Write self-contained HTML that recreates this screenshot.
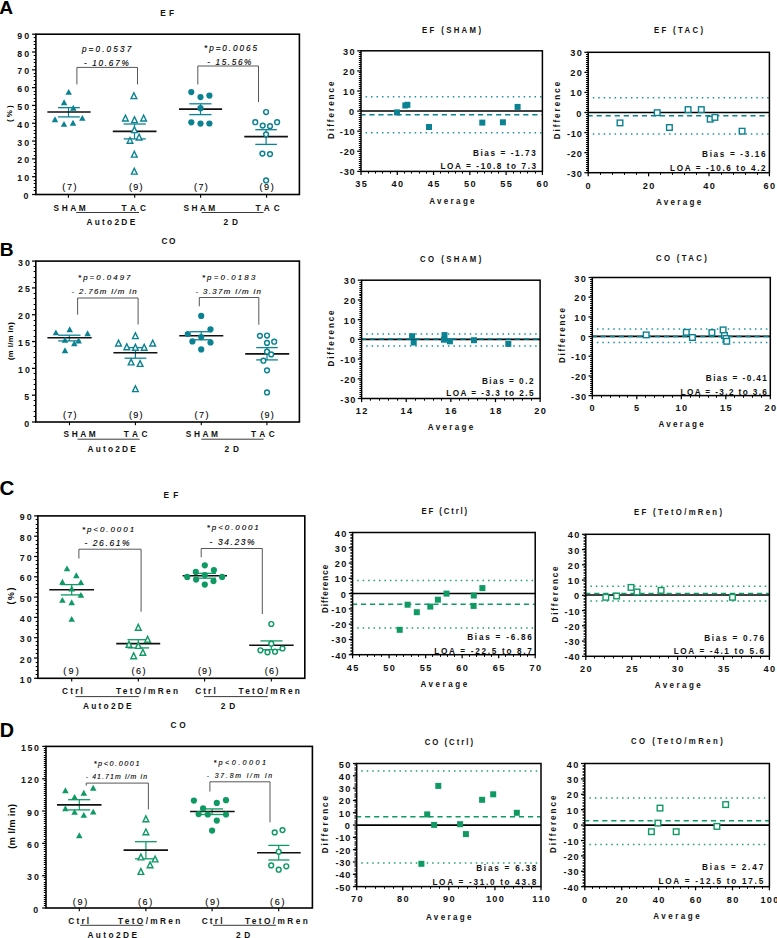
<!DOCTYPE html>
<html><head><meta charset="utf-8"><style>
html,body{margin:0;padding:0;background:#fff;}
svg{display:block;font-family:"Liberation Sans", sans-serif;}
</style></head><body>
<svg width="777" height="938" viewBox="0 0 777 938">
<rect width="777" height="938" fill="#fff"/>
<text x="-0.8" y="13.8" style="font-size:19.2px;font-weight:bold;fill:#000">A</text>
<text x="-0.2" y="255.9" style="font-size:19.2px;font-weight:bold;fill:#000">B</text>
<text x="-0.6" y="495" style="font-size:20.5px;font-weight:bold;fill:#000">C</text>
<text x="-0.2" y="737.3" style="font-size:19.8px;font-weight:bold;fill:#000">D</text>
<line x1="32.1" y1="194.5" x2="35.9" y2="194.5" stroke="#000" stroke-width="1.25" stroke-linecap="butt"/>
<line x1="33.7" y1="190.5" x2="35.9" y2="190.5" stroke="#000" stroke-width="1" stroke-linecap="butt"/>
<line x1="33.7" y1="187.5" x2="35.9" y2="187.5" stroke="#000" stroke-width="1" stroke-linecap="butt"/>
<line x1="33.7" y1="183.5" x2="35.9" y2="183.5" stroke="#000" stroke-width="1" stroke-linecap="butt"/>
<line x1="33.7" y1="180.5" x2="35.9" y2="180.5" stroke="#000" stroke-width="1" stroke-linecap="butt"/>
<line x1="32.1" y1="176.69" x2="35.9" y2="176.69" stroke="#000" stroke-width="1.25" stroke-linecap="butt"/>
<line x1="33.7" y1="173.5" x2="35.9" y2="173.5" stroke="#000" stroke-width="1" stroke-linecap="butt"/>
<line x1="33.7" y1="169.5" x2="35.9" y2="169.5" stroke="#000" stroke-width="1" stroke-linecap="butt"/>
<line x1="33.7" y1="166.5" x2="35.9" y2="166.5" stroke="#000" stroke-width="1" stroke-linecap="butt"/>
<line x1="33.7" y1="162.5" x2="35.9" y2="162.5" stroke="#000" stroke-width="1" stroke-linecap="butt"/>
<line x1="32.1" y1="158.88" x2="35.9" y2="158.88" stroke="#000" stroke-width="1.25" stroke-linecap="butt"/>
<line x1="33.7" y1="155.5" x2="35.9" y2="155.5" stroke="#000" stroke-width="1" stroke-linecap="butt"/>
<line x1="33.7" y1="151.5" x2="35.9" y2="151.5" stroke="#000" stroke-width="1" stroke-linecap="butt"/>
<line x1="33.7" y1="148.5" x2="35.9" y2="148.5" stroke="#000" stroke-width="1" stroke-linecap="butt"/>
<line x1="33.7" y1="144.5" x2="35.9" y2="144.5" stroke="#000" stroke-width="1" stroke-linecap="butt"/>
<line x1="32.1" y1="141.07" x2="35.9" y2="141.07" stroke="#000" stroke-width="1.25" stroke-linecap="butt"/>
<line x1="33.7" y1="137.5" x2="35.9" y2="137.5" stroke="#000" stroke-width="1" stroke-linecap="butt"/>
<line x1="33.7" y1="133.5" x2="35.9" y2="133.5" stroke="#000" stroke-width="1" stroke-linecap="butt"/>
<line x1="33.7" y1="130.5" x2="35.9" y2="130.5" stroke="#000" stroke-width="1" stroke-linecap="butt"/>
<line x1="33.7" y1="126.5" x2="35.9" y2="126.5" stroke="#000" stroke-width="1" stroke-linecap="butt"/>
<line x1="32.1" y1="123.26" x2="35.9" y2="123.26" stroke="#000" stroke-width="1.25" stroke-linecap="butt"/>
<line x1="33.7" y1="119.5" x2="35.9" y2="119.5" stroke="#000" stroke-width="1" stroke-linecap="butt"/>
<line x1="33.7" y1="116.5" x2="35.9" y2="116.5" stroke="#000" stroke-width="1" stroke-linecap="butt"/>
<line x1="33.7" y1="112.5" x2="35.9" y2="112.5" stroke="#000" stroke-width="1" stroke-linecap="butt"/>
<line x1="33.7" y1="109.5" x2="35.9" y2="109.5" stroke="#000" stroke-width="1" stroke-linecap="butt"/>
<line x1="32.1" y1="105.44" x2="35.9" y2="105.44" stroke="#000" stroke-width="1.25" stroke-linecap="butt"/>
<line x1="33.7" y1="101.5" x2="35.9" y2="101.5" stroke="#000" stroke-width="1" stroke-linecap="butt"/>
<line x1="33.7" y1="98.5" x2="35.9" y2="98.5" stroke="#000" stroke-width="1" stroke-linecap="butt"/>
<line x1="33.7" y1="94.5" x2="35.9" y2="94.5" stroke="#000" stroke-width="1" stroke-linecap="butt"/>
<line x1="33.7" y1="91.5" x2="35.9" y2="91.5" stroke="#000" stroke-width="1" stroke-linecap="butt"/>
<line x1="32.1" y1="87.63" x2="35.9" y2="87.63" stroke="#000" stroke-width="1.25" stroke-linecap="butt"/>
<line x1="33.7" y1="84.5" x2="35.9" y2="84.5" stroke="#000" stroke-width="1" stroke-linecap="butt"/>
<line x1="33.7" y1="80.5" x2="35.9" y2="80.5" stroke="#000" stroke-width="1" stroke-linecap="butt"/>
<line x1="33.7" y1="76.5" x2="35.9" y2="76.5" stroke="#000" stroke-width="1" stroke-linecap="butt"/>
<line x1="33.7" y1="73.5" x2="35.9" y2="73.5" stroke="#000" stroke-width="1" stroke-linecap="butt"/>
<line x1="32.1" y1="69.82" x2="35.9" y2="69.82" stroke="#000" stroke-width="1.25" stroke-linecap="butt"/>
<line x1="33.7" y1="66.5" x2="35.9" y2="66.5" stroke="#000" stroke-width="1" stroke-linecap="butt"/>
<line x1="33.7" y1="62.5" x2="35.9" y2="62.5" stroke="#000" stroke-width="1" stroke-linecap="butt"/>
<line x1="33.7" y1="59.5" x2="35.9" y2="59.5" stroke="#000" stroke-width="1" stroke-linecap="butt"/>
<line x1="33.7" y1="55.5" x2="35.9" y2="55.5" stroke="#000" stroke-width="1" stroke-linecap="butt"/>
<line x1="32.1" y1="52.01" x2="35.9" y2="52.01" stroke="#000" stroke-width="1.25" stroke-linecap="butt"/>
<line x1="33.7" y1="48.5" x2="35.9" y2="48.5" stroke="#000" stroke-width="1" stroke-linecap="butt"/>
<line x1="33.7" y1="44.5" x2="35.9" y2="44.5" stroke="#000" stroke-width="1" stroke-linecap="butt"/>
<line x1="33.7" y1="41.5" x2="35.9" y2="41.5" stroke="#000" stroke-width="1" stroke-linecap="butt"/>
<line x1="33.7" y1="37.5" x2="35.9" y2="37.5" stroke="#000" stroke-width="1" stroke-linecap="butt"/>
<line x1="32.1" y1="34.2" x2="35.9" y2="34.2" stroke="#000" stroke-width="1.25" stroke-linecap="butt"/>
<line x1="68.4" y1="194.5" x2="68.4" y2="197.7" stroke="#000" stroke-width="1.1" stroke-linecap="butt"/>
<line x1="134.7" y1="194.5" x2="134.7" y2="197.7" stroke="#000" stroke-width="1.1" stroke-linecap="butt"/>
<line x1="200.6" y1="194.5" x2="200.6" y2="197.7" stroke="#000" stroke-width="1.1" stroke-linecap="butt"/>
<line x1="266.6" y1="194.5" x2="266.6" y2="197.7" stroke="#000" stroke-width="1.1" stroke-linecap="butt"/>
<rect x="35.9" y="34.2" width="263.5" height="160.3" fill="none" stroke="#000" stroke-width="1.6"/>
<polyline points="76.9,84.4 76.9,67.4 137.5,67.4 137.5,84.4" fill="none" stroke="#444" stroke-width="0.9"/>
<polyline points="197.8,84.4 197.8,66 258.5,66 258.5,102" fill="none" stroke="#444" stroke-width="0.9"/>
<text transform="translate(81.9,51.7) scale(1,1)" textLength="49.3" lengthAdjust="spacing" style="font-size:8.2px;font-weight:normal;font-style:italic;fill:#000;stroke:#000;stroke-width:0.12px">p=0.0537</text>
<text transform="translate(83.9,65.7) scale(1,1)" textLength="44.8" lengthAdjust="spacing" style="font-size:8.2px;font-weight:normal;font-style:italic;fill:#000;stroke:#000;stroke-width:0.12px">- 10.67%</text>
<text transform="translate(204.1,51.2) scale(1,1)" textLength="52.9" lengthAdjust="spacing" style="font-size:8.2px;font-weight:normal;font-style:italic;fill:#000;stroke:#000;stroke-width:0.12px">*p=0.0065</text>
<text transform="translate(207.2,65) scale(1,1)" textLength="44.2" lengthAdjust="spacing" style="font-size:8.2px;font-weight:normal;font-style:italic;fill:#000;stroke:#000;stroke-width:0.12px">- 15.56%</text>
<line x1="68.5" y1="107.65" x2="68.5" y2="116.9" stroke="#0b8292" stroke-width="1.2" stroke-linecap="butt"/>
<line x1="58" y1="107.65" x2="79.8" y2="107.65" stroke="#0b8292" stroke-width="1.3" stroke-linecap="butt"/>
<line x1="58" y1="116.9" x2="79.8" y2="116.9" stroke="#0b8292" stroke-width="1.3" stroke-linecap="butt"/>
<line x1="47.4" y1="112" x2="90.6" y2="112" stroke="#111" stroke-width="1.6" stroke-linecap="butt"/>
<line x1="134.5" y1="124" x2="134.5" y2="138.9" stroke="#0b8292" stroke-width="1.2" stroke-linecap="butt"/>
<line x1="123.7" y1="124" x2="145.8" y2="124" stroke="#0b8292" stroke-width="1.3" stroke-linecap="butt"/>
<line x1="123.7" y1="138.9" x2="145.8" y2="138.9" stroke="#0b8292" stroke-width="1.3" stroke-linecap="butt"/>
<line x1="112.8" y1="131.4" x2="156.5" y2="131.4" stroke="#111" stroke-width="1.6" stroke-linecap="butt"/>
<line x1="200.5" y1="103.8" x2="200.5" y2="114.6" stroke="#0b8292" stroke-width="1.2" stroke-linecap="butt"/>
<line x1="189.3" y1="103.8" x2="211.5" y2="103.8" stroke="#0b8292" stroke-width="1.3" stroke-linecap="butt"/>
<line x1="189.3" y1="114.6" x2="211.5" y2="114.6" stroke="#0b8292" stroke-width="1.3" stroke-linecap="butt"/>
<line x1="179" y1="109.1" x2="222.1" y2="109.1" stroke="#111" stroke-width="1.6" stroke-linecap="butt"/>
<line x1="266.1" y1="129.7" x2="266.1" y2="144.4" stroke="#0b8292" stroke-width="1.2" stroke-linecap="butt"/>
<line x1="255.3" y1="129.7" x2="276.9" y2="129.7" stroke="#0b8292" stroke-width="1.3" stroke-linecap="butt"/>
<line x1="255.3" y1="144.4" x2="276.9" y2="144.4" stroke="#0b8292" stroke-width="1.3" stroke-linecap="butt"/>
<line x1="244.3" y1="136.6" x2="287.9" y2="136.6" stroke="#111" stroke-width="1.6" stroke-linecap="butt"/>
<polygon points="68.7,88.95 65.45,94.85 71.95,94.85" fill="#0b8292"/>
<polygon points="64.1,99.35 60.85,105.25 67.35,105.25" fill="#0b8292"/>
<polygon points="73.3,104.75 70.05,110.65 76.55,110.65" fill="#0b8292"/>
<polygon points="55,116.25 51.75,122.15 58.25,122.15" fill="#0b8292"/>
<polygon points="82.3,114.95 79.05,120.85 85.55,120.85" fill="#0b8292"/>
<polygon points="64,120.95 60.75,126.85 67.25,126.85" fill="#0b8292"/>
<polygon points="73,119.75 69.75,125.65 76.25,125.65" fill="#0b8292"/>
<polygon points="133.9,92.8 131.05,98.6 136.75,98.6" fill="#fff" stroke="#0b8292" stroke-width="1.4" stroke-linejoin="miter"/>
<polygon points="125.4,115.2 122.55,121 128.25,121" fill="#fff" stroke="#0b8292" stroke-width="1.4" stroke-linejoin="miter"/>
<polygon points="134.5,116.8 131.65,122.6 137.35,122.6" fill="#fff" stroke="#0b8292" stroke-width="1.4" stroke-linejoin="miter"/>
<polygon points="143.6,115.2 140.75,121 146.45,121" fill="#fff" stroke="#0b8292" stroke-width="1.4" stroke-linejoin="miter"/>
<polygon points="134.4,126.8 131.55,132.6 137.25,132.6" fill="#fff" stroke="#0b8292" stroke-width="1.4" stroke-linejoin="miter"/>
<polygon points="139.1,134.2 136.25,140 141.95,140" fill="#fff" stroke="#0b8292" stroke-width="1.4" stroke-linejoin="miter"/>
<polygon points="130,137.5 127.15,143.3 132.85,143.3" fill="#fff" stroke="#0b8292" stroke-width="1.4" stroke-linejoin="miter"/>
<polygon points="134.3,151.3 131.45,157.1 137.15,157.1" fill="#fff" stroke="#0b8292" stroke-width="1.4" stroke-linejoin="miter"/>
<polygon points="134.3,168.3 131.45,174.1 137.15,174.1" fill="#fff" stroke="#0b8292" stroke-width="1.4" stroke-linejoin="miter"/>
<circle cx="191.3" cy="92.1" r="3.1" fill="#0b8292"/>
<circle cx="200.5" cy="97.1" r="3.1" fill="#0b8292"/>
<circle cx="209.4" cy="95.6" r="3.1" fill="#0b8292"/>
<circle cx="200.5" cy="108.2" r="3.1" fill="#0b8292"/>
<circle cx="191.3" cy="122.3" r="3.1" fill="#0b8292"/>
<circle cx="200.5" cy="123.6" r="3.1" fill="#0b8292"/>
<circle cx="209.4" cy="123.5" r="3.1" fill="#0b8292"/>
<circle cx="266.1" cy="112" r="2.4" fill="#fff" stroke="#0b8292" stroke-width="1.45"/>
<circle cx="255.3" cy="122.2" r="2.4" fill="#fff" stroke="#0b8292" stroke-width="1.45"/>
<circle cx="262.7" cy="125.6" r="2.4" fill="#fff" stroke="#0b8292" stroke-width="1.45"/>
<circle cx="270" cy="126.2" r="2.4" fill="#fff" stroke="#0b8292" stroke-width="1.45"/>
<circle cx="277.1" cy="122.2" r="2.4" fill="#fff" stroke="#0b8292" stroke-width="1.45"/>
<circle cx="266.1" cy="134.3" r="2.4" fill="#fff" stroke="#0b8292" stroke-width="1.45"/>
<circle cx="262.4" cy="153.6" r="2.4" fill="#fff" stroke="#0b8292" stroke-width="1.45"/>
<circle cx="270" cy="154.1" r="2.4" fill="#fff" stroke="#0b8292" stroke-width="1.45"/>
<circle cx="266.1" cy="180.4" r="2.4" fill="#fff" stroke="#0b8292" stroke-width="1.45"/>
<text transform="translate(23.4,199.02) scale(1.05,1)" textLength="5.43" lengthAdjust="spacing" style="font-size:8.4px;font-weight:bold;font-style:normal;fill:#111">0</text>
<text transform="translate(17.2,181.21) scale(1.05,1)" textLength="11.33" lengthAdjust="spacing" style="font-size:8.4px;font-weight:bold;font-style:normal;fill:#111">10</text>
<text transform="translate(17.2,163.4) scale(1.05,1)" textLength="11.33" lengthAdjust="spacing" style="font-size:8.4px;font-weight:bold;font-style:normal;fill:#111">20</text>
<text transform="translate(17.2,145.59) scale(1.05,1)" textLength="11.33" lengthAdjust="spacing" style="font-size:8.4px;font-weight:bold;font-style:normal;fill:#111">30</text>
<text transform="translate(17.2,127.78) scale(1.05,1)" textLength="11.33" lengthAdjust="spacing" style="font-size:8.4px;font-weight:bold;font-style:normal;fill:#111">40</text>
<text transform="translate(17.2,109.97) scale(1.05,1)" textLength="11.33" lengthAdjust="spacing" style="font-size:8.4px;font-weight:bold;font-style:normal;fill:#111">50</text>
<text transform="translate(17.2,92.16) scale(1.05,1)" textLength="11.33" lengthAdjust="spacing" style="font-size:8.4px;font-weight:bold;font-style:normal;fill:#111">60</text>
<text transform="translate(17.2,74.35) scale(1.05,1)" textLength="11.33" lengthAdjust="spacing" style="font-size:8.4px;font-weight:bold;font-style:normal;fill:#111">70</text>
<text transform="translate(17.2,56.54) scale(1.05,1)" textLength="11.33" lengthAdjust="spacing" style="font-size:8.4px;font-weight:bold;font-style:normal;fill:#111">80</text>
<text transform="translate(17.2,38.72) scale(1.05,1)" textLength="11.33" lengthAdjust="spacing" style="font-size:8.4px;font-weight:bold;font-style:normal;fill:#111">90</text>
<text transform="translate(62.3,189.8) scale(1.05,1)" textLength="13.62" lengthAdjust="spacing" style="font-size:8.6px;font-weight:normal;font-style:normal;fill:#000;stroke:#000;stroke-width:0.1px">(7)</text>
<text transform="translate(128.9,189.8) scale(1.05,1)" textLength="13.05" lengthAdjust="spacing" style="font-size:8.6px;font-weight:normal;font-style:normal;fill:#000;stroke:#000;stroke-width:0.1px">(9)</text>
<text transform="translate(194.1,189.8) scale(1.05,1)" textLength="13.05" lengthAdjust="spacing" style="font-size:8.6px;font-weight:normal;font-style:normal;fill:#000;stroke:#000;stroke-width:0.1px">(7)</text>
<text transform="translate(259.4,189.8) scale(1.05,1)" textLength="13.71" lengthAdjust="spacing" style="font-size:8.6px;font-weight:normal;font-style:normal;fill:#000;stroke:#000;stroke-width:0.1px">(9)</text>
<text transform="translate(53.6,210.8) scale(1,1)" textLength="32.1" lengthAdjust="spacing" style="font-size:8.3px;font-weight:bold;font-style:normal;fill:#111">SHAM</text>
<text transform="translate(121.5,210.8) scale(1,1)" textLength="24.4" lengthAdjust="spacing" style="font-size:8.3px;font-weight:bold;font-style:normal;fill:#111">TAC</text>
<text transform="translate(183.4,210.8) scale(1,1)" textLength="31.8" lengthAdjust="spacing" style="font-size:8.3px;font-weight:bold;font-style:normal;fill:#111">SHAM</text>
<text transform="translate(255.4,210.8) scale(1,1)" textLength="24.4" lengthAdjust="spacing" style="font-size:8.3px;font-weight:bold;font-style:normal;fill:#111">TAC</text>
<line x1="76.1" y1="212.5" x2="139" y2="212.5" stroke="#222" stroke-width="0.9" stroke-linecap="butt"/>
<line x1="201.6" y1="212.5" x2="263.6" y2="212.5" stroke="#222" stroke-width="0.9" stroke-linecap="butt"/>
<text transform="translate(86.4,224.9) scale(1,1)" textLength="48.8" lengthAdjust="spacing" style="font-size:8.3px;font-weight:bold;font-style:normal;fill:#111">Auto2DE</text>
<text transform="translate(223.6,224.9) scale(1,1)" textLength="14.4" lengthAdjust="spacing" style="font-size:8.3px;font-weight:bold;font-style:normal;fill:#111">2D</text>
<text transform="translate(12,122) rotate(-90) scale(1,1)" textLength="16.8" lengthAdjust="spacing" style="font-size:8px;font-weight:bold;font-style:normal;fill:#000">(%)</text>
<text transform="translate(160.2,16.1) scale(1,1)" textLength="14" lengthAdjust="spacing" style="font-size:8.3px;font-weight:bold;font-style:normal;fill:#111">EF</text>
<line x1="32" y1="422" x2="35.8" y2="422" stroke="#000" stroke-width="1.25" stroke-linecap="butt"/>
<line x1="33.6" y1="416.5" x2="35.8" y2="416.5" stroke="#000" stroke-width="1" stroke-linecap="butt"/>
<line x1="33.6" y1="411.5" x2="35.8" y2="411.5" stroke="#000" stroke-width="1" stroke-linecap="butt"/>
<line x1="33.6" y1="405.5" x2="35.8" y2="405.5" stroke="#000" stroke-width="1" stroke-linecap="butt"/>
<line x1="33.6" y1="400.5" x2="35.8" y2="400.5" stroke="#000" stroke-width="1" stroke-linecap="butt"/>
<line x1="32" y1="395.18" x2="35.8" y2="395.18" stroke="#000" stroke-width="1.25" stroke-linecap="butt"/>
<line x1="33.6" y1="389.5" x2="35.8" y2="389.5" stroke="#000" stroke-width="1" stroke-linecap="butt"/>
<line x1="33.6" y1="384.5" x2="35.8" y2="384.5" stroke="#000" stroke-width="1" stroke-linecap="butt"/>
<line x1="33.6" y1="379.5" x2="35.8" y2="379.5" stroke="#000" stroke-width="1" stroke-linecap="butt"/>
<line x1="33.6" y1="373.5" x2="35.8" y2="373.5" stroke="#000" stroke-width="1" stroke-linecap="butt"/>
<line x1="32" y1="368.37" x2="35.8" y2="368.37" stroke="#000" stroke-width="1.25" stroke-linecap="butt"/>
<line x1="33.6" y1="363.5" x2="35.8" y2="363.5" stroke="#000" stroke-width="1" stroke-linecap="butt"/>
<line x1="33.6" y1="357.5" x2="35.8" y2="357.5" stroke="#000" stroke-width="1" stroke-linecap="butt"/>
<line x1="33.6" y1="352.5" x2="35.8" y2="352.5" stroke="#000" stroke-width="1" stroke-linecap="butt"/>
<line x1="33.6" y1="346.5" x2="35.8" y2="346.5" stroke="#000" stroke-width="1" stroke-linecap="butt"/>
<line x1="32" y1="341.55" x2="35.8" y2="341.55" stroke="#000" stroke-width="1.25" stroke-linecap="butt"/>
<line x1="33.6" y1="336.5" x2="35.8" y2="336.5" stroke="#000" stroke-width="1" stroke-linecap="butt"/>
<line x1="33.6" y1="330.5" x2="35.8" y2="330.5" stroke="#000" stroke-width="1" stroke-linecap="butt"/>
<line x1="33.6" y1="325.5" x2="35.8" y2="325.5" stroke="#000" stroke-width="1" stroke-linecap="butt"/>
<line x1="33.6" y1="320.5" x2="35.8" y2="320.5" stroke="#000" stroke-width="1" stroke-linecap="butt"/>
<line x1="32" y1="314.73" x2="35.8" y2="314.73" stroke="#000" stroke-width="1.25" stroke-linecap="butt"/>
<line x1="33.6" y1="309.5" x2="35.8" y2="309.5" stroke="#000" stroke-width="1" stroke-linecap="butt"/>
<line x1="33.6" y1="304.5" x2="35.8" y2="304.5" stroke="#000" stroke-width="1" stroke-linecap="butt"/>
<line x1="33.6" y1="298.5" x2="35.8" y2="298.5" stroke="#000" stroke-width="1" stroke-linecap="butt"/>
<line x1="33.6" y1="293.5" x2="35.8" y2="293.5" stroke="#000" stroke-width="1" stroke-linecap="butt"/>
<line x1="32" y1="287.92" x2="35.8" y2="287.92" stroke="#000" stroke-width="1.25" stroke-linecap="butt"/>
<line x1="33.6" y1="282.5" x2="35.8" y2="282.5" stroke="#000" stroke-width="1" stroke-linecap="butt"/>
<line x1="33.6" y1="277.5" x2="35.8" y2="277.5" stroke="#000" stroke-width="1" stroke-linecap="butt"/>
<line x1="33.6" y1="271.5" x2="35.8" y2="271.5" stroke="#000" stroke-width="1" stroke-linecap="butt"/>
<line x1="33.6" y1="266.5" x2="35.8" y2="266.5" stroke="#000" stroke-width="1" stroke-linecap="butt"/>
<line x1="32" y1="261.1" x2="35.8" y2="261.1" stroke="#000" stroke-width="1.25" stroke-linecap="butt"/>
<line x1="69.5" y1="422" x2="69.5" y2="425.2" stroke="#000" stroke-width="1.1" stroke-linecap="butt"/>
<line x1="135.4" y1="422" x2="135.4" y2="425.2" stroke="#000" stroke-width="1.1" stroke-linecap="butt"/>
<line x1="201.3" y1="422" x2="201.3" y2="425.2" stroke="#000" stroke-width="1.1" stroke-linecap="butt"/>
<line x1="266.9" y1="422" x2="266.9" y2="425.2" stroke="#000" stroke-width="1.1" stroke-linecap="butt"/>
<rect x="35.8" y="261.1" width="263.6" height="160.9" fill="none" stroke="#000" stroke-width="1.6"/>
<polyline points="77.6,314.7 77.6,298 138.1,298 138.1,324.4" fill="none" stroke="#444" stroke-width="0.9"/>
<polyline points="199.3,306.3 199.3,297.5 258.8,297.5 258.8,324.7" fill="none" stroke="#444" stroke-width="0.9"/>
<text transform="translate(78.1,279.7) scale(1,1)" textLength="52.4" lengthAdjust="spacing" style="font-size:7.9px;font-weight:normal;font-style:italic;fill:#000;stroke:#000;stroke-width:0.12px">*p=0.0497</text>
<text transform="translate(71.6,293.7) scale(1,1)" textLength="65.1" lengthAdjust="spacing" style="font-size:7.9px;font-weight:normal;font-style:italic;fill:#000;stroke:#000;stroke-width:0.12px">- 2.76m l/m in</text>
<text transform="translate(201.9,279.7) scale(1,1)" textLength="53.4" lengthAdjust="spacing" style="font-size:7.9px;font-weight:normal;font-style:italic;fill:#000;stroke:#000;stroke-width:0.12px">*p=0.0183</text>
<text transform="translate(195.4,293.7) scale(1,1)" textLength="65.6" lengthAdjust="spacing" style="font-size:7.9px;font-weight:normal;font-style:italic;fill:#000;stroke:#000;stroke-width:0.12px">- 3.37m l/m in</text>
<line x1="69.3" y1="335.2" x2="69.3" y2="340.9" stroke="#0b8292" stroke-width="1.2" stroke-linecap="butt"/>
<line x1="58.2" y1="335.2" x2="80.5" y2="335.2" stroke="#0b8292" stroke-width="1.3" stroke-linecap="butt"/>
<line x1="58.2" y1="340.9" x2="80.5" y2="340.9" stroke="#0b8292" stroke-width="1.3" stroke-linecap="butt"/>
<line x1="47.4" y1="337.8" x2="91.7" y2="337.8" stroke="#111" stroke-width="1.6" stroke-linecap="butt"/>
<line x1="135.4" y1="347.6" x2="135.4" y2="358.2" stroke="#0b8292" stroke-width="1.2" stroke-linecap="butt"/>
<line x1="124.6" y1="347.6" x2="146.3" y2="347.6" stroke="#0b8292" stroke-width="1.3" stroke-linecap="butt"/>
<line x1="124.6" y1="358.2" x2="146.3" y2="358.2" stroke="#0b8292" stroke-width="1.3" stroke-linecap="butt"/>
<line x1="113.4" y1="352.8" x2="157.4" y2="352.8" stroke="#111" stroke-width="1.6" stroke-linecap="butt"/>
<line x1="201.2" y1="331.7" x2="201.2" y2="339.8" stroke="#0b8292" stroke-width="1.2" stroke-linecap="butt"/>
<line x1="190.1" y1="331.7" x2="211.7" y2="331.7" stroke="#0b8292" stroke-width="1.3" stroke-linecap="butt"/>
<line x1="190.1" y1="339.8" x2="211.7" y2="339.8" stroke="#0b8292" stroke-width="1.3" stroke-linecap="butt"/>
<line x1="179.3" y1="335.8" x2="223.3" y2="335.8" stroke="#111" stroke-width="1.6" stroke-linecap="butt"/>
<line x1="267" y1="347.6" x2="267" y2="359.9" stroke="#0b8292" stroke-width="1.2" stroke-linecap="butt"/>
<line x1="256.2" y1="347.6" x2="277.8" y2="347.6" stroke="#0b8292" stroke-width="1.3" stroke-linecap="butt"/>
<line x1="256.2" y1="359.9" x2="277.8" y2="359.9" stroke="#0b8292" stroke-width="1.3" stroke-linecap="butt"/>
<line x1="245.2" y1="353.9" x2="289.2" y2="353.9" stroke="#111" stroke-width="1.6" stroke-linecap="butt"/>
<polygon points="55.9,329.45 52.65,335.35 59.15,335.35" fill="#0b8292"/>
<polygon points="69.7,326.35 66.45,332.25 72.95,332.25" fill="#0b8292"/>
<polygon points="87.6,330.25 84.35,336.15 90.85,336.15" fill="#0b8292"/>
<polygon points="65,336.85 61.75,342.75 68.25,342.75" fill="#0b8292"/>
<polygon points="78.6,337.55 75.35,343.45 81.85,343.45" fill="#0b8292"/>
<polygon points="74.3,340.25 71.05,346.15 77.55,346.15" fill="#0b8292"/>
<polygon points="65,347.25 61.75,353.15 68.25,353.15" fill="#0b8292"/>
<polygon points="135.4,332.8 132.55,338.6 138.25,338.6" fill="#fff" stroke="#0b8292" stroke-width="1.4" stroke-linejoin="miter"/>
<polygon points="118.5,340.2 115.65,346 121.35,346" fill="#fff" stroke="#0b8292" stroke-width="1.4" stroke-linejoin="miter"/>
<polygon points="152.7,340.2 149.85,346 155.55,346" fill="#fff" stroke="#0b8292" stroke-width="1.4" stroke-linejoin="miter"/>
<polygon points="126.8,343.9 123.95,349.7 129.65,349.7" fill="#fff" stroke="#0b8292" stroke-width="1.4" stroke-linejoin="miter"/>
<polygon points="135.4,344.4 132.55,350.2 138.25,350.2" fill="#fff" stroke="#0b8292" stroke-width="1.4" stroke-linejoin="miter"/>
<polygon points="144.2,344.4 141.35,350.2 147.05,350.2" fill="#fff" stroke="#0b8292" stroke-width="1.4" stroke-linejoin="miter"/>
<polygon points="131.1,359.1 128.25,364.9 133.95,364.9" fill="#fff" stroke="#0b8292" stroke-width="1.4" stroke-linejoin="miter"/>
<polygon points="140.1,360.6 137.25,366.4 142.95,366.4" fill="#fff" stroke="#0b8292" stroke-width="1.4" stroke-linejoin="miter"/>
<polygon points="135.4,385.8 132.55,391.6 138.25,391.6" fill="#fff" stroke="#0b8292" stroke-width="1.4" stroke-linejoin="miter"/>
<circle cx="201.2" cy="315.9" r="3.1" fill="#0b8292"/>
<circle cx="210.5" cy="329.3" r="3.1" fill="#0b8292"/>
<circle cx="187.8" cy="334" r="3.1" fill="#0b8292"/>
<circle cx="201.2" cy="337.1" r="3.1" fill="#0b8292"/>
<circle cx="192.4" cy="341.4" r="3.1" fill="#0b8292"/>
<circle cx="210.5" cy="342.5" r="3.1" fill="#0b8292"/>
<circle cx="201.2" cy="349.4" r="3.1" fill="#0b8292"/>
<circle cx="259.9" cy="335.8" r="2.4" fill="#fff" stroke="#0b8292" stroke-width="1.45"/>
<circle cx="267" cy="335.5" r="2.4" fill="#fff" stroke="#0b8292" stroke-width="1.45"/>
<circle cx="267" cy="342.9" r="2.4" fill="#fff" stroke="#0b8292" stroke-width="1.45"/>
<circle cx="274.2" cy="341.7" r="2.4" fill="#fff" stroke="#0b8292" stroke-width="1.45"/>
<circle cx="267" cy="351.7" r="2.4" fill="#fff" stroke="#0b8292" stroke-width="1.45"/>
<circle cx="271.2" cy="354.4" r="2.4" fill="#fff" stroke="#0b8292" stroke-width="1.45"/>
<circle cx="263.4" cy="360.7" r="2.4" fill="#fff" stroke="#0b8292" stroke-width="1.45"/>
<circle cx="267" cy="370.3" r="2.4" fill="#fff" stroke="#0b8292" stroke-width="1.45"/>
<circle cx="267" cy="392.4" r="2.4" fill="#fff" stroke="#0b8292" stroke-width="1.45"/>
<text transform="translate(24.2,426.52) scale(1.05,1)" textLength="5.43" lengthAdjust="spacing" style="font-size:8.4px;font-weight:bold;font-style:normal;fill:#111">0</text>
<text transform="translate(24.2,399.71) scale(1.05,1)" textLength="5.43" lengthAdjust="spacing" style="font-size:8.4px;font-weight:bold;font-style:normal;fill:#111">5</text>
<text transform="translate(18,372.89) scale(1.05,1)" textLength="11.33" lengthAdjust="spacing" style="font-size:8.4px;font-weight:bold;font-style:normal;fill:#111">10</text>
<text transform="translate(18,346.07) scale(1.05,1)" textLength="11.33" lengthAdjust="spacing" style="font-size:8.4px;font-weight:bold;font-style:normal;fill:#111">15</text>
<text transform="translate(18,319.26) scale(1.05,1)" textLength="11.33" lengthAdjust="spacing" style="font-size:8.4px;font-weight:bold;font-style:normal;fill:#111">20</text>
<text transform="translate(18,292.44) scale(1.05,1)" textLength="11.33" lengthAdjust="spacing" style="font-size:8.4px;font-weight:bold;font-style:normal;fill:#111">25</text>
<text transform="translate(18,265.62) scale(1.05,1)" textLength="11.33" lengthAdjust="spacing" style="font-size:8.4px;font-weight:bold;font-style:normal;fill:#111">30</text>
<text transform="translate(62.9,417.8) scale(1.05,1)" textLength="13.05" lengthAdjust="spacing" style="font-size:8.6px;font-weight:normal;font-style:normal;fill:#000;stroke:#000;stroke-width:0.1px">(7)</text>
<text transform="translate(128.9,417.8) scale(1.05,1)" textLength="13.05" lengthAdjust="spacing" style="font-size:8.6px;font-weight:normal;font-style:normal;fill:#000;stroke:#000;stroke-width:0.1px">(9)</text>
<text transform="translate(194.5,417.8) scale(1.05,1)" textLength="13.33" lengthAdjust="spacing" style="font-size:8.6px;font-weight:normal;font-style:normal;fill:#000;stroke:#000;stroke-width:0.1px">(7)</text>
<text transform="translate(260.4,417.8) scale(1.05,1)" textLength="12.76" lengthAdjust="spacing" style="font-size:8.6px;font-weight:normal;font-style:normal;fill:#000;stroke:#000;stroke-width:0.1px">(9)</text>
<text transform="translate(63.6,437.1) scale(1,1)" textLength="32.1" lengthAdjust="spacing" style="font-size:8.3px;font-weight:bold;font-style:normal;fill:#111">SHAM</text>
<text transform="translate(123.8,437.1) scale(1,1)" textLength="23.8" lengthAdjust="spacing" style="font-size:8.3px;font-weight:bold;font-style:normal;fill:#111">TAC</text>
<text transform="translate(185.8,437.1) scale(1,1)" textLength="32.1" lengthAdjust="spacing" style="font-size:8.3px;font-weight:bold;font-style:normal;fill:#111">SHAM</text>
<text transform="translate(251,437.1) scale(1,1)" textLength="23.8" lengthAdjust="spacing" style="font-size:8.3px;font-weight:bold;font-style:normal;fill:#111">TAC</text>
<line x1="77.5" y1="439.2" x2="139.7" y2="439.2" stroke="#222" stroke-width="0.9" stroke-linecap="butt"/>
<line x1="201.3" y1="439.2" x2="263.6" y2="439.2" stroke="#222" stroke-width="0.9" stroke-linecap="butt"/>
<text transform="translate(87.4,451.5) scale(1,1)" textLength="48.5" lengthAdjust="spacing" style="font-size:8.3px;font-weight:bold;font-style:normal;fill:#111">Auto2DE</text>
<text transform="translate(224.6,451.5) scale(1,1)" textLength="14.4" lengthAdjust="spacing" style="font-size:8.3px;font-weight:bold;font-style:normal;fill:#111">2D</text>
<text transform="translate(13,360.1) rotate(-90) scale(1,1)" textLength="37.8" lengthAdjust="spacing" style="font-size:7.6px;font-weight:bold;font-style:normal;fill:#000">(m l/m in)</text>
<text transform="translate(161.4,244.2) scale(1,1)" textLength="14.1" lengthAdjust="spacing" style="font-size:8.3px;font-weight:bold;font-style:normal;fill:#111">CO</text>
<line x1="34.1" y1="678.3" x2="37.9" y2="678.3" stroke="#000" stroke-width="1.25" stroke-linecap="butt"/>
<line x1="35.7" y1="674.5" x2="37.9" y2="674.5" stroke="#000" stroke-width="1" stroke-linecap="butt"/>
<line x1="35.7" y1="670.5" x2="37.9" y2="670.5" stroke="#000" stroke-width="1" stroke-linecap="butt"/>
<line x1="35.7" y1="666.5" x2="37.9" y2="666.5" stroke="#000" stroke-width="1" stroke-linecap="butt"/>
<line x1="35.7" y1="662.5" x2="37.9" y2="662.5" stroke="#000" stroke-width="1" stroke-linecap="butt"/>
<line x1="34.1" y1="658" x2="37.9" y2="658" stroke="#000" stroke-width="1.25" stroke-linecap="butt"/>
<line x1="35.7" y1="653.5" x2="37.9" y2="653.5" stroke="#000" stroke-width="1" stroke-linecap="butt"/>
<line x1="35.7" y1="649.5" x2="37.9" y2="649.5" stroke="#000" stroke-width="1" stroke-linecap="butt"/>
<line x1="35.7" y1="645.5" x2="37.9" y2="645.5" stroke="#000" stroke-width="1" stroke-linecap="butt"/>
<line x1="35.7" y1="641.5" x2="37.9" y2="641.5" stroke="#000" stroke-width="1" stroke-linecap="butt"/>
<line x1="34.1" y1="637.7" x2="37.9" y2="637.7" stroke="#000" stroke-width="1.25" stroke-linecap="butt"/>
<line x1="35.7" y1="633.5" x2="37.9" y2="633.5" stroke="#000" stroke-width="1" stroke-linecap="butt"/>
<line x1="35.7" y1="629.5" x2="37.9" y2="629.5" stroke="#000" stroke-width="1" stroke-linecap="butt"/>
<line x1="35.7" y1="625.5" x2="37.9" y2="625.5" stroke="#000" stroke-width="1" stroke-linecap="butt"/>
<line x1="35.7" y1="621.5" x2="37.9" y2="621.5" stroke="#000" stroke-width="1" stroke-linecap="butt"/>
<line x1="34.1" y1="617.4" x2="37.9" y2="617.4" stroke="#000" stroke-width="1.25" stroke-linecap="butt"/>
<line x1="35.7" y1="613.5" x2="37.9" y2="613.5" stroke="#000" stroke-width="1" stroke-linecap="butt"/>
<line x1="35.7" y1="609.5" x2="37.9" y2="609.5" stroke="#000" stroke-width="1" stroke-linecap="butt"/>
<line x1="35.7" y1="605.5" x2="37.9" y2="605.5" stroke="#000" stroke-width="1" stroke-linecap="butt"/>
<line x1="35.7" y1="601.5" x2="37.9" y2="601.5" stroke="#000" stroke-width="1" stroke-linecap="butt"/>
<line x1="34.1" y1="597.1" x2="37.9" y2="597.1" stroke="#000" stroke-width="1.25" stroke-linecap="butt"/>
<line x1="35.7" y1="593.5" x2="37.9" y2="593.5" stroke="#000" stroke-width="1" stroke-linecap="butt"/>
<line x1="35.7" y1="588.5" x2="37.9" y2="588.5" stroke="#000" stroke-width="1" stroke-linecap="butt"/>
<line x1="35.7" y1="584.5" x2="37.9" y2="584.5" stroke="#000" stroke-width="1" stroke-linecap="butt"/>
<line x1="35.7" y1="580.5" x2="37.9" y2="580.5" stroke="#000" stroke-width="1" stroke-linecap="butt"/>
<line x1="34.1" y1="576.8" x2="37.9" y2="576.8" stroke="#000" stroke-width="1.25" stroke-linecap="butt"/>
<line x1="35.7" y1="572.5" x2="37.9" y2="572.5" stroke="#000" stroke-width="1" stroke-linecap="butt"/>
<line x1="35.7" y1="568.5" x2="37.9" y2="568.5" stroke="#000" stroke-width="1" stroke-linecap="butt"/>
<line x1="35.7" y1="564.5" x2="37.9" y2="564.5" stroke="#000" stroke-width="1" stroke-linecap="butt"/>
<line x1="35.7" y1="560.5" x2="37.9" y2="560.5" stroke="#000" stroke-width="1" stroke-linecap="butt"/>
<line x1="34.1" y1="556.5" x2="37.9" y2="556.5" stroke="#000" stroke-width="1.25" stroke-linecap="butt"/>
<line x1="35.7" y1="552.5" x2="37.9" y2="552.5" stroke="#000" stroke-width="1" stroke-linecap="butt"/>
<line x1="35.7" y1="548.5" x2="37.9" y2="548.5" stroke="#000" stroke-width="1" stroke-linecap="butt"/>
<line x1="35.7" y1="544.5" x2="37.9" y2="544.5" stroke="#000" stroke-width="1" stroke-linecap="butt"/>
<line x1="35.7" y1="540.5" x2="37.9" y2="540.5" stroke="#000" stroke-width="1" stroke-linecap="butt"/>
<line x1="34.1" y1="536.2" x2="37.9" y2="536.2" stroke="#000" stroke-width="1.25" stroke-linecap="butt"/>
<line x1="35.7" y1="532.5" x2="37.9" y2="532.5" stroke="#000" stroke-width="1" stroke-linecap="butt"/>
<line x1="35.7" y1="528.5" x2="37.9" y2="528.5" stroke="#000" stroke-width="1" stroke-linecap="butt"/>
<line x1="35.7" y1="524.5" x2="37.9" y2="524.5" stroke="#000" stroke-width="1" stroke-linecap="butt"/>
<line x1="35.7" y1="519.5" x2="37.9" y2="519.5" stroke="#000" stroke-width="1" stroke-linecap="butt"/>
<line x1="34.1" y1="515.9" x2="37.9" y2="515.9" stroke="#000" stroke-width="1.25" stroke-linecap="butt"/>
<line x1="71.7" y1="678.3" x2="71.7" y2="681.5" stroke="#000" stroke-width="1.1" stroke-linecap="butt"/>
<line x1="138.3" y1="678.3" x2="138.3" y2="681.5" stroke="#000" stroke-width="1.1" stroke-linecap="butt"/>
<line x1="204.6" y1="678.3" x2="204.6" y2="681.5" stroke="#000" stroke-width="1.1" stroke-linecap="butt"/>
<line x1="271.3" y1="678.3" x2="271.3" y2="681.5" stroke="#000" stroke-width="1.1" stroke-linecap="butt"/>
<rect x="37.9" y="515.9" width="266.9" height="162.4" fill="none" stroke="#000" stroke-width="1.6"/>
<polyline points="78.9,558.6 78.9,549.2 141.1,549.2 141.1,611.8" fill="none" stroke="#444" stroke-width="0.9"/>
<polyline points="201.2,557.3 201.2,548.5 262.3,548.5 262.3,614" fill="none" stroke="#444" stroke-width="0.9"/>
<text transform="translate(81.9,531.9) scale(1,1)" textLength="52.2" lengthAdjust="spacing" style="font-size:8px;font-weight:normal;font-style:italic;fill:#000;stroke:#000;stroke-width:0.12px">*p&lt;0.0001</text>
<text transform="translate(84.4,545.7) scale(1,1)" textLength="45.2" lengthAdjust="spacing" style="font-size:8.5px;font-weight:normal;font-style:italic;fill:#000;stroke:#000;stroke-width:0.12px">- 26.61%</text>
<text transform="translate(206.8,530.4) scale(1,1)" textLength="52" lengthAdjust="spacing" style="font-size:8px;font-weight:normal;font-style:italic;fill:#000;stroke:#000;stroke-width:0.12px">*p&lt;0.0001</text>
<text transform="translate(209.6,544.6) scale(1,1)" textLength="44.9" lengthAdjust="spacing" style="font-size:8.5px;font-weight:normal;font-style:italic;fill:#000;stroke:#000;stroke-width:0.12px">- 34.23%</text>
<line x1="71.7" y1="584.6" x2="71.7" y2="594.9" stroke="#0e9a62" stroke-width="1.2" stroke-linecap="butt"/>
<line x1="60.8" y1="584.6" x2="82.5" y2="584.6" stroke="#0e9a62" stroke-width="1.3" stroke-linecap="butt"/>
<line x1="60.8" y1="594.9" x2="82.5" y2="594.9" stroke="#0e9a62" stroke-width="1.3" stroke-linecap="butt"/>
<line x1="49.3" y1="589.8" x2="94.1" y2="589.8" stroke="#111" stroke-width="1.6" stroke-linecap="butt"/>
<line x1="138.3" y1="639.7" x2="138.3" y2="647.9" stroke="#0e9a62" stroke-width="1.2" stroke-linecap="butt"/>
<line x1="127.5" y1="639.7" x2="149.1" y2="639.7" stroke="#0e9a62" stroke-width="1.3" stroke-linecap="butt"/>
<line x1="127.5" y1="647.9" x2="149.1" y2="647.9" stroke="#0e9a62" stroke-width="1.3" stroke-linecap="butt"/>
<line x1="116.2" y1="643.6" x2="160.2" y2="643.6" stroke="#111" stroke-width="1.6" stroke-linecap="butt"/>
<line x1="204.8" y1="573.3" x2="204.8" y2="578.2" stroke="#0e9a62" stroke-width="1.2" stroke-linecap="butt"/>
<line x1="193.5" y1="573.3" x2="216" y2="573.3" stroke="#0e9a62" stroke-width="1.3" stroke-linecap="butt"/>
<line x1="193.5" y1="578.2" x2="216" y2="578.2" stroke="#0e9a62" stroke-width="1.3" stroke-linecap="butt"/>
<line x1="182.6" y1="575.7" x2="227" y2="575.7" stroke="#111" stroke-width="1.6" stroke-linecap="butt"/>
<line x1="271.3" y1="640.9" x2="271.3" y2="649.7" stroke="#0e9a62" stroke-width="1.2" stroke-linecap="butt"/>
<line x1="260.4" y1="640.9" x2="282.5" y2="640.9" stroke="#0e9a62" stroke-width="1.3" stroke-linecap="butt"/>
<line x1="260.4" y1="649.7" x2="282.5" y2="649.7" stroke="#0e9a62" stroke-width="1.3" stroke-linecap="butt"/>
<line x1="249.2" y1="645.3" x2="293.7" y2="645.3" stroke="#111" stroke-width="1.6" stroke-linecap="butt"/>
<polygon points="67,565.45 63.75,571.35 70.25,571.35" fill="#0e9a62"/>
<polygon points="76.3,572.35 73.05,578.25 79.55,578.25" fill="#0e9a62"/>
<polygon points="62.4,578.85 59.15,584.75 65.65,584.75" fill="#0e9a62"/>
<polygon points="80.9,579.15 77.65,585.05 84.15,585.05" fill="#0e9a62"/>
<polygon points="71.7,585.55 68.45,591.45 74.95,591.45" fill="#0e9a62"/>
<polygon points="80.9,591.95 77.65,597.85 84.15,597.85" fill="#0e9a62"/>
<polygon points="62.4,596.95 59.15,602.85 65.65,602.85" fill="#0e9a62"/>
<polygon points="71.7,599.25 68.45,605.15 74.95,605.15" fill="#0e9a62"/>
<polygon points="71.7,615.95 68.45,621.85 74.95,621.85" fill="#0e9a62"/>
<polygon points="138.3,624.4 135.45,630.2 141.15,630.2" fill="#fff" stroke="#0e9a62" stroke-width="1.4" stroke-linejoin="miter"/>
<polygon points="147.6,636.4 144.75,642.2 150.45,642.2" fill="#fff" stroke="#0e9a62" stroke-width="1.4" stroke-linejoin="miter"/>
<polygon points="129,641.4 126.15,647.2 131.85,647.2" fill="#fff" stroke="#0e9a62" stroke-width="1.4" stroke-linejoin="miter"/>
<polygon points="138.3,642.6 135.45,648.4 141.15,648.4" fill="#fff" stroke="#0e9a62" stroke-width="1.4" stroke-linejoin="miter"/>
<polygon points="142.9,649.4 140.05,655.2 145.75,655.2" fill="#fff" stroke="#0e9a62" stroke-width="1.4" stroke-linejoin="miter"/>
<polygon points="133.7,652.9 130.85,658.7 136.55,658.7" fill="#fff" stroke="#0e9a62" stroke-width="1.4" stroke-linejoin="miter"/>
<circle cx="204.8" cy="565.3" r="3.1" fill="#0e9a62"/>
<circle cx="195.8" cy="571.9" r="3.1" fill="#0e9a62"/>
<circle cx="213.9" cy="570.1" r="3.1" fill="#0e9a62"/>
<circle cx="187.2" cy="576.9" r="3.1" fill="#0e9a62"/>
<circle cx="204.8" cy="575" r="3.1" fill="#0e9a62"/>
<circle cx="222.1" cy="576.9" r="3.1" fill="#0e9a62"/>
<circle cx="196.1" cy="579.6" r="3.1" fill="#0e9a62"/>
<circle cx="213.5" cy="581.1" r="3.1" fill="#0e9a62"/>
<circle cx="204.8" cy="584.6" r="3.1" fill="#0e9a62"/>
<circle cx="271.3" cy="624" r="2.4" fill="#fff" stroke="#0e9a62" stroke-width="1.45"/>
<circle cx="271.3" cy="643.7" r="2.4" fill="#fff" stroke="#0e9a62" stroke-width="1.45"/>
<circle cx="260.4" cy="650.3" r="2.4" fill="#fff" stroke="#0e9a62" stroke-width="1.45"/>
<circle cx="267.5" cy="652.3" r="2.4" fill="#fff" stroke="#0e9a62" stroke-width="1.45"/>
<circle cx="275" cy="651.7" r="2.4" fill="#fff" stroke="#0e9a62" stroke-width="1.45"/>
<circle cx="282.5" cy="648.5" r="2.4" fill="#fff" stroke="#0e9a62" stroke-width="1.45"/>
<text transform="translate(19.8,682.82) scale(1.05,1)" textLength="11.33" lengthAdjust="spacing" style="font-size:8.4px;font-weight:bold;font-style:normal;fill:#111">10</text>
<text transform="translate(19.8,662.52) scale(1.05,1)" textLength="11.33" lengthAdjust="spacing" style="font-size:8.4px;font-weight:bold;font-style:normal;fill:#111">20</text>
<text transform="translate(19.8,642.22) scale(1.05,1)" textLength="11.33" lengthAdjust="spacing" style="font-size:8.4px;font-weight:bold;font-style:normal;fill:#111">30</text>
<text transform="translate(19.8,621.92) scale(1.05,1)" textLength="11.33" lengthAdjust="spacing" style="font-size:8.4px;font-weight:bold;font-style:normal;fill:#111">40</text>
<text transform="translate(19.8,601.62) scale(1.05,1)" textLength="11.33" lengthAdjust="spacing" style="font-size:8.4px;font-weight:bold;font-style:normal;fill:#111">50</text>
<text transform="translate(19.8,581.32) scale(1.05,1)" textLength="11.33" lengthAdjust="spacing" style="font-size:8.4px;font-weight:bold;font-style:normal;fill:#111">60</text>
<text transform="translate(19.8,561.02) scale(1.05,1)" textLength="11.33" lengthAdjust="spacing" style="font-size:8.4px;font-weight:bold;font-style:normal;fill:#111">70</text>
<text transform="translate(19.8,540.72) scale(1.05,1)" textLength="11.33" lengthAdjust="spacing" style="font-size:8.4px;font-weight:bold;font-style:normal;fill:#111">80</text>
<text transform="translate(19.8,520.42) scale(1.05,1)" textLength="11.33" lengthAdjust="spacing" style="font-size:8.4px;font-weight:bold;font-style:normal;fill:#111">90</text>
<text transform="translate(63.3,673.8) scale(1.05,1)" textLength="14.76" lengthAdjust="spacing" style="font-size:8.6px;font-weight:normal;font-style:normal;fill:#000;stroke:#000;stroke-width:0.1px">(9)</text>
<text transform="translate(131.6,673.8) scale(1.05,1)" textLength="13.33" lengthAdjust="spacing" style="font-size:8.6px;font-weight:normal;font-style:normal;fill:#000;stroke:#000;stroke-width:0.1px">(6)</text>
<text transform="translate(197.9,673.8) scale(1.05,1)" textLength="12.86" lengthAdjust="spacing" style="font-size:8.6px;font-weight:normal;font-style:normal;fill:#000;stroke:#000;stroke-width:0.1px">(9)</text>
<text transform="translate(264.7,673.8) scale(1.05,1)" textLength="13.14" lengthAdjust="spacing" style="font-size:8.6px;font-weight:normal;font-style:normal;fill:#000;stroke:#000;stroke-width:0.1px">(6)</text>
<text transform="translate(62.1,694.2) scale(1,1)" textLength="20.8" lengthAdjust="spacing" style="font-size:8.3px;font-weight:bold;font-style:normal;fill:#111">Ctrl</text>
<text transform="translate(116.1,694.2) scale(1,1)" textLength="61.9" lengthAdjust="spacing" style="font-size:8.3px;font-weight:bold;font-style:normal;fill:#111">TetO/mRen</text>
<text transform="translate(195.2,694.2) scale(1,1)" textLength="20.5" lengthAdjust="spacing" style="font-size:8.3px;font-weight:bold;font-style:normal;fill:#111">Ctrl</text>
<text transform="translate(238.5,694.2) scale(1,1)" textLength="61.4" lengthAdjust="spacing" style="font-size:8.3px;font-weight:bold;font-style:normal;fill:#111">TetO/mRen</text>
<line x1="75.5" y1="696.6" x2="138.8" y2="696.6" stroke="#222" stroke-width="0.9" stroke-linecap="butt"/>
<line x1="204" y1="696.6" x2="267.7" y2="696.6" stroke="#222" stroke-width="0.9" stroke-linecap="butt"/>
<text transform="translate(83.1,709.1) scale(1,1)" textLength="48.4" lengthAdjust="spacing" style="font-size:8.3px;font-weight:bold;font-style:normal;fill:#111">Auto2DE</text>
<text transform="translate(220.7,709.1) scale(1,1)" textLength="14.6" lengthAdjust="spacing" style="font-size:8.3px;font-weight:bold;font-style:normal;fill:#111">2D</text>
<text transform="translate(13.5,604.4) rotate(-90) scale(1,1)" textLength="16.8" lengthAdjust="spacing" style="font-size:8.8px;font-weight:bold;font-style:normal;fill:#000">(%)</text>
<text transform="translate(163.4,498) scale(1,1)" textLength="15" lengthAdjust="spacing" style="font-size:8.3px;font-weight:bold;font-style:normal;fill:#111">EF</text>
<line x1="42.2" y1="908" x2="46" y2="908" stroke="#000" stroke-width="1.25" stroke-linecap="butt"/>
<line x1="43.8" y1="905.5" x2="46" y2="905.5" stroke="#000" stroke-width="1" stroke-linecap="butt"/>
<line x1="43.8" y1="903.5" x2="46" y2="903.5" stroke="#000" stroke-width="1" stroke-linecap="butt"/>
<line x1="43.8" y1="901.5" x2="46" y2="901.5" stroke="#000" stroke-width="1" stroke-linecap="butt"/>
<line x1="43.8" y1="899.5" x2="46" y2="899.5" stroke="#000" stroke-width="1" stroke-linecap="butt"/>
<line x1="43.8" y1="897.5" x2="46" y2="897.5" stroke="#000" stroke-width="1" stroke-linecap="butt"/>
<line x1="43.8" y1="895.5" x2="46" y2="895.5" stroke="#000" stroke-width="1" stroke-linecap="butt"/>
<line x1="43.8" y1="892.5" x2="46" y2="892.5" stroke="#000" stroke-width="1" stroke-linecap="butt"/>
<line x1="43.8" y1="890.5" x2="46" y2="890.5" stroke="#000" stroke-width="1" stroke-linecap="butt"/>
<line x1="43.8" y1="888.5" x2="46" y2="888.5" stroke="#000" stroke-width="1" stroke-linecap="butt"/>
<line x1="43.8" y1="886.5" x2="46" y2="886.5" stroke="#000" stroke-width="1" stroke-linecap="butt"/>
<line x1="43.8" y1="884.5" x2="46" y2="884.5" stroke="#000" stroke-width="1" stroke-linecap="butt"/>
<line x1="43.8" y1="882.5" x2="46" y2="882.5" stroke="#000" stroke-width="1" stroke-linecap="butt"/>
<line x1="43.8" y1="879.5" x2="46" y2="879.5" stroke="#000" stroke-width="1" stroke-linecap="butt"/>
<line x1="43.8" y1="877.5" x2="46" y2="877.5" stroke="#000" stroke-width="1" stroke-linecap="butt"/>
<line x1="42.2" y1="875.68" x2="46" y2="875.68" stroke="#000" stroke-width="1.25" stroke-linecap="butt"/>
<line x1="43.8" y1="873.5" x2="46" y2="873.5" stroke="#000" stroke-width="1" stroke-linecap="butt"/>
<line x1="43.8" y1="871.5" x2="46" y2="871.5" stroke="#000" stroke-width="1" stroke-linecap="butt"/>
<line x1="43.8" y1="869.5" x2="46" y2="869.5" stroke="#000" stroke-width="1" stroke-linecap="butt"/>
<line x1="43.8" y1="867.5" x2="46" y2="867.5" stroke="#000" stroke-width="1" stroke-linecap="butt"/>
<line x1="43.8" y1="864.5" x2="46" y2="864.5" stroke="#000" stroke-width="1" stroke-linecap="butt"/>
<line x1="43.8" y1="862.5" x2="46" y2="862.5" stroke="#000" stroke-width="1" stroke-linecap="butt"/>
<line x1="43.8" y1="860.5" x2="46" y2="860.5" stroke="#000" stroke-width="1" stroke-linecap="butt"/>
<line x1="43.8" y1="858.5" x2="46" y2="858.5" stroke="#000" stroke-width="1" stroke-linecap="butt"/>
<line x1="43.8" y1="856.5" x2="46" y2="856.5" stroke="#000" stroke-width="1" stroke-linecap="butt"/>
<line x1="43.8" y1="854.5" x2="46" y2="854.5" stroke="#000" stroke-width="1" stroke-linecap="butt"/>
<line x1="43.8" y1="851.5" x2="46" y2="851.5" stroke="#000" stroke-width="1" stroke-linecap="butt"/>
<line x1="43.8" y1="849.5" x2="46" y2="849.5" stroke="#000" stroke-width="1" stroke-linecap="butt"/>
<line x1="43.8" y1="847.5" x2="46" y2="847.5" stroke="#000" stroke-width="1" stroke-linecap="butt"/>
<line x1="43.8" y1="845.5" x2="46" y2="845.5" stroke="#000" stroke-width="1" stroke-linecap="butt"/>
<line x1="42.2" y1="843.36" x2="46" y2="843.36" stroke="#000" stroke-width="1.25" stroke-linecap="butt"/>
<line x1="43.8" y1="841.5" x2="46" y2="841.5" stroke="#000" stroke-width="1" stroke-linecap="butt"/>
<line x1="43.8" y1="839.5" x2="46" y2="839.5" stroke="#000" stroke-width="1" stroke-linecap="butt"/>
<line x1="43.8" y1="836.5" x2="46" y2="836.5" stroke="#000" stroke-width="1" stroke-linecap="butt"/>
<line x1="43.8" y1="834.5" x2="46" y2="834.5" stroke="#000" stroke-width="1" stroke-linecap="butt"/>
<line x1="43.8" y1="832.5" x2="46" y2="832.5" stroke="#000" stroke-width="1" stroke-linecap="butt"/>
<line x1="43.8" y1="830.5" x2="46" y2="830.5" stroke="#000" stroke-width="1" stroke-linecap="butt"/>
<line x1="43.8" y1="828.5" x2="46" y2="828.5" stroke="#000" stroke-width="1" stroke-linecap="butt"/>
<line x1="43.8" y1="826.5" x2="46" y2="826.5" stroke="#000" stroke-width="1" stroke-linecap="butt"/>
<line x1="43.8" y1="823.5" x2="46" y2="823.5" stroke="#000" stroke-width="1" stroke-linecap="butt"/>
<line x1="43.8" y1="821.5" x2="46" y2="821.5" stroke="#000" stroke-width="1" stroke-linecap="butt"/>
<line x1="43.8" y1="819.5" x2="46" y2="819.5" stroke="#000" stroke-width="1" stroke-linecap="butt"/>
<line x1="43.8" y1="817.5" x2="46" y2="817.5" stroke="#000" stroke-width="1" stroke-linecap="butt"/>
<line x1="43.8" y1="815.5" x2="46" y2="815.5" stroke="#000" stroke-width="1" stroke-linecap="butt"/>
<line x1="43.8" y1="813.5" x2="46" y2="813.5" stroke="#000" stroke-width="1" stroke-linecap="butt"/>
<line x1="42.2" y1="811.04" x2="46" y2="811.04" stroke="#000" stroke-width="1.25" stroke-linecap="butt"/>
<line x1="43.8" y1="808.5" x2="46" y2="808.5" stroke="#000" stroke-width="1" stroke-linecap="butt"/>
<line x1="43.8" y1="806.5" x2="46" y2="806.5" stroke="#000" stroke-width="1" stroke-linecap="butt"/>
<line x1="43.8" y1="804.5" x2="46" y2="804.5" stroke="#000" stroke-width="1" stroke-linecap="butt"/>
<line x1="43.8" y1="802.5" x2="46" y2="802.5" stroke="#000" stroke-width="1" stroke-linecap="butt"/>
<line x1="43.8" y1="800.5" x2="46" y2="800.5" stroke="#000" stroke-width="1" stroke-linecap="butt"/>
<line x1="43.8" y1="798.5" x2="46" y2="798.5" stroke="#000" stroke-width="1" stroke-linecap="butt"/>
<line x1="43.8" y1="795.5" x2="46" y2="795.5" stroke="#000" stroke-width="1" stroke-linecap="butt"/>
<line x1="43.8" y1="793.5" x2="46" y2="793.5" stroke="#000" stroke-width="1" stroke-linecap="butt"/>
<line x1="43.8" y1="791.5" x2="46" y2="791.5" stroke="#000" stroke-width="1" stroke-linecap="butt"/>
<line x1="43.8" y1="789.5" x2="46" y2="789.5" stroke="#000" stroke-width="1" stroke-linecap="butt"/>
<line x1="43.8" y1="787.5" x2="46" y2="787.5" stroke="#000" stroke-width="1" stroke-linecap="butt"/>
<line x1="43.8" y1="785.5" x2="46" y2="785.5" stroke="#000" stroke-width="1" stroke-linecap="butt"/>
<line x1="43.8" y1="783.5" x2="46" y2="783.5" stroke="#000" stroke-width="1" stroke-linecap="butt"/>
<line x1="43.8" y1="780.5" x2="46" y2="780.5" stroke="#000" stroke-width="1" stroke-linecap="butt"/>
<line x1="42.2" y1="778.72" x2="46" y2="778.72" stroke="#000" stroke-width="1.25" stroke-linecap="butt"/>
<line x1="43.8" y1="776.5" x2="46" y2="776.5" stroke="#000" stroke-width="1" stroke-linecap="butt"/>
<line x1="43.8" y1="774.5" x2="46" y2="774.5" stroke="#000" stroke-width="1" stroke-linecap="butt"/>
<line x1="43.8" y1="772.5" x2="46" y2="772.5" stroke="#000" stroke-width="1" stroke-linecap="butt"/>
<line x1="43.8" y1="770.5" x2="46" y2="770.5" stroke="#000" stroke-width="1" stroke-linecap="butt"/>
<line x1="43.8" y1="767.5" x2="46" y2="767.5" stroke="#000" stroke-width="1" stroke-linecap="butt"/>
<line x1="43.8" y1="765.5" x2="46" y2="765.5" stroke="#000" stroke-width="1" stroke-linecap="butt"/>
<line x1="43.8" y1="763.5" x2="46" y2="763.5" stroke="#000" stroke-width="1" stroke-linecap="butt"/>
<line x1="43.8" y1="761.5" x2="46" y2="761.5" stroke="#000" stroke-width="1" stroke-linecap="butt"/>
<line x1="43.8" y1="759.5" x2="46" y2="759.5" stroke="#000" stroke-width="1" stroke-linecap="butt"/>
<line x1="43.8" y1="757.5" x2="46" y2="757.5" stroke="#000" stroke-width="1" stroke-linecap="butt"/>
<line x1="43.8" y1="755.5" x2="46" y2="755.5" stroke="#000" stroke-width="1" stroke-linecap="butt"/>
<line x1="43.8" y1="752.5" x2="46" y2="752.5" stroke="#000" stroke-width="1" stroke-linecap="butt"/>
<line x1="43.8" y1="750.5" x2="46" y2="750.5" stroke="#000" stroke-width="1" stroke-linecap="butt"/>
<line x1="43.8" y1="748.5" x2="46" y2="748.5" stroke="#000" stroke-width="1" stroke-linecap="butt"/>
<line x1="42.2" y1="746.4" x2="46" y2="746.4" stroke="#000" stroke-width="1.25" stroke-linecap="butt"/>
<line x1="79.3" y1="908" x2="79.3" y2="911.2" stroke="#000" stroke-width="1.1" stroke-linecap="butt"/>
<line x1="145.9" y1="908" x2="145.9" y2="911.2" stroke="#000" stroke-width="1.1" stroke-linecap="butt"/>
<line x1="212.1" y1="908" x2="212.1" y2="911.2" stroke="#000" stroke-width="1.1" stroke-linecap="butt"/>
<line x1="278.7" y1="908" x2="278.7" y2="911.2" stroke="#000" stroke-width="1.1" stroke-linecap="butt"/>
<rect x="46" y="746.4" width="266.4" height="161.6" fill="none" stroke="#000" stroke-width="1.6"/>
<polyline points="86.3,785.7 86.3,783.1 148.4,783.1 148.4,809.4" fill="none" stroke="#444" stroke-width="0.9"/>
<polyline points="209.9,791.6 209.9,781.8 270,781.8 270,822.3" fill="none" stroke="#444" stroke-width="0.9"/>
<text transform="translate(93.7,766.2) scale(1,1)" textLength="45.8" lengthAdjust="spacing" style="font-size:7.3px;font-weight:normal;font-style:italic;fill:#000;stroke:#000;stroke-width:0.12px">*p&lt;0.0001</text>
<text transform="translate(85.7,778.9) scale(1,1)" textLength="61.3" lengthAdjust="spacing" style="font-size:6.9px;font-weight:normal;font-style:italic;fill:#000;stroke:#000;stroke-width:0.12px">- 41.71m l/m in</text>
<text transform="translate(213.4,764.7) scale(1,1)" textLength="52.6" lengthAdjust="spacing" style="font-size:7.3px;font-weight:normal;font-style:italic;fill:#000;stroke:#000;stroke-width:0.12px">*p&lt;0.0001</text>
<text transform="translate(206.8,778.3) scale(1,1)" textLength="65.4" lengthAdjust="spacing" style="font-size:6.9px;font-weight:normal;font-style:italic;fill:#000;stroke:#000;stroke-width:0.12px">- 37.8m l/m in</text>
<line x1="79.3" y1="799.7" x2="79.3" y2="809.9" stroke="#0e9a62" stroke-width="1.2" stroke-linecap="butt"/>
<line x1="68.1" y1="799.7" x2="90.2" y2="799.7" stroke="#0e9a62" stroke-width="1.3" stroke-linecap="butt"/>
<line x1="68.1" y1="809.9" x2="90.2" y2="809.9" stroke="#0e9a62" stroke-width="1.3" stroke-linecap="butt"/>
<line x1="57" y1="804.9" x2="101.5" y2="804.9" stroke="#111" stroke-width="1.6" stroke-linecap="butt"/>
<line x1="145.9" y1="841.7" x2="145.9" y2="858.8" stroke="#0e9a62" stroke-width="1.2" stroke-linecap="butt"/>
<line x1="135" y1="841.7" x2="156.8" y2="841.7" stroke="#0e9a62" stroke-width="1.3" stroke-linecap="butt"/>
<line x1="135" y1="858.8" x2="156.8" y2="858.8" stroke="#0e9a62" stroke-width="1.3" stroke-linecap="butt"/>
<line x1="123.6" y1="850.1" x2="168" y2="850.1" stroke="#111" stroke-width="1.6" stroke-linecap="butt"/>
<line x1="212.1" y1="808.9" x2="212.1" y2="814.5" stroke="#0e9a62" stroke-width="1.2" stroke-linecap="butt"/>
<line x1="201" y1="808.9" x2="223" y2="808.9" stroke="#0e9a62" stroke-width="1.3" stroke-linecap="butt"/>
<line x1="201" y1="814.5" x2="223" y2="814.5" stroke="#0e9a62" stroke-width="1.3" stroke-linecap="butt"/>
<line x1="190.1" y1="811.5" x2="234.7" y2="811.5" stroke="#111" stroke-width="1.6" stroke-linecap="butt"/>
<line x1="278.7" y1="845.4" x2="278.7" y2="860" stroke="#0e9a62" stroke-width="1.2" stroke-linecap="butt"/>
<line x1="268.3" y1="845.4" x2="289.4" y2="845.4" stroke="#0e9a62" stroke-width="1.3" stroke-linecap="butt"/>
<line x1="268.3" y1="860" x2="289.4" y2="860" stroke="#0e9a62" stroke-width="1.3" stroke-linecap="butt"/>
<line x1="257" y1="852.7" x2="300.7" y2="852.7" stroke="#111" stroke-width="1.6" stroke-linecap="butt"/>
<polygon points="65.4,787.25 62.15,793.15 68.65,793.15" fill="#0e9a62"/>
<polygon points="93.2,784.75 89.95,790.65 96.45,790.65" fill="#0e9a62"/>
<polygon points="83.8,789.75 80.55,795.65 87.05,795.65" fill="#0e9a62"/>
<polygon points="74.6,793.95 71.35,799.85 77.85,799.85" fill="#0e9a62"/>
<polygon points="65.4,805.25 62.15,811.15 68.65,811.15" fill="#0e9a62"/>
<polygon points="74.6,808.95 71.35,814.85 77.85,814.85" fill="#0e9a62"/>
<polygon points="83.8,811.95 80.55,817.85 87.05,817.85" fill="#0e9a62"/>
<polygon points="93.2,808.65 89.95,814.55 96.45,814.55" fill="#0e9a62"/>
<polygon points="79.3,832.35 76.05,838.25 82.55,838.25" fill="#0e9a62"/>
<polygon points="145.9,815.9 143.05,821.7 148.75,821.7" fill="#fff" stroke="#0e9a62" stroke-width="1.4" stroke-linejoin="miter"/>
<polygon points="145.9,829 143.05,834.8 148.75,834.8" fill="#fff" stroke="#0e9a62" stroke-width="1.4" stroke-linejoin="miter"/>
<polygon points="140.9,854.1 138.05,859.9 143.75,859.9" fill="#fff" stroke="#0e9a62" stroke-width="1.4" stroke-linejoin="miter"/>
<polygon points="155.1,856.1 152.25,861.9 157.95,861.9" fill="#fff" stroke="#0e9a62" stroke-width="1.4" stroke-linejoin="miter"/>
<polygon points="150.1,861.9 147.25,867.7 152.95,867.7" fill="#fff" stroke="#0e9a62" stroke-width="1.4" stroke-linejoin="miter"/>
<polygon points="140.9,868.6 138.05,874.4 143.75,874.4" fill="#fff" stroke="#0e9a62" stroke-width="1.4" stroke-linejoin="miter"/>
<circle cx="193.9" cy="800.6" r="3.1" fill="#0e9a62"/>
<circle cx="226" cy="800.2" r="3.1" fill="#0e9a62"/>
<circle cx="216.8" cy="802.9" r="3.1" fill="#0e9a62"/>
<circle cx="203.1" cy="808.4" r="3.1" fill="#0e9a62"/>
<circle cx="198.6" cy="814.1" r="3.1" fill="#0e9a62"/>
<circle cx="207.8" cy="814.5" r="3.1" fill="#0e9a62"/>
<circle cx="226" cy="814.5" r="3.1" fill="#0e9a62"/>
<circle cx="216.8" cy="820.6" r="3.1" fill="#0e9a62"/>
<circle cx="212.1" cy="830.6" r="3.1" fill="#0e9a62"/>
<circle cx="274.7" cy="832.4" r="2.4" fill="#fff" stroke="#0e9a62" stroke-width="1.45"/>
<circle cx="282.5" cy="830.1" r="2.4" fill="#fff" stroke="#0e9a62" stroke-width="1.45"/>
<circle cx="278.7" cy="851.8" r="2.4" fill="#fff" stroke="#0e9a62" stroke-width="1.45"/>
<circle cx="271.2" cy="865.4" r="2.4" fill="#fff" stroke="#0e9a62" stroke-width="1.45"/>
<circle cx="278.7" cy="869.7" r="2.4" fill="#fff" stroke="#0e9a62" stroke-width="1.45"/>
<circle cx="286.3" cy="866.3" r="2.4" fill="#fff" stroke="#0e9a62" stroke-width="1.45"/>
<text transform="translate(33.3,912.52) scale(1.05,1)" textLength="5.43" lengthAdjust="spacing" style="font-size:8.4px;font-weight:bold;font-style:normal;fill:#111">0</text>
<text transform="translate(27.1,880.2) scale(1.05,1)" textLength="11.33" lengthAdjust="spacing" style="font-size:8.4px;font-weight:bold;font-style:normal;fill:#111">30</text>
<text transform="translate(27.1,847.88) scale(1.05,1)" textLength="11.33" lengthAdjust="spacing" style="font-size:8.4px;font-weight:bold;font-style:normal;fill:#111">60</text>
<text transform="translate(27.1,815.56) scale(1.05,1)" textLength="11.33" lengthAdjust="spacing" style="font-size:8.4px;font-weight:bold;font-style:normal;fill:#111">90</text>
<text transform="translate(20.9,783.24) scale(1.05,1)" textLength="17.24" lengthAdjust="spacing" style="font-size:8.4px;font-weight:bold;font-style:normal;fill:#111">120</text>
<text transform="translate(20.9,750.92) scale(1.05,1)" textLength="17.24" lengthAdjust="spacing" style="font-size:8.4px;font-weight:bold;font-style:normal;fill:#111">150</text>
<text transform="translate(72.7,904.5) scale(1.05,1)" textLength="13.9" lengthAdjust="spacing" style="font-size:8.6px;font-weight:normal;font-style:normal;fill:#000;stroke:#000;stroke-width:0.1px">(9)</text>
<text transform="translate(137.9,904.5) scale(1.05,1)" textLength="13.62" lengthAdjust="spacing" style="font-size:8.6px;font-weight:normal;font-style:normal;fill:#000;stroke:#000;stroke-width:0.1px">(6)</text>
<text transform="translate(205.3,904.5) scale(1.05,1)" textLength="13.62" lengthAdjust="spacing" style="font-size:8.6px;font-weight:normal;font-style:normal;fill:#000;stroke:#000;stroke-width:0.1px">(9)</text>
<text transform="translate(270.1,904.5) scale(1.05,1)" textLength="13.71" lengthAdjust="spacing" style="font-size:8.6px;font-weight:normal;font-style:normal;fill:#000;stroke:#000;stroke-width:0.1px">(6)</text>
<text transform="translate(68.3,923.5) scale(1,1)" textLength="20.8" lengthAdjust="spacing" style="font-size:8.3px;font-weight:bold;font-style:normal;fill:#111">Ctrl</text>
<text transform="translate(118.1,923.5) scale(1,1)" textLength="62.2" lengthAdjust="spacing" style="font-size:8.3px;font-weight:bold;font-style:normal;fill:#111">TetO/mRen</text>
<text transform="translate(201.7,923.5) scale(1,1)" textLength="20.8" lengthAdjust="spacing" style="font-size:8.3px;font-weight:bold;font-style:normal;fill:#111">Ctrl</text>
<text transform="translate(244.9,923.5) scale(1,1)" textLength="63" lengthAdjust="spacing" style="font-size:8.3px;font-weight:bold;font-style:normal;fill:#111">TetO/mRen</text>
<line x1="80.1" y1="925.3" x2="143.4" y2="925.3" stroke="#222" stroke-width="0.9" stroke-linecap="butt"/>
<line x1="212.9" y1="925.3" x2="276.2" y2="925.3" stroke="#222" stroke-width="0.9" stroke-linecap="butt"/>
<text transform="translate(87.4,937.9) scale(1,1)" textLength="49.7" lengthAdjust="spacing" style="font-size:8.3px;font-weight:bold;font-style:normal;fill:#111">Auto2DE</text>
<text transform="translate(235.9,937.9) scale(1,1)" textLength="14.3" lengthAdjust="spacing" style="font-size:8.3px;font-weight:bold;font-style:normal;fill:#111">2D</text>
<text transform="translate(14.5,848.7) rotate(-90) scale(1,1)" textLength="44.8" lengthAdjust="spacing" style="font-size:9px;font-weight:bold;font-style:normal;fill:#000">(m l/m in)</text>
<text transform="translate(170.4,728.1) scale(1,1)" textLength="15.4" lengthAdjust="spacing" style="font-size:8.3px;font-weight:bold;font-style:normal;fill:#111">CO</text>
<line x1="357.2" y1="171.4" x2="361" y2="171.4" stroke="#000" stroke-width="1.25" stroke-linecap="butt"/>
<line x1="358.8" y1="169.5" x2="361" y2="169.5" stroke="#000" stroke-width="1" stroke-linecap="butt"/>
<line x1="358.8" y1="167.5" x2="361" y2="167.5" stroke="#000" stroke-width="1" stroke-linecap="butt"/>
<line x1="358.8" y1="165.5" x2="361" y2="165.5" stroke="#000" stroke-width="1" stroke-linecap="butt"/>
<line x1="358.8" y1="163.5" x2="361" y2="163.5" stroke="#000" stroke-width="1" stroke-linecap="butt"/>
<line x1="358.8" y1="161.5" x2="361" y2="161.5" stroke="#000" stroke-width="1" stroke-linecap="butt"/>
<line x1="358.8" y1="159.5" x2="361" y2="159.5" stroke="#000" stroke-width="1" stroke-linecap="butt"/>
<line x1="358.8" y1="157.5" x2="361" y2="157.5" stroke="#000" stroke-width="1" stroke-linecap="butt"/>
<line x1="358.8" y1="155.5" x2="361" y2="155.5" stroke="#000" stroke-width="1" stroke-linecap="butt"/>
<line x1="358.8" y1="153.5" x2="361" y2="153.5" stroke="#000" stroke-width="1" stroke-linecap="butt"/>
<line x1="357.2" y1="151.3" x2="361" y2="151.3" stroke="#000" stroke-width="1.25" stroke-linecap="butt"/>
<line x1="358.8" y1="149.5" x2="361" y2="149.5" stroke="#000" stroke-width="1" stroke-linecap="butt"/>
<line x1="358.8" y1="147.5" x2="361" y2="147.5" stroke="#000" stroke-width="1" stroke-linecap="butt"/>
<line x1="358.8" y1="145.5" x2="361" y2="145.5" stroke="#000" stroke-width="1" stroke-linecap="butt"/>
<line x1="358.8" y1="143.5" x2="361" y2="143.5" stroke="#000" stroke-width="1" stroke-linecap="butt"/>
<line x1="358.8" y1="141.5" x2="361" y2="141.5" stroke="#000" stroke-width="1" stroke-linecap="butt"/>
<line x1="358.8" y1="139.5" x2="361" y2="139.5" stroke="#000" stroke-width="1" stroke-linecap="butt"/>
<line x1="358.8" y1="137.5" x2="361" y2="137.5" stroke="#000" stroke-width="1" stroke-linecap="butt"/>
<line x1="358.8" y1="135.5" x2="361" y2="135.5" stroke="#000" stroke-width="1" stroke-linecap="butt"/>
<line x1="358.8" y1="133.5" x2="361" y2="133.5" stroke="#000" stroke-width="1" stroke-linecap="butt"/>
<line x1="357.2" y1="131.2" x2="361" y2="131.2" stroke="#000" stroke-width="1.25" stroke-linecap="butt"/>
<line x1="358.8" y1="129.5" x2="361" y2="129.5" stroke="#000" stroke-width="1" stroke-linecap="butt"/>
<line x1="358.8" y1="127.5" x2="361" y2="127.5" stroke="#000" stroke-width="1" stroke-linecap="butt"/>
<line x1="358.8" y1="125.5" x2="361" y2="125.5" stroke="#000" stroke-width="1" stroke-linecap="butt"/>
<line x1="358.8" y1="123.5" x2="361" y2="123.5" stroke="#000" stroke-width="1" stroke-linecap="butt"/>
<line x1="358.8" y1="121.5" x2="361" y2="121.5" stroke="#000" stroke-width="1" stroke-linecap="butt"/>
<line x1="358.8" y1="119.5" x2="361" y2="119.5" stroke="#000" stroke-width="1" stroke-linecap="butt"/>
<line x1="358.8" y1="117.5" x2="361" y2="117.5" stroke="#000" stroke-width="1" stroke-linecap="butt"/>
<line x1="358.8" y1="115.5" x2="361" y2="115.5" stroke="#000" stroke-width="1" stroke-linecap="butt"/>
<line x1="358.8" y1="113.5" x2="361" y2="113.5" stroke="#000" stroke-width="1" stroke-linecap="butt"/>
<line x1="357.2" y1="111.1" x2="361" y2="111.1" stroke="#000" stroke-width="1.25" stroke-linecap="butt"/>
<line x1="358.8" y1="109.5" x2="361" y2="109.5" stroke="#000" stroke-width="1" stroke-linecap="butt"/>
<line x1="358.8" y1="107.5" x2="361" y2="107.5" stroke="#000" stroke-width="1" stroke-linecap="butt"/>
<line x1="358.8" y1="105.5" x2="361" y2="105.5" stroke="#000" stroke-width="1" stroke-linecap="butt"/>
<line x1="358.8" y1="103.5" x2="361" y2="103.5" stroke="#000" stroke-width="1" stroke-linecap="butt"/>
<line x1="358.8" y1="101.5" x2="361" y2="101.5" stroke="#000" stroke-width="1" stroke-linecap="butt"/>
<line x1="358.8" y1="99.5" x2="361" y2="99.5" stroke="#000" stroke-width="1" stroke-linecap="butt"/>
<line x1="358.8" y1="97.5" x2="361" y2="97.5" stroke="#000" stroke-width="1" stroke-linecap="butt"/>
<line x1="358.8" y1="95.5" x2="361" y2="95.5" stroke="#000" stroke-width="1" stroke-linecap="butt"/>
<line x1="358.8" y1="93.5" x2="361" y2="93.5" stroke="#000" stroke-width="1" stroke-linecap="butt"/>
<line x1="357.2" y1="91" x2="361" y2="91" stroke="#000" stroke-width="1.25" stroke-linecap="butt"/>
<line x1="358.8" y1="88.5" x2="361" y2="88.5" stroke="#000" stroke-width="1" stroke-linecap="butt"/>
<line x1="358.8" y1="86.5" x2="361" y2="86.5" stroke="#000" stroke-width="1" stroke-linecap="butt"/>
<line x1="358.8" y1="84.5" x2="361" y2="84.5" stroke="#000" stroke-width="1" stroke-linecap="butt"/>
<line x1="358.8" y1="82.5" x2="361" y2="82.5" stroke="#000" stroke-width="1" stroke-linecap="butt"/>
<line x1="358.8" y1="80.5" x2="361" y2="80.5" stroke="#000" stroke-width="1" stroke-linecap="butt"/>
<line x1="358.8" y1="78.5" x2="361" y2="78.5" stroke="#000" stroke-width="1" stroke-linecap="butt"/>
<line x1="358.8" y1="76.5" x2="361" y2="76.5" stroke="#000" stroke-width="1" stroke-linecap="butt"/>
<line x1="358.8" y1="74.5" x2="361" y2="74.5" stroke="#000" stroke-width="1" stroke-linecap="butt"/>
<line x1="358.8" y1="72.5" x2="361" y2="72.5" stroke="#000" stroke-width="1" stroke-linecap="butt"/>
<line x1="357.2" y1="70.9" x2="361" y2="70.9" stroke="#000" stroke-width="1.25" stroke-linecap="butt"/>
<line x1="358.8" y1="68.5" x2="361" y2="68.5" stroke="#000" stroke-width="1" stroke-linecap="butt"/>
<line x1="358.8" y1="66.5" x2="361" y2="66.5" stroke="#000" stroke-width="1" stroke-linecap="butt"/>
<line x1="358.8" y1="64.5" x2="361" y2="64.5" stroke="#000" stroke-width="1" stroke-linecap="butt"/>
<line x1="358.8" y1="62.5" x2="361" y2="62.5" stroke="#000" stroke-width="1" stroke-linecap="butt"/>
<line x1="358.8" y1="60.5" x2="361" y2="60.5" stroke="#000" stroke-width="1" stroke-linecap="butt"/>
<line x1="358.8" y1="58.5" x2="361" y2="58.5" stroke="#000" stroke-width="1" stroke-linecap="butt"/>
<line x1="358.8" y1="56.5" x2="361" y2="56.5" stroke="#000" stroke-width="1" stroke-linecap="butt"/>
<line x1="358.8" y1="54.5" x2="361" y2="54.5" stroke="#000" stroke-width="1" stroke-linecap="butt"/>
<line x1="358.8" y1="52.5" x2="361" y2="52.5" stroke="#000" stroke-width="1" stroke-linecap="butt"/>
<line x1="357.2" y1="50.8" x2="361" y2="50.8" stroke="#000" stroke-width="1.25" stroke-linecap="butt"/>
<line x1="361" y1="171.4" x2="361" y2="175" stroke="#000" stroke-width="1.25" stroke-linecap="butt"/>
<line x1="368.5" y1="171.4" x2="368.5" y2="173.6" stroke="#000" stroke-width="1" stroke-linecap="butt"/>
<line x1="375.5" y1="171.4" x2="375.5" y2="173.6" stroke="#000" stroke-width="1" stroke-linecap="butt"/>
<line x1="382.5" y1="171.4" x2="382.5" y2="173.6" stroke="#000" stroke-width="1" stroke-linecap="butt"/>
<line x1="390.5" y1="171.4" x2="390.5" y2="173.6" stroke="#000" stroke-width="1" stroke-linecap="butt"/>
<line x1="397.28" y1="171.4" x2="397.28" y2="175" stroke="#000" stroke-width="1.25" stroke-linecap="butt"/>
<line x1="404.5" y1="171.4" x2="404.5" y2="173.6" stroke="#000" stroke-width="1" stroke-linecap="butt"/>
<line x1="411.5" y1="171.4" x2="411.5" y2="173.6" stroke="#000" stroke-width="1" stroke-linecap="butt"/>
<line x1="419.5" y1="171.4" x2="419.5" y2="173.6" stroke="#000" stroke-width="1" stroke-linecap="butt"/>
<line x1="426.5" y1="171.4" x2="426.5" y2="173.6" stroke="#000" stroke-width="1" stroke-linecap="butt"/>
<line x1="433.56" y1="171.4" x2="433.56" y2="175" stroke="#000" stroke-width="1.25" stroke-linecap="butt"/>
<line x1="440.5" y1="171.4" x2="440.5" y2="173.6" stroke="#000" stroke-width="1" stroke-linecap="butt"/>
<line x1="448.5" y1="171.4" x2="448.5" y2="173.6" stroke="#000" stroke-width="1" stroke-linecap="butt"/>
<line x1="455.5" y1="171.4" x2="455.5" y2="173.6" stroke="#000" stroke-width="1" stroke-linecap="butt"/>
<line x1="462.5" y1="171.4" x2="462.5" y2="173.6" stroke="#000" stroke-width="1" stroke-linecap="butt"/>
<line x1="469.84" y1="171.4" x2="469.84" y2="175" stroke="#000" stroke-width="1.25" stroke-linecap="butt"/>
<line x1="477.5" y1="171.4" x2="477.5" y2="173.6" stroke="#000" stroke-width="1" stroke-linecap="butt"/>
<line x1="484.5" y1="171.4" x2="484.5" y2="173.6" stroke="#000" stroke-width="1" stroke-linecap="butt"/>
<line x1="491.5" y1="171.4" x2="491.5" y2="173.6" stroke="#000" stroke-width="1" stroke-linecap="butt"/>
<line x1="498.5" y1="171.4" x2="498.5" y2="173.6" stroke="#000" stroke-width="1" stroke-linecap="butt"/>
<line x1="506.12" y1="171.4" x2="506.12" y2="175" stroke="#000" stroke-width="1.25" stroke-linecap="butt"/>
<line x1="513.5" y1="171.4" x2="513.5" y2="173.6" stroke="#000" stroke-width="1" stroke-linecap="butt"/>
<line x1="520.5" y1="171.4" x2="520.5" y2="173.6" stroke="#000" stroke-width="1" stroke-linecap="butt"/>
<line x1="527.5" y1="171.4" x2="527.5" y2="173.6" stroke="#000" stroke-width="1" stroke-linecap="butt"/>
<line x1="535.5" y1="171.4" x2="535.5" y2="173.6" stroke="#000" stroke-width="1" stroke-linecap="butt"/>
<line x1="542.4" y1="171.4" x2="542.4" y2="175" stroke="#000" stroke-width="1.25" stroke-linecap="butt"/>
<line x1="365.6" y1="96.7" x2="541.9" y2="96.7" stroke="#1a93a6" stroke-width="1.5" stroke-linecap="butt" stroke-dasharray="1.5 3.95"/>
<line x1="365.6" y1="132.8" x2="541.9" y2="132.8" stroke="#1a93a6" stroke-width="1.5" stroke-linecap="butt" stroke-dasharray="1.5 3.95"/>
<line x1="361" y1="111" x2="542.4" y2="111" stroke="#000" stroke-width="1.7" stroke-linecap="butt"/>
<line x1="361.5" y1="114.8" x2="541.9" y2="114.8" stroke="#0b8292" stroke-width="1.5" stroke-linecap="butt" stroke-dasharray="5.2 3.85" stroke-dashoffset="1.2"/>
<rect x="394" y="109.4" width="6" height="6" fill="#0b8292"/>
<rect x="402.3" y="102.5" width="6" height="6" fill="#0b8292"/>
<rect x="404.4" y="101.8" width="6" height="6" fill="#0b8292"/>
<rect x="426" y="124" width="6" height="6" fill="#0b8292"/>
<rect x="479.3" y="119.6" width="6" height="6" fill="#0b8292"/>
<rect x="499.9" y="119.3" width="6" height="6" fill="#0b8292"/>
<rect x="514.6" y="103.9" width="6" height="6" fill="#0b8292"/>
<rect x="361" y="50.8" width="181.4" height="120.6" fill="none" stroke="#000" stroke-width="1.5"/>
<text transform="translate(339.74,175.45) scale(1.12,1)" textLength="13.36" lengthAdjust="spacing" style="font-size:8.2px;font-weight:bold;font-style:normal;fill:#111">-30</text>
<text transform="translate(339.74,155.35) scale(1.12,1)" textLength="13.36" lengthAdjust="spacing" style="font-size:8.2px;font-weight:bold;font-style:normal;fill:#111">-20</text>
<text transform="translate(339.74,135.25) scale(1.12,1)" textLength="13.36" lengthAdjust="spacing" style="font-size:8.2px;font-weight:bold;font-style:normal;fill:#111">-10</text>
<text transform="translate(349.11,115.15) scale(1.12,1)" textLength="4.99" lengthAdjust="spacing" style="font-size:8.2px;font-weight:bold;font-style:normal;fill:#111">0</text>
<text transform="translate(343.06,95.05) scale(1.12,1)" textLength="10.39" lengthAdjust="spacing" style="font-size:8.2px;font-weight:bold;font-style:normal;fill:#111">10</text>
<text transform="translate(343.06,74.95) scale(1.12,1)" textLength="10.39" lengthAdjust="spacing" style="font-size:8.2px;font-weight:bold;font-style:normal;fill:#111">20</text>
<text transform="translate(343.06,54.85) scale(1.12,1)" textLength="10.39" lengthAdjust="spacing" style="font-size:8.2px;font-weight:bold;font-style:normal;fill:#111">30</text>
<text transform="translate(355.18,187.25) scale(1.12,1)" textLength="10.39" lengthAdjust="spacing" style="font-size:8.2px;font-weight:bold;font-style:normal;fill:#111">35</text>
<text transform="translate(391.46,187.25) scale(1.12,1)" textLength="10.39" lengthAdjust="spacing" style="font-size:8.2px;font-weight:bold;font-style:normal;fill:#111">40</text>
<text transform="translate(427.74,187.25) scale(1.12,1)" textLength="10.39" lengthAdjust="spacing" style="font-size:8.2px;font-weight:bold;font-style:normal;fill:#111">45</text>
<text transform="translate(464.02,187.25) scale(1.12,1)" textLength="10.39" lengthAdjust="spacing" style="font-size:8.2px;font-weight:bold;font-style:normal;fill:#111">50</text>
<text transform="translate(500.3,187.25) scale(1.12,1)" textLength="10.39" lengthAdjust="spacing" style="font-size:8.2px;font-weight:bold;font-style:normal;fill:#111">55</text>
<text transform="translate(536.58,187.25) scale(1.12,1)" textLength="10.39" lengthAdjust="spacing" style="font-size:8.2px;font-weight:bold;font-style:normal;fill:#111">60</text>
<text transform="translate(422.1,32.8) scale(0.95,1)" textLength="62" lengthAdjust="spacing" style="font-size:8.2px;font-weight:bold;font-style:normal;fill:#111">EF (SHAM)</text>
<text transform="translate(429.2,204.4) scale(0.98,1)" textLength="46.33" lengthAdjust="spacing" style="font-size:8.2px;font-weight:bold;font-style:normal;fill:#111">Average</text>
<text transform="translate(333.9,138.9) rotate(-90) scale(0.98,1)" textLength="58.57" lengthAdjust="spacing" style="font-size:8.2px;font-weight:bold;font-style:normal;fill:#111">Difference</text>
<text transform="translate(472.9,155.8) scale(1,1)" textLength="62.8" lengthAdjust="spacing" style="font-size:8.2px;font-weight:bold;font-style:normal;fill:#111">Bias = -1.73</text>
<text transform="translate(440.5,169.4) scale(1,1)" textLength="95.6" lengthAdjust="spacing" style="font-size:8.2px;font-weight:bold;font-style:normal;fill:#111">LOA = -10.8 to 7.3</text>
<line x1="584.4" y1="172.7" x2="588.2" y2="172.7" stroke="#000" stroke-width="1.25" stroke-linecap="butt"/>
<line x1="586" y1="170.5" x2="588.2" y2="170.5" stroke="#000" stroke-width="1" stroke-linecap="butt"/>
<line x1="586" y1="168.5" x2="588.2" y2="168.5" stroke="#000" stroke-width="1" stroke-linecap="butt"/>
<line x1="586" y1="166.5" x2="588.2" y2="166.5" stroke="#000" stroke-width="1" stroke-linecap="butt"/>
<line x1="586" y1="164.5" x2="588.2" y2="164.5" stroke="#000" stroke-width="1" stroke-linecap="butt"/>
<line x1="586" y1="162.5" x2="588.2" y2="162.5" stroke="#000" stroke-width="1" stroke-linecap="butt"/>
<line x1="586" y1="160.5" x2="588.2" y2="160.5" stroke="#000" stroke-width="1" stroke-linecap="butt"/>
<line x1="586" y1="158.5" x2="588.2" y2="158.5" stroke="#000" stroke-width="1" stroke-linecap="butt"/>
<line x1="586" y1="156.5" x2="588.2" y2="156.5" stroke="#000" stroke-width="1" stroke-linecap="butt"/>
<line x1="586" y1="154.5" x2="588.2" y2="154.5" stroke="#000" stroke-width="1" stroke-linecap="butt"/>
<line x1="584.4" y1="152.63" x2="588.2" y2="152.63" stroke="#000" stroke-width="1.25" stroke-linecap="butt"/>
<line x1="586" y1="150.5" x2="588.2" y2="150.5" stroke="#000" stroke-width="1" stroke-linecap="butt"/>
<line x1="586" y1="148.5" x2="588.2" y2="148.5" stroke="#000" stroke-width="1" stroke-linecap="butt"/>
<line x1="586" y1="146.5" x2="588.2" y2="146.5" stroke="#000" stroke-width="1" stroke-linecap="butt"/>
<line x1="586" y1="144.5" x2="588.2" y2="144.5" stroke="#000" stroke-width="1" stroke-linecap="butt"/>
<line x1="586" y1="142.5" x2="588.2" y2="142.5" stroke="#000" stroke-width="1" stroke-linecap="butt"/>
<line x1="586" y1="140.5" x2="588.2" y2="140.5" stroke="#000" stroke-width="1" stroke-linecap="butt"/>
<line x1="586" y1="138.5" x2="588.2" y2="138.5" stroke="#000" stroke-width="1" stroke-linecap="butt"/>
<line x1="586" y1="136.5" x2="588.2" y2="136.5" stroke="#000" stroke-width="1" stroke-linecap="butt"/>
<line x1="586" y1="134.5" x2="588.2" y2="134.5" stroke="#000" stroke-width="1" stroke-linecap="butt"/>
<line x1="584.4" y1="132.57" x2="588.2" y2="132.57" stroke="#000" stroke-width="1.25" stroke-linecap="butt"/>
<line x1="586" y1="130.5" x2="588.2" y2="130.5" stroke="#000" stroke-width="1" stroke-linecap="butt"/>
<line x1="586" y1="128.5" x2="588.2" y2="128.5" stroke="#000" stroke-width="1" stroke-linecap="butt"/>
<line x1="586" y1="126.5" x2="588.2" y2="126.5" stroke="#000" stroke-width="1" stroke-linecap="butt"/>
<line x1="586" y1="124.5" x2="588.2" y2="124.5" stroke="#000" stroke-width="1" stroke-linecap="butt"/>
<line x1="586" y1="122.5" x2="588.2" y2="122.5" stroke="#000" stroke-width="1" stroke-linecap="butt"/>
<line x1="586" y1="120.5" x2="588.2" y2="120.5" stroke="#000" stroke-width="1" stroke-linecap="butt"/>
<line x1="586" y1="118.5" x2="588.2" y2="118.5" stroke="#000" stroke-width="1" stroke-linecap="butt"/>
<line x1="586" y1="116.5" x2="588.2" y2="116.5" stroke="#000" stroke-width="1" stroke-linecap="butt"/>
<line x1="586" y1="114.5" x2="588.2" y2="114.5" stroke="#000" stroke-width="1" stroke-linecap="butt"/>
<line x1="584.4" y1="112.5" x2="588.2" y2="112.5" stroke="#000" stroke-width="1.25" stroke-linecap="butt"/>
<line x1="586" y1="110.5" x2="588.2" y2="110.5" stroke="#000" stroke-width="1" stroke-linecap="butt"/>
<line x1="586" y1="108.5" x2="588.2" y2="108.5" stroke="#000" stroke-width="1" stroke-linecap="butt"/>
<line x1="586" y1="106.5" x2="588.2" y2="106.5" stroke="#000" stroke-width="1" stroke-linecap="butt"/>
<line x1="586" y1="104.5" x2="588.2" y2="104.5" stroke="#000" stroke-width="1" stroke-linecap="butt"/>
<line x1="586" y1="102.5" x2="588.2" y2="102.5" stroke="#000" stroke-width="1" stroke-linecap="butt"/>
<line x1="586" y1="100.5" x2="588.2" y2="100.5" stroke="#000" stroke-width="1" stroke-linecap="butt"/>
<line x1="586" y1="98.5" x2="588.2" y2="98.5" stroke="#000" stroke-width="1" stroke-linecap="butt"/>
<line x1="586" y1="96.5" x2="588.2" y2="96.5" stroke="#000" stroke-width="1" stroke-linecap="butt"/>
<line x1="586" y1="94.5" x2="588.2" y2="94.5" stroke="#000" stroke-width="1" stroke-linecap="butt"/>
<line x1="584.4" y1="92.43" x2="588.2" y2="92.43" stroke="#000" stroke-width="1.25" stroke-linecap="butt"/>
<line x1="586" y1="90.5" x2="588.2" y2="90.5" stroke="#000" stroke-width="1" stroke-linecap="butt"/>
<line x1="586" y1="88.5" x2="588.2" y2="88.5" stroke="#000" stroke-width="1" stroke-linecap="butt"/>
<line x1="586" y1="86.5" x2="588.2" y2="86.5" stroke="#000" stroke-width="1" stroke-linecap="butt"/>
<line x1="586" y1="84.5" x2="588.2" y2="84.5" stroke="#000" stroke-width="1" stroke-linecap="butt"/>
<line x1="586" y1="82.5" x2="588.2" y2="82.5" stroke="#000" stroke-width="1" stroke-linecap="butt"/>
<line x1="586" y1="80.5" x2="588.2" y2="80.5" stroke="#000" stroke-width="1" stroke-linecap="butt"/>
<line x1="586" y1="78.5" x2="588.2" y2="78.5" stroke="#000" stroke-width="1" stroke-linecap="butt"/>
<line x1="586" y1="76.5" x2="588.2" y2="76.5" stroke="#000" stroke-width="1" stroke-linecap="butt"/>
<line x1="586" y1="74.5" x2="588.2" y2="74.5" stroke="#000" stroke-width="1" stroke-linecap="butt"/>
<line x1="584.4" y1="72.37" x2="588.2" y2="72.37" stroke="#000" stroke-width="1.25" stroke-linecap="butt"/>
<line x1="586" y1="70.5" x2="588.2" y2="70.5" stroke="#000" stroke-width="1" stroke-linecap="butt"/>
<line x1="586" y1="68.5" x2="588.2" y2="68.5" stroke="#000" stroke-width="1" stroke-linecap="butt"/>
<line x1="586" y1="66.5" x2="588.2" y2="66.5" stroke="#000" stroke-width="1" stroke-linecap="butt"/>
<line x1="586" y1="64.5" x2="588.2" y2="64.5" stroke="#000" stroke-width="1" stroke-linecap="butt"/>
<line x1="586" y1="62.5" x2="588.2" y2="62.5" stroke="#000" stroke-width="1" stroke-linecap="butt"/>
<line x1="586" y1="60.5" x2="588.2" y2="60.5" stroke="#000" stroke-width="1" stroke-linecap="butt"/>
<line x1="586" y1="58.5" x2="588.2" y2="58.5" stroke="#000" stroke-width="1" stroke-linecap="butt"/>
<line x1="586" y1="56.5" x2="588.2" y2="56.5" stroke="#000" stroke-width="1" stroke-linecap="butt"/>
<line x1="586" y1="54.5" x2="588.2" y2="54.5" stroke="#000" stroke-width="1" stroke-linecap="butt"/>
<line x1="584.4" y1="52.3" x2="588.2" y2="52.3" stroke="#000" stroke-width="1.25" stroke-linecap="butt"/>
<line x1="588.2" y1="172.7" x2="588.2" y2="176.3" stroke="#000" stroke-width="1.25" stroke-linecap="butt"/>
<line x1="600.5" y1="172.7" x2="600.5" y2="174.9" stroke="#000" stroke-width="1" stroke-linecap="butt"/>
<line x1="612.5" y1="172.7" x2="612.5" y2="174.9" stroke="#000" stroke-width="1" stroke-linecap="butt"/>
<line x1="624.5" y1="172.7" x2="624.5" y2="174.9" stroke="#000" stroke-width="1" stroke-linecap="butt"/>
<line x1="636.5" y1="172.7" x2="636.5" y2="174.9" stroke="#000" stroke-width="1" stroke-linecap="butt"/>
<line x1="648.6" y1="172.7" x2="648.6" y2="176.3" stroke="#000" stroke-width="1.25" stroke-linecap="butt"/>
<line x1="660.5" y1="172.7" x2="660.5" y2="174.9" stroke="#000" stroke-width="1" stroke-linecap="butt"/>
<line x1="672.5" y1="172.7" x2="672.5" y2="174.9" stroke="#000" stroke-width="1" stroke-linecap="butt"/>
<line x1="684.5" y1="172.7" x2="684.5" y2="174.9" stroke="#000" stroke-width="1" stroke-linecap="butt"/>
<line x1="696.5" y1="172.7" x2="696.5" y2="174.9" stroke="#000" stroke-width="1" stroke-linecap="butt"/>
<line x1="709" y1="172.7" x2="709" y2="176.3" stroke="#000" stroke-width="1.25" stroke-linecap="butt"/>
<line x1="721.5" y1="172.7" x2="721.5" y2="174.9" stroke="#000" stroke-width="1" stroke-linecap="butt"/>
<line x1="733.5" y1="172.7" x2="733.5" y2="174.9" stroke="#000" stroke-width="1" stroke-linecap="butt"/>
<line x1="745.5" y1="172.7" x2="745.5" y2="174.9" stroke="#000" stroke-width="1" stroke-linecap="butt"/>
<line x1="757.5" y1="172.7" x2="757.5" y2="174.9" stroke="#000" stroke-width="1" stroke-linecap="butt"/>
<line x1="769.4" y1="172.7" x2="769.4" y2="176.3" stroke="#000" stroke-width="1.25" stroke-linecap="butt"/>
<line x1="592.8" y1="97.8" x2="768.9" y2="97.8" stroke="#1a93a6" stroke-width="1.5" stroke-linecap="butt" stroke-dasharray="1.5 3.95"/>
<line x1="592.8" y1="134" x2="768.9" y2="134" stroke="#1a93a6" stroke-width="1.5" stroke-linecap="butt" stroke-dasharray="1.5 3.95"/>
<line x1="588.2" y1="112.5" x2="769.4" y2="112.5" stroke="#000" stroke-width="1.7" stroke-linecap="butt"/>
<line x1="588.7" y1="115.8" x2="768.9" y2="115.8" stroke="#0b8292" stroke-width="1.5" stroke-linecap="butt" stroke-dasharray="5.2 3.85" stroke-dashoffset="1.2"/>
<rect x="617.2" y="120.1" width="5.6" height="5.6" fill="#fff" stroke="#0b8292" stroke-width="1.4"/>
<rect x="654.4" y="109.9" width="5.6" height="5.6" fill="#fff" stroke="#0b8292" stroke-width="1.4"/>
<rect x="666.6" y="124.7" width="5.6" height="5.6" fill="#fff" stroke="#0b8292" stroke-width="1.4"/>
<rect x="685.3" y="106.8" width="5.6" height="5.6" fill="#fff" stroke="#0b8292" stroke-width="1.4"/>
<rect x="698.5" y="106.8" width="5.6" height="5.6" fill="#fff" stroke="#0b8292" stroke-width="1.4"/>
<rect x="707.4" y="116.4" width="5.6" height="5.6" fill="#fff" stroke="#0b8292" stroke-width="1.4"/>
<rect x="712.1" y="114.6" width="5.6" height="5.6" fill="#fff" stroke="#0b8292" stroke-width="1.4"/>
<rect x="739.3" y="128.4" width="5.6" height="5.6" fill="#fff" stroke="#0b8292" stroke-width="1.4"/>
<rect x="588.2" y="52.3" width="181.2" height="120.4" fill="none" stroke="#000" stroke-width="1.5"/>
<text transform="translate(566.94,176.75) scale(1.12,1)" textLength="13.36" lengthAdjust="spacing" style="font-size:8.2px;font-weight:bold;font-style:normal;fill:#111">-30</text>
<text transform="translate(566.94,156.69) scale(1.12,1)" textLength="13.36" lengthAdjust="spacing" style="font-size:8.2px;font-weight:bold;font-style:normal;fill:#111">-20</text>
<text transform="translate(566.94,136.62) scale(1.12,1)" textLength="13.36" lengthAdjust="spacing" style="font-size:8.2px;font-weight:bold;font-style:normal;fill:#111">-10</text>
<text transform="translate(576.31,116.55) scale(1.12,1)" textLength="4.99" lengthAdjust="spacing" style="font-size:8.2px;font-weight:bold;font-style:normal;fill:#111">0</text>
<text transform="translate(570.26,96.49) scale(1.12,1)" textLength="10.39" lengthAdjust="spacing" style="font-size:8.2px;font-weight:bold;font-style:normal;fill:#111">10</text>
<text transform="translate(570.26,76.42) scale(1.12,1)" textLength="10.39" lengthAdjust="spacing" style="font-size:8.2px;font-weight:bold;font-style:normal;fill:#111">20</text>
<text transform="translate(570.26,56.35) scale(1.12,1)" textLength="10.39" lengthAdjust="spacing" style="font-size:8.2px;font-weight:bold;font-style:normal;fill:#111">30</text>
<text transform="translate(585.41,188.55) scale(1.12,1)" textLength="4.99" lengthAdjust="spacing" style="font-size:8.2px;font-weight:bold;font-style:normal;fill:#111">0</text>
<text transform="translate(642.78,188.55) scale(1.12,1)" textLength="10.39" lengthAdjust="spacing" style="font-size:8.2px;font-weight:bold;font-style:normal;fill:#111">20</text>
<text transform="translate(703.18,188.55) scale(1.12,1)" textLength="10.39" lengthAdjust="spacing" style="font-size:8.2px;font-weight:bold;font-style:normal;fill:#111">40</text>
<text transform="translate(763.58,188.55) scale(1.12,1)" textLength="10.39" lengthAdjust="spacing" style="font-size:8.2px;font-weight:bold;font-style:normal;fill:#111">60</text>
<text transform="translate(653.9,32.7) scale(0.95,1)" textLength="51.79" lengthAdjust="spacing" style="font-size:8.2px;font-weight:bold;font-style:normal;fill:#111">EF (TAC)</text>
<text transform="translate(656,204.6) scale(0.98,1)" textLength="46.22" lengthAdjust="spacing" style="font-size:8.2px;font-weight:bold;font-style:normal;fill:#111">Average</text>
<text transform="translate(560.4,139.3) rotate(-90) scale(0.98,1)" textLength="58.57" lengthAdjust="spacing" style="font-size:8.2px;font-weight:bold;font-style:normal;fill:#111">Difference</text>
<text transform="translate(702.1,157) scale(1,1)" textLength="63.5" lengthAdjust="spacing" style="font-size:8.2px;font-weight:bold;font-style:normal;fill:#111">Bias = -3.16</text>
<text transform="translate(670.1,170.7) scale(1,1)" textLength="95.5" lengthAdjust="spacing" style="font-size:8.2px;font-weight:bold;font-style:normal;fill:#111">LOA = -10.6 to 4.2</text>
<line x1="357.8" y1="398.5" x2="361.6" y2="398.5" stroke="#000" stroke-width="1.25" stroke-linecap="butt"/>
<line x1="359.4" y1="396.5" x2="361.6" y2="396.5" stroke="#000" stroke-width="0.99" stroke-linecap="butt"/>
<line x1="359.4" y1="394.5" x2="361.6" y2="394.5" stroke="#000" stroke-width="0.99" stroke-linecap="butt"/>
<line x1="359.4" y1="392.5" x2="361.6" y2="392.5" stroke="#000" stroke-width="0.99" stroke-linecap="butt"/>
<line x1="359.4" y1="390.5" x2="361.6" y2="390.5" stroke="#000" stroke-width="0.99" stroke-linecap="butt"/>
<line x1="359.4" y1="388.5" x2="361.6" y2="388.5" stroke="#000" stroke-width="0.99" stroke-linecap="butt"/>
<line x1="359.4" y1="386.5" x2="361.6" y2="386.5" stroke="#000" stroke-width="0.99" stroke-linecap="butt"/>
<line x1="359.4" y1="384.5" x2="361.6" y2="384.5" stroke="#000" stroke-width="0.99" stroke-linecap="butt"/>
<line x1="359.4" y1="382.5" x2="361.6" y2="382.5" stroke="#000" stroke-width="0.99" stroke-linecap="butt"/>
<line x1="359.4" y1="380.5" x2="361.6" y2="380.5" stroke="#000" stroke-width="0.99" stroke-linecap="butt"/>
<line x1="357.8" y1="378.78" x2="361.6" y2="378.78" stroke="#000" stroke-width="1.25" stroke-linecap="butt"/>
<line x1="359.4" y1="376.5" x2="361.6" y2="376.5" stroke="#000" stroke-width="0.99" stroke-linecap="butt"/>
<line x1="359.4" y1="374.5" x2="361.6" y2="374.5" stroke="#000" stroke-width="0.99" stroke-linecap="butt"/>
<line x1="359.4" y1="372.5" x2="361.6" y2="372.5" stroke="#000" stroke-width="0.99" stroke-linecap="butt"/>
<line x1="359.4" y1="370.5" x2="361.6" y2="370.5" stroke="#000" stroke-width="0.99" stroke-linecap="butt"/>
<line x1="359.4" y1="368.5" x2="361.6" y2="368.5" stroke="#000" stroke-width="0.99" stroke-linecap="butt"/>
<line x1="359.4" y1="366.5" x2="361.6" y2="366.5" stroke="#000" stroke-width="0.99" stroke-linecap="butt"/>
<line x1="359.4" y1="364.5" x2="361.6" y2="364.5" stroke="#000" stroke-width="0.99" stroke-linecap="butt"/>
<line x1="359.4" y1="363.5" x2="361.6" y2="363.5" stroke="#000" stroke-width="0.99" stroke-linecap="butt"/>
<line x1="359.4" y1="361.5" x2="361.6" y2="361.5" stroke="#000" stroke-width="0.99" stroke-linecap="butt"/>
<line x1="357.8" y1="359.07" x2="361.6" y2="359.07" stroke="#000" stroke-width="1.25" stroke-linecap="butt"/>
<line x1="359.4" y1="357.5" x2="361.6" y2="357.5" stroke="#000" stroke-width="0.99" stroke-linecap="butt"/>
<line x1="359.4" y1="355.5" x2="361.6" y2="355.5" stroke="#000" stroke-width="0.99" stroke-linecap="butt"/>
<line x1="359.4" y1="353.5" x2="361.6" y2="353.5" stroke="#000" stroke-width="0.99" stroke-linecap="butt"/>
<line x1="359.4" y1="351.5" x2="361.6" y2="351.5" stroke="#000" stroke-width="0.99" stroke-linecap="butt"/>
<line x1="359.4" y1="349.5" x2="361.6" y2="349.5" stroke="#000" stroke-width="0.99" stroke-linecap="butt"/>
<line x1="359.4" y1="347.5" x2="361.6" y2="347.5" stroke="#000" stroke-width="0.99" stroke-linecap="butt"/>
<line x1="359.4" y1="345.5" x2="361.6" y2="345.5" stroke="#000" stroke-width="0.99" stroke-linecap="butt"/>
<line x1="359.4" y1="343.5" x2="361.6" y2="343.5" stroke="#000" stroke-width="0.99" stroke-linecap="butt"/>
<line x1="359.4" y1="341.5" x2="361.6" y2="341.5" stroke="#000" stroke-width="0.99" stroke-linecap="butt"/>
<line x1="357.8" y1="339.35" x2="361.6" y2="339.35" stroke="#000" stroke-width="1.25" stroke-linecap="butt"/>
<line x1="359.4" y1="337.5" x2="361.6" y2="337.5" stroke="#000" stroke-width="0.99" stroke-linecap="butt"/>
<line x1="359.4" y1="335.5" x2="361.6" y2="335.5" stroke="#000" stroke-width="0.99" stroke-linecap="butt"/>
<line x1="359.4" y1="333.5" x2="361.6" y2="333.5" stroke="#000" stroke-width="0.99" stroke-linecap="butt"/>
<line x1="359.4" y1="331.5" x2="361.6" y2="331.5" stroke="#000" stroke-width="0.99" stroke-linecap="butt"/>
<line x1="359.4" y1="329.5" x2="361.6" y2="329.5" stroke="#000" stroke-width="0.99" stroke-linecap="butt"/>
<line x1="359.4" y1="327.5" x2="361.6" y2="327.5" stroke="#000" stroke-width="0.99" stroke-linecap="butt"/>
<line x1="359.4" y1="325.5" x2="361.6" y2="325.5" stroke="#000" stroke-width="0.99" stroke-linecap="butt"/>
<line x1="359.4" y1="323.5" x2="361.6" y2="323.5" stroke="#000" stroke-width="0.99" stroke-linecap="butt"/>
<line x1="359.4" y1="321.5" x2="361.6" y2="321.5" stroke="#000" stroke-width="0.99" stroke-linecap="butt"/>
<line x1="357.8" y1="319.63" x2="361.6" y2="319.63" stroke="#000" stroke-width="1.25" stroke-linecap="butt"/>
<line x1="359.4" y1="317.5" x2="361.6" y2="317.5" stroke="#000" stroke-width="0.99" stroke-linecap="butt"/>
<line x1="359.4" y1="315.5" x2="361.6" y2="315.5" stroke="#000" stroke-width="0.99" stroke-linecap="butt"/>
<line x1="359.4" y1="313.5" x2="361.6" y2="313.5" stroke="#000" stroke-width="0.99" stroke-linecap="butt"/>
<line x1="359.4" y1="311.5" x2="361.6" y2="311.5" stroke="#000" stroke-width="0.99" stroke-linecap="butt"/>
<line x1="359.4" y1="309.5" x2="361.6" y2="309.5" stroke="#000" stroke-width="0.99" stroke-linecap="butt"/>
<line x1="359.4" y1="307.5" x2="361.6" y2="307.5" stroke="#000" stroke-width="0.99" stroke-linecap="butt"/>
<line x1="359.4" y1="305.5" x2="361.6" y2="305.5" stroke="#000" stroke-width="0.99" stroke-linecap="butt"/>
<line x1="359.4" y1="303.5" x2="361.6" y2="303.5" stroke="#000" stroke-width="0.99" stroke-linecap="butt"/>
<line x1="359.4" y1="301.5" x2="361.6" y2="301.5" stroke="#000" stroke-width="0.99" stroke-linecap="butt"/>
<line x1="357.8" y1="299.92" x2="361.6" y2="299.92" stroke="#000" stroke-width="1.25" stroke-linecap="butt"/>
<line x1="359.4" y1="297.5" x2="361.6" y2="297.5" stroke="#000" stroke-width="0.99" stroke-linecap="butt"/>
<line x1="359.4" y1="295.5" x2="361.6" y2="295.5" stroke="#000" stroke-width="0.99" stroke-linecap="butt"/>
<line x1="359.4" y1="294.5" x2="361.6" y2="294.5" stroke="#000" stroke-width="0.99" stroke-linecap="butt"/>
<line x1="359.4" y1="292.5" x2="361.6" y2="292.5" stroke="#000" stroke-width="0.99" stroke-linecap="butt"/>
<line x1="359.4" y1="290.5" x2="361.6" y2="290.5" stroke="#000" stroke-width="0.99" stroke-linecap="butt"/>
<line x1="359.4" y1="288.5" x2="361.6" y2="288.5" stroke="#000" stroke-width="0.99" stroke-linecap="butt"/>
<line x1="359.4" y1="286.5" x2="361.6" y2="286.5" stroke="#000" stroke-width="0.99" stroke-linecap="butt"/>
<line x1="359.4" y1="284.5" x2="361.6" y2="284.5" stroke="#000" stroke-width="0.99" stroke-linecap="butt"/>
<line x1="359.4" y1="282.5" x2="361.6" y2="282.5" stroke="#000" stroke-width="0.99" stroke-linecap="butt"/>
<line x1="357.8" y1="280.2" x2="361.6" y2="280.2" stroke="#000" stroke-width="1.25" stroke-linecap="butt"/>
<line x1="361.6" y1="398.5" x2="361.6" y2="402.1" stroke="#000" stroke-width="1.25" stroke-linecap="butt"/>
<line x1="370.5" y1="398.5" x2="370.5" y2="400.7" stroke="#000" stroke-width="1" stroke-linecap="butt"/>
<line x1="379.5" y1="398.5" x2="379.5" y2="400.7" stroke="#000" stroke-width="1" stroke-linecap="butt"/>
<line x1="388.5" y1="398.5" x2="388.5" y2="400.7" stroke="#000" stroke-width="1" stroke-linecap="butt"/>
<line x1="397.5" y1="398.5" x2="397.5" y2="400.7" stroke="#000" stroke-width="1" stroke-linecap="butt"/>
<line x1="406.23" y1="398.5" x2="406.23" y2="402.1" stroke="#000" stroke-width="1.25" stroke-linecap="butt"/>
<line x1="415.5" y1="398.5" x2="415.5" y2="400.7" stroke="#000" stroke-width="1" stroke-linecap="butt"/>
<line x1="424.5" y1="398.5" x2="424.5" y2="400.7" stroke="#000" stroke-width="1" stroke-linecap="butt"/>
<line x1="433.5" y1="398.5" x2="433.5" y2="400.7" stroke="#000" stroke-width="1" stroke-linecap="butt"/>
<line x1="441.5" y1="398.5" x2="441.5" y2="400.7" stroke="#000" stroke-width="1" stroke-linecap="butt"/>
<line x1="450.85" y1="398.5" x2="450.85" y2="402.1" stroke="#000" stroke-width="1.25" stroke-linecap="butt"/>
<line x1="459.5" y1="398.5" x2="459.5" y2="400.7" stroke="#000" stroke-width="1" stroke-linecap="butt"/>
<line x1="468.5" y1="398.5" x2="468.5" y2="400.7" stroke="#000" stroke-width="1" stroke-linecap="butt"/>
<line x1="477.5" y1="398.5" x2="477.5" y2="400.7" stroke="#000" stroke-width="1" stroke-linecap="butt"/>
<line x1="486.5" y1="398.5" x2="486.5" y2="400.7" stroke="#000" stroke-width="1" stroke-linecap="butt"/>
<line x1="495.48" y1="398.5" x2="495.48" y2="402.1" stroke="#000" stroke-width="1.25" stroke-linecap="butt"/>
<line x1="504.5" y1="398.5" x2="504.5" y2="400.7" stroke="#000" stroke-width="1" stroke-linecap="butt"/>
<line x1="513.5" y1="398.5" x2="513.5" y2="400.7" stroke="#000" stroke-width="1" stroke-linecap="butt"/>
<line x1="522.5" y1="398.5" x2="522.5" y2="400.7" stroke="#000" stroke-width="1" stroke-linecap="butt"/>
<line x1="531.5" y1="398.5" x2="531.5" y2="400.7" stroke="#000" stroke-width="1" stroke-linecap="butt"/>
<line x1="540.1" y1="398.5" x2="540.1" y2="402.1" stroke="#000" stroke-width="1.25" stroke-linecap="butt"/>
<line x1="366.2" y1="334" x2="539.6" y2="334" stroke="#1a93a6" stroke-width="1.5" stroke-linecap="butt" stroke-dasharray="1.5 3.95"/>
<line x1="366.2" y1="345.9" x2="539.6" y2="345.9" stroke="#1a93a6" stroke-width="1.5" stroke-linecap="butt" stroke-dasharray="1.5 3.95"/>
<line x1="361.6" y1="339.35" x2="540.1" y2="339.35" stroke="#000" stroke-width="1.7" stroke-linecap="butt"/>
<line x1="362.1" y1="338.9" x2="539.6" y2="338.9" stroke="#0b8292" stroke-width="1.5" stroke-linecap="butt" stroke-dasharray="5.2 3.85" stroke-dashoffset="1.2"/>
<rect x="409.1" y="333.2" width="6" height="6" fill="#0b8292"/>
<rect x="410.7" y="339.5" width="6" height="6" fill="#0b8292"/>
<rect x="441.5" y="332.1" width="6" height="6" fill="#0b8292"/>
<rect x="440.9" y="336.7" width="6" height="6" fill="#0b8292"/>
<rect x="446.9" y="338.3" width="6" height="6" fill="#0b8292"/>
<rect x="471" y="337.2" width="6" height="6" fill="#0b8292"/>
<rect x="505.3" y="340.9" width="6" height="6" fill="#0b8292"/>
<rect x="361.6" y="280.2" width="178.5" height="118.3" fill="none" stroke="#000" stroke-width="1.5"/>
<text transform="translate(340.34,402.55) scale(1.12,1)" textLength="13.36" lengthAdjust="spacing" style="font-size:8.2px;font-weight:bold;font-style:normal;fill:#111">-30</text>
<text transform="translate(340.34,382.84) scale(1.12,1)" textLength="13.36" lengthAdjust="spacing" style="font-size:8.2px;font-weight:bold;font-style:normal;fill:#111">-20</text>
<text transform="translate(340.34,363.12) scale(1.12,1)" textLength="13.36" lengthAdjust="spacing" style="font-size:8.2px;font-weight:bold;font-style:normal;fill:#111">-10</text>
<text transform="translate(349.71,343.4) scale(1.12,1)" textLength="4.99" lengthAdjust="spacing" style="font-size:8.2px;font-weight:bold;font-style:normal;fill:#111">0</text>
<text transform="translate(343.66,323.69) scale(1.12,1)" textLength="10.39" lengthAdjust="spacing" style="font-size:8.2px;font-weight:bold;font-style:normal;fill:#111">10</text>
<text transform="translate(343.66,303.97) scale(1.12,1)" textLength="10.39" lengthAdjust="spacing" style="font-size:8.2px;font-weight:bold;font-style:normal;fill:#111">20</text>
<text transform="translate(343.66,284.25) scale(1.12,1)" textLength="10.39" lengthAdjust="spacing" style="font-size:8.2px;font-weight:bold;font-style:normal;fill:#111">30</text>
<text transform="translate(355.78,414.35) scale(1.12,1)" textLength="10.39" lengthAdjust="spacing" style="font-size:8.2px;font-weight:bold;font-style:normal;fill:#111">12</text>
<text transform="translate(400.4,414.35) scale(1.12,1)" textLength="10.39" lengthAdjust="spacing" style="font-size:8.2px;font-weight:bold;font-style:normal;fill:#111">14</text>
<text transform="translate(445.03,414.35) scale(1.12,1)" textLength="10.39" lengthAdjust="spacing" style="font-size:8.2px;font-weight:bold;font-style:normal;fill:#111">16</text>
<text transform="translate(489.65,414.35) scale(1.12,1)" textLength="10.39" lengthAdjust="spacing" style="font-size:8.2px;font-weight:bold;font-style:normal;fill:#111">18</text>
<text transform="translate(534.28,414.35) scale(1.12,1)" textLength="10.39" lengthAdjust="spacing" style="font-size:8.2px;font-weight:bold;font-style:normal;fill:#111">20</text>
<text transform="translate(420.1,261.7) scale(0.95,1)" textLength="64.42" lengthAdjust="spacing" style="font-size:8.2px;font-weight:bold;font-style:normal;fill:#111">CO (SHAM)</text>
<text transform="translate(427.8,430.2) scale(0.98,1)" textLength="46.43" lengthAdjust="spacing" style="font-size:8.2px;font-weight:bold;font-style:normal;fill:#111">Average</text>
<text transform="translate(334,366.5) rotate(-90) scale(0.98,1)" textLength="57.14" lengthAdjust="spacing" style="font-size:8.2px;font-weight:bold;font-style:normal;fill:#111">Difference</text>
<text transform="translate(481.9,383.5) scale(1,1)" textLength="51.6" lengthAdjust="spacing" style="font-size:8.2px;font-weight:bold;font-style:normal;fill:#111">Bias = 0.2</text>
<text transform="translate(446.3,396.4) scale(1,1)" textLength="87.2" lengthAdjust="spacing" style="font-size:8.2px;font-weight:bold;font-style:normal;fill:#111">LOA = -3.3 to 2.5</text>
<line x1="588.5" y1="395.6" x2="592.3" y2="395.6" stroke="#000" stroke-width="1.25" stroke-linecap="butt"/>
<line x1="590.1" y1="393.5" x2="592.3" y2="393.5" stroke="#000" stroke-width="0.98" stroke-linecap="butt"/>
<line x1="590.1" y1="391.5" x2="592.3" y2="391.5" stroke="#000" stroke-width="0.98" stroke-linecap="butt"/>
<line x1="590.1" y1="389.5" x2="592.3" y2="389.5" stroke="#000" stroke-width="0.98" stroke-linecap="butt"/>
<line x1="590.1" y1="387.5" x2="592.3" y2="387.5" stroke="#000" stroke-width="0.98" stroke-linecap="butt"/>
<line x1="590.1" y1="385.5" x2="592.3" y2="385.5" stroke="#000" stroke-width="0.98" stroke-linecap="butt"/>
<line x1="590.1" y1="383.5" x2="592.3" y2="383.5" stroke="#000" stroke-width="0.98" stroke-linecap="butt"/>
<line x1="590.1" y1="381.5" x2="592.3" y2="381.5" stroke="#000" stroke-width="0.98" stroke-linecap="butt"/>
<line x1="590.1" y1="379.5" x2="592.3" y2="379.5" stroke="#000" stroke-width="0.98" stroke-linecap="butt"/>
<line x1="590.1" y1="377.5" x2="592.3" y2="377.5" stroke="#000" stroke-width="0.98" stroke-linecap="butt"/>
<line x1="588.5" y1="375.92" x2="592.3" y2="375.92" stroke="#000" stroke-width="1.25" stroke-linecap="butt"/>
<line x1="590.1" y1="373.5" x2="592.3" y2="373.5" stroke="#000" stroke-width="0.98" stroke-linecap="butt"/>
<line x1="590.1" y1="371.5" x2="592.3" y2="371.5" stroke="#000" stroke-width="0.98" stroke-linecap="butt"/>
<line x1="590.1" y1="370.5" x2="592.3" y2="370.5" stroke="#000" stroke-width="0.98" stroke-linecap="butt"/>
<line x1="590.1" y1="368.5" x2="592.3" y2="368.5" stroke="#000" stroke-width="0.98" stroke-linecap="butt"/>
<line x1="590.1" y1="366.5" x2="592.3" y2="366.5" stroke="#000" stroke-width="0.98" stroke-linecap="butt"/>
<line x1="590.1" y1="364.5" x2="592.3" y2="364.5" stroke="#000" stroke-width="0.98" stroke-linecap="butt"/>
<line x1="590.1" y1="362.5" x2="592.3" y2="362.5" stroke="#000" stroke-width="0.98" stroke-linecap="butt"/>
<line x1="590.1" y1="360.5" x2="592.3" y2="360.5" stroke="#000" stroke-width="0.98" stroke-linecap="butt"/>
<line x1="590.1" y1="358.5" x2="592.3" y2="358.5" stroke="#000" stroke-width="0.98" stroke-linecap="butt"/>
<line x1="588.5" y1="356.23" x2="592.3" y2="356.23" stroke="#000" stroke-width="1.25" stroke-linecap="butt"/>
<line x1="590.1" y1="354.5" x2="592.3" y2="354.5" stroke="#000" stroke-width="0.98" stroke-linecap="butt"/>
<line x1="590.1" y1="352.5" x2="592.3" y2="352.5" stroke="#000" stroke-width="0.98" stroke-linecap="butt"/>
<line x1="590.1" y1="350.5" x2="592.3" y2="350.5" stroke="#000" stroke-width="0.98" stroke-linecap="butt"/>
<line x1="590.1" y1="348.5" x2="592.3" y2="348.5" stroke="#000" stroke-width="0.98" stroke-linecap="butt"/>
<line x1="590.1" y1="346.5" x2="592.3" y2="346.5" stroke="#000" stroke-width="0.98" stroke-linecap="butt"/>
<line x1="590.1" y1="344.5" x2="592.3" y2="344.5" stroke="#000" stroke-width="0.98" stroke-linecap="butt"/>
<line x1="590.1" y1="342.5" x2="592.3" y2="342.5" stroke="#000" stroke-width="0.98" stroke-linecap="butt"/>
<line x1="590.1" y1="340.5" x2="592.3" y2="340.5" stroke="#000" stroke-width="0.98" stroke-linecap="butt"/>
<line x1="590.1" y1="338.5" x2="592.3" y2="338.5" stroke="#000" stroke-width="0.98" stroke-linecap="butt"/>
<line x1="588.5" y1="336.55" x2="592.3" y2="336.55" stroke="#000" stroke-width="1.25" stroke-linecap="butt"/>
<line x1="590.1" y1="334.5" x2="592.3" y2="334.5" stroke="#000" stroke-width="0.98" stroke-linecap="butt"/>
<line x1="590.1" y1="332.5" x2="592.3" y2="332.5" stroke="#000" stroke-width="0.98" stroke-linecap="butt"/>
<line x1="590.1" y1="330.5" x2="592.3" y2="330.5" stroke="#000" stroke-width="0.98" stroke-linecap="butt"/>
<line x1="590.1" y1="328.5" x2="592.3" y2="328.5" stroke="#000" stroke-width="0.98" stroke-linecap="butt"/>
<line x1="590.1" y1="326.5" x2="592.3" y2="326.5" stroke="#000" stroke-width="0.98" stroke-linecap="butt"/>
<line x1="590.1" y1="324.5" x2="592.3" y2="324.5" stroke="#000" stroke-width="0.98" stroke-linecap="butt"/>
<line x1="590.1" y1="322.5" x2="592.3" y2="322.5" stroke="#000" stroke-width="0.98" stroke-linecap="butt"/>
<line x1="590.1" y1="320.5" x2="592.3" y2="320.5" stroke="#000" stroke-width="0.98" stroke-linecap="butt"/>
<line x1="590.1" y1="318.5" x2="592.3" y2="318.5" stroke="#000" stroke-width="0.98" stroke-linecap="butt"/>
<line x1="588.5" y1="316.87" x2="592.3" y2="316.87" stroke="#000" stroke-width="1.25" stroke-linecap="butt"/>
<line x1="590.1" y1="314.5" x2="592.3" y2="314.5" stroke="#000" stroke-width="0.98" stroke-linecap="butt"/>
<line x1="590.1" y1="312.5" x2="592.3" y2="312.5" stroke="#000" stroke-width="0.98" stroke-linecap="butt"/>
<line x1="590.1" y1="310.5" x2="592.3" y2="310.5" stroke="#000" stroke-width="0.98" stroke-linecap="butt"/>
<line x1="590.1" y1="308.5" x2="592.3" y2="308.5" stroke="#000" stroke-width="0.98" stroke-linecap="butt"/>
<line x1="590.1" y1="307.5" x2="592.3" y2="307.5" stroke="#000" stroke-width="0.98" stroke-linecap="butt"/>
<line x1="590.1" y1="305.5" x2="592.3" y2="305.5" stroke="#000" stroke-width="0.98" stroke-linecap="butt"/>
<line x1="590.1" y1="303.5" x2="592.3" y2="303.5" stroke="#000" stroke-width="0.98" stroke-linecap="butt"/>
<line x1="590.1" y1="301.5" x2="592.3" y2="301.5" stroke="#000" stroke-width="0.98" stroke-linecap="butt"/>
<line x1="590.1" y1="299.5" x2="592.3" y2="299.5" stroke="#000" stroke-width="0.98" stroke-linecap="butt"/>
<line x1="588.5" y1="297.18" x2="592.3" y2="297.18" stroke="#000" stroke-width="1.25" stroke-linecap="butt"/>
<line x1="590.1" y1="295.5" x2="592.3" y2="295.5" stroke="#000" stroke-width="0.98" stroke-linecap="butt"/>
<line x1="590.1" y1="293.5" x2="592.3" y2="293.5" stroke="#000" stroke-width="0.98" stroke-linecap="butt"/>
<line x1="590.1" y1="291.5" x2="592.3" y2="291.5" stroke="#000" stroke-width="0.98" stroke-linecap="butt"/>
<line x1="590.1" y1="289.5" x2="592.3" y2="289.5" stroke="#000" stroke-width="0.98" stroke-linecap="butt"/>
<line x1="590.1" y1="287.5" x2="592.3" y2="287.5" stroke="#000" stroke-width="0.98" stroke-linecap="butt"/>
<line x1="590.1" y1="285.5" x2="592.3" y2="285.5" stroke="#000" stroke-width="0.98" stroke-linecap="butt"/>
<line x1="590.1" y1="283.5" x2="592.3" y2="283.5" stroke="#000" stroke-width="0.98" stroke-linecap="butt"/>
<line x1="590.1" y1="281.5" x2="592.3" y2="281.5" stroke="#000" stroke-width="0.98" stroke-linecap="butt"/>
<line x1="590.1" y1="279.5" x2="592.3" y2="279.5" stroke="#000" stroke-width="0.98" stroke-linecap="butt"/>
<line x1="588.5" y1="277.5" x2="592.3" y2="277.5" stroke="#000" stroke-width="1.25" stroke-linecap="butt"/>
<line x1="592.3" y1="395.6" x2="592.3" y2="399.2" stroke="#000" stroke-width="1.25" stroke-linecap="butt"/>
<line x1="601.5" y1="395.6" x2="601.5" y2="397.8" stroke="#000" stroke-width="1" stroke-linecap="butt"/>
<line x1="610.5" y1="395.6" x2="610.5" y2="397.8" stroke="#000" stroke-width="1" stroke-linecap="butt"/>
<line x1="619.5" y1="395.6" x2="619.5" y2="397.8" stroke="#000" stroke-width="1" stroke-linecap="butt"/>
<line x1="627.5" y1="395.6" x2="627.5" y2="397.8" stroke="#000" stroke-width="1" stroke-linecap="butt"/>
<line x1="636.8" y1="395.6" x2="636.8" y2="399.2" stroke="#000" stroke-width="1.25" stroke-linecap="butt"/>
<line x1="645.5" y1="395.6" x2="645.5" y2="397.8" stroke="#000" stroke-width="1" stroke-linecap="butt"/>
<line x1="654.5" y1="395.6" x2="654.5" y2="397.8" stroke="#000" stroke-width="1" stroke-linecap="butt"/>
<line x1="663.5" y1="395.6" x2="663.5" y2="397.8" stroke="#000" stroke-width="1" stroke-linecap="butt"/>
<line x1="672.5" y1="395.6" x2="672.5" y2="397.8" stroke="#000" stroke-width="1" stroke-linecap="butt"/>
<line x1="681.3" y1="395.6" x2="681.3" y2="399.2" stroke="#000" stroke-width="1.25" stroke-linecap="butt"/>
<line x1="690.5" y1="395.6" x2="690.5" y2="397.8" stroke="#000" stroke-width="1" stroke-linecap="butt"/>
<line x1="699.5" y1="395.6" x2="699.5" y2="397.8" stroke="#000" stroke-width="1" stroke-linecap="butt"/>
<line x1="708.5" y1="395.6" x2="708.5" y2="397.8" stroke="#000" stroke-width="1" stroke-linecap="butt"/>
<line x1="716.5" y1="395.6" x2="716.5" y2="397.8" stroke="#000" stroke-width="1" stroke-linecap="butt"/>
<line x1="725.8" y1="395.6" x2="725.8" y2="399.2" stroke="#000" stroke-width="1.25" stroke-linecap="butt"/>
<line x1="734.5" y1="395.6" x2="734.5" y2="397.8" stroke="#000" stroke-width="1" stroke-linecap="butt"/>
<line x1="743.5" y1="395.6" x2="743.5" y2="397.8" stroke="#000" stroke-width="1" stroke-linecap="butt"/>
<line x1="752.5" y1="395.6" x2="752.5" y2="397.8" stroke="#000" stroke-width="1" stroke-linecap="butt"/>
<line x1="761.5" y1="395.6" x2="761.5" y2="397.8" stroke="#000" stroke-width="1" stroke-linecap="butt"/>
<line x1="770.3" y1="395.6" x2="770.3" y2="399.2" stroke="#000" stroke-width="1.25" stroke-linecap="butt"/>
<line x1="596.9" y1="329.1" x2="769.8" y2="329.1" stroke="#1a93a6" stroke-width="1.5" stroke-linecap="butt" stroke-dasharray="1.5 3.95"/>
<line x1="596.9" y1="342.5" x2="769.8" y2="342.5" stroke="#1a93a6" stroke-width="1.5" stroke-linecap="butt" stroke-dasharray="1.5 3.95"/>
<line x1="592.3" y1="336.3" x2="770.3" y2="336.3" stroke="#000" stroke-width="1.7" stroke-linecap="butt"/>
<line x1="592.8" y1="336.4" x2="769.8" y2="336.4" stroke="#0b8292" stroke-width="1.5" stroke-linecap="butt" stroke-dasharray="5.2 3.85" stroke-dashoffset="1.2"/>
<rect x="643.4" y="332.1" width="5.6" height="5.6" fill="#fff" stroke="#0b8292" stroke-width="1.4"/>
<rect x="683.5" y="329.5" width="5.6" height="5.6" fill="#fff" stroke="#0b8292" stroke-width="1.4"/>
<rect x="689.6" y="334.7" width="5.6" height="5.6" fill="#fff" stroke="#0b8292" stroke-width="1.4"/>
<rect x="709.1" y="329.8" width="5.6" height="5.6" fill="#fff" stroke="#0b8292" stroke-width="1.4"/>
<rect x="720.3" y="327.1" width="5.6" height="5.6" fill="#fff" stroke="#0b8292" stroke-width="1.4"/>
<rect x="721.7" y="332.7" width="5.6" height="5.6" fill="#fff" stroke="#0b8292" stroke-width="1.4"/>
<rect x="723.2" y="335.7" width="5.6" height="5.6" fill="#fff" stroke="#0b8292" stroke-width="1.4"/>
<rect x="723.9" y="338.5" width="5.6" height="5.6" fill="#fff" stroke="#0b8292" stroke-width="1.4"/>
<rect x="592.3" y="277.5" width="178" height="118.1" fill="none" stroke="#000" stroke-width="1.5"/>
<text transform="translate(571.04,399.65) scale(1.12,1)" textLength="13.36" lengthAdjust="spacing" style="font-size:8.2px;font-weight:bold;font-style:normal;fill:#111">-30</text>
<text transform="translate(571.04,379.97) scale(1.12,1)" textLength="13.36" lengthAdjust="spacing" style="font-size:8.2px;font-weight:bold;font-style:normal;fill:#111">-20</text>
<text transform="translate(571.04,360.29) scale(1.12,1)" textLength="13.36" lengthAdjust="spacing" style="font-size:8.2px;font-weight:bold;font-style:normal;fill:#111">-10</text>
<text transform="translate(580.41,340.6) scale(1.12,1)" textLength="4.99" lengthAdjust="spacing" style="font-size:8.2px;font-weight:bold;font-style:normal;fill:#111">0</text>
<text transform="translate(574.36,320.92) scale(1.12,1)" textLength="10.39" lengthAdjust="spacing" style="font-size:8.2px;font-weight:bold;font-style:normal;fill:#111">10</text>
<text transform="translate(574.36,301.24) scale(1.12,1)" textLength="10.39" lengthAdjust="spacing" style="font-size:8.2px;font-weight:bold;font-style:normal;fill:#111">20</text>
<text transform="translate(574.36,281.55) scale(1.12,1)" textLength="10.39" lengthAdjust="spacing" style="font-size:8.2px;font-weight:bold;font-style:normal;fill:#111">30</text>
<text transform="translate(589.51,411.45) scale(1.12,1)" textLength="4.99" lengthAdjust="spacing" style="font-size:8.2px;font-weight:bold;font-style:normal;fill:#111">0</text>
<text transform="translate(634.01,411.45) scale(1.12,1)" textLength="4.99" lengthAdjust="spacing" style="font-size:8.2px;font-weight:bold;font-style:normal;fill:#111">5</text>
<text transform="translate(675.48,411.45) scale(1.12,1)" textLength="10.39" lengthAdjust="spacing" style="font-size:8.2px;font-weight:bold;font-style:normal;fill:#111">10</text>
<text transform="translate(719.98,411.45) scale(1.12,1)" textLength="10.39" lengthAdjust="spacing" style="font-size:8.2px;font-weight:bold;font-style:normal;fill:#111">15</text>
<text transform="translate(764.48,411.45) scale(1.12,1)" textLength="10.39" lengthAdjust="spacing" style="font-size:8.2px;font-weight:bold;font-style:normal;fill:#111">20</text>
<text transform="translate(656,261.1) scale(0.95,1)" textLength="53.47" lengthAdjust="spacing" style="font-size:8.2px;font-weight:bold;font-style:normal;fill:#111">CO (TAC)</text>
<text transform="translate(658.5,427.3) scale(0.98,1)" textLength="46.12" lengthAdjust="spacing" style="font-size:8.2px;font-weight:bold;font-style:normal;fill:#111">Average</text>
<text transform="translate(565,363.1) rotate(-90) scale(0.98,1)" textLength="56.12" lengthAdjust="spacing" style="font-size:8.2px;font-weight:bold;font-style:normal;fill:#111">Difference</text>
<text transform="translate(705.8,381.2) scale(1,1)" textLength="61.1" lengthAdjust="spacing" style="font-size:8.2px;font-weight:bold;font-style:normal;fill:#111">Bias = -0.41</text>
<text transform="translate(680.5,394.5) scale(1,1)" textLength="86.4" lengthAdjust="spacing" style="font-size:8.2px;font-weight:bold;font-style:normal;fill:#111">LOA = -3.2 to 3.6</text>
<line x1="348.8" y1="654.7" x2="352.6" y2="654.7" stroke="#000" stroke-width="1.25" stroke-linecap="butt"/>
<line x1="350.4" y1="653.5" x2="352.6" y2="653.5" stroke="#000" stroke-width="0.76" stroke-linecap="butt"/>
<line x1="350.4" y1="651.5" x2="352.6" y2="651.5" stroke="#000" stroke-width="0.76" stroke-linecap="butt"/>
<line x1="350.4" y1="650.5" x2="352.6" y2="650.5" stroke="#000" stroke-width="0.76" stroke-linecap="butt"/>
<line x1="350.4" y1="648.5" x2="352.6" y2="648.5" stroke="#000" stroke-width="0.76" stroke-linecap="butt"/>
<line x1="350.4" y1="647.5" x2="352.6" y2="647.5" stroke="#000" stroke-width="0.76" stroke-linecap="butt"/>
<line x1="350.4" y1="645.5" x2="352.6" y2="645.5" stroke="#000" stroke-width="0.76" stroke-linecap="butt"/>
<line x1="350.4" y1="644.5" x2="352.6" y2="644.5" stroke="#000" stroke-width="0.76" stroke-linecap="butt"/>
<line x1="350.4" y1="642.5" x2="352.6" y2="642.5" stroke="#000" stroke-width="0.76" stroke-linecap="butt"/>
<line x1="350.4" y1="640.5" x2="352.6" y2="640.5" stroke="#000" stroke-width="0.76" stroke-linecap="butt"/>
<line x1="348.8" y1="639.43" x2="352.6" y2="639.43" stroke="#000" stroke-width="1.25" stroke-linecap="butt"/>
<line x1="350.4" y1="637.5" x2="352.6" y2="637.5" stroke="#000" stroke-width="0.76" stroke-linecap="butt"/>
<line x1="350.4" y1="636.5" x2="352.6" y2="636.5" stroke="#000" stroke-width="0.76" stroke-linecap="butt"/>
<line x1="350.4" y1="634.5" x2="352.6" y2="634.5" stroke="#000" stroke-width="0.76" stroke-linecap="butt"/>
<line x1="350.4" y1="633.5" x2="352.6" y2="633.5" stroke="#000" stroke-width="0.76" stroke-linecap="butt"/>
<line x1="350.4" y1="631.5" x2="352.6" y2="631.5" stroke="#000" stroke-width="0.76" stroke-linecap="butt"/>
<line x1="350.4" y1="630.5" x2="352.6" y2="630.5" stroke="#000" stroke-width="0.76" stroke-linecap="butt"/>
<line x1="350.4" y1="628.5" x2="352.6" y2="628.5" stroke="#000" stroke-width="0.76" stroke-linecap="butt"/>
<line x1="350.4" y1="627.5" x2="352.6" y2="627.5" stroke="#000" stroke-width="0.76" stroke-linecap="butt"/>
<line x1="350.4" y1="625.5" x2="352.6" y2="625.5" stroke="#000" stroke-width="0.76" stroke-linecap="butt"/>
<line x1="348.8" y1="624.15" x2="352.6" y2="624.15" stroke="#000" stroke-width="1.25" stroke-linecap="butt"/>
<line x1="350.4" y1="622.5" x2="352.6" y2="622.5" stroke="#000" stroke-width="0.76" stroke-linecap="butt"/>
<line x1="350.4" y1="621.5" x2="352.6" y2="621.5" stroke="#000" stroke-width="0.76" stroke-linecap="butt"/>
<line x1="350.4" y1="619.5" x2="352.6" y2="619.5" stroke="#000" stroke-width="0.76" stroke-linecap="butt"/>
<line x1="350.4" y1="618.5" x2="352.6" y2="618.5" stroke="#000" stroke-width="0.76" stroke-linecap="butt"/>
<line x1="350.4" y1="616.5" x2="352.6" y2="616.5" stroke="#000" stroke-width="0.76" stroke-linecap="butt"/>
<line x1="350.4" y1="614.5" x2="352.6" y2="614.5" stroke="#000" stroke-width="0.76" stroke-linecap="butt"/>
<line x1="350.4" y1="613.5" x2="352.6" y2="613.5" stroke="#000" stroke-width="0.76" stroke-linecap="butt"/>
<line x1="350.4" y1="611.5" x2="352.6" y2="611.5" stroke="#000" stroke-width="0.76" stroke-linecap="butt"/>
<line x1="350.4" y1="610.5" x2="352.6" y2="610.5" stroke="#000" stroke-width="0.76" stroke-linecap="butt"/>
<line x1="348.8" y1="608.88" x2="352.6" y2="608.88" stroke="#000" stroke-width="1.25" stroke-linecap="butt"/>
<line x1="350.4" y1="607.5" x2="352.6" y2="607.5" stroke="#000" stroke-width="0.76" stroke-linecap="butt"/>
<line x1="350.4" y1="605.5" x2="352.6" y2="605.5" stroke="#000" stroke-width="0.76" stroke-linecap="butt"/>
<line x1="350.4" y1="604.5" x2="352.6" y2="604.5" stroke="#000" stroke-width="0.76" stroke-linecap="butt"/>
<line x1="350.4" y1="602.5" x2="352.6" y2="602.5" stroke="#000" stroke-width="0.76" stroke-linecap="butt"/>
<line x1="350.4" y1="601.5" x2="352.6" y2="601.5" stroke="#000" stroke-width="0.76" stroke-linecap="butt"/>
<line x1="350.4" y1="599.5" x2="352.6" y2="599.5" stroke="#000" stroke-width="0.76" stroke-linecap="butt"/>
<line x1="350.4" y1="598.5" x2="352.6" y2="598.5" stroke="#000" stroke-width="0.76" stroke-linecap="butt"/>
<line x1="350.4" y1="596.5" x2="352.6" y2="596.5" stroke="#000" stroke-width="0.76" stroke-linecap="butt"/>
<line x1="350.4" y1="595.5" x2="352.6" y2="595.5" stroke="#000" stroke-width="0.76" stroke-linecap="butt"/>
<line x1="348.8" y1="593.6" x2="352.6" y2="593.6" stroke="#000" stroke-width="1.25" stroke-linecap="butt"/>
<line x1="350.4" y1="592.5" x2="352.6" y2="592.5" stroke="#000" stroke-width="0.76" stroke-linecap="butt"/>
<line x1="350.4" y1="590.5" x2="352.6" y2="590.5" stroke="#000" stroke-width="0.76" stroke-linecap="butt"/>
<line x1="350.4" y1="589.5" x2="352.6" y2="589.5" stroke="#000" stroke-width="0.76" stroke-linecap="butt"/>
<line x1="350.4" y1="587.5" x2="352.6" y2="587.5" stroke="#000" stroke-width="0.76" stroke-linecap="butt"/>
<line x1="350.4" y1="585.5" x2="352.6" y2="585.5" stroke="#000" stroke-width="0.76" stroke-linecap="butt"/>
<line x1="350.4" y1="584.5" x2="352.6" y2="584.5" stroke="#000" stroke-width="0.76" stroke-linecap="butt"/>
<line x1="350.4" y1="582.5" x2="352.6" y2="582.5" stroke="#000" stroke-width="0.76" stroke-linecap="butt"/>
<line x1="350.4" y1="581.5" x2="352.6" y2="581.5" stroke="#000" stroke-width="0.76" stroke-linecap="butt"/>
<line x1="350.4" y1="579.5" x2="352.6" y2="579.5" stroke="#000" stroke-width="0.76" stroke-linecap="butt"/>
<line x1="348.8" y1="578.33" x2="352.6" y2="578.33" stroke="#000" stroke-width="1.25" stroke-linecap="butt"/>
<line x1="350.4" y1="576.5" x2="352.6" y2="576.5" stroke="#000" stroke-width="0.76" stroke-linecap="butt"/>
<line x1="350.4" y1="575.5" x2="352.6" y2="575.5" stroke="#000" stroke-width="0.76" stroke-linecap="butt"/>
<line x1="350.4" y1="573.5" x2="352.6" y2="573.5" stroke="#000" stroke-width="0.76" stroke-linecap="butt"/>
<line x1="350.4" y1="572.5" x2="352.6" y2="572.5" stroke="#000" stroke-width="0.76" stroke-linecap="butt"/>
<line x1="350.4" y1="570.5" x2="352.6" y2="570.5" stroke="#000" stroke-width="0.76" stroke-linecap="butt"/>
<line x1="350.4" y1="569.5" x2="352.6" y2="569.5" stroke="#000" stroke-width="0.76" stroke-linecap="butt"/>
<line x1="350.4" y1="567.5" x2="352.6" y2="567.5" stroke="#000" stroke-width="0.76" stroke-linecap="butt"/>
<line x1="350.4" y1="566.5" x2="352.6" y2="566.5" stroke="#000" stroke-width="0.76" stroke-linecap="butt"/>
<line x1="350.4" y1="564.5" x2="352.6" y2="564.5" stroke="#000" stroke-width="0.76" stroke-linecap="butt"/>
<line x1="348.8" y1="563.05" x2="352.6" y2="563.05" stroke="#000" stroke-width="1.25" stroke-linecap="butt"/>
<line x1="350.4" y1="561.5" x2="352.6" y2="561.5" stroke="#000" stroke-width="0.76" stroke-linecap="butt"/>
<line x1="350.4" y1="559.5" x2="352.6" y2="559.5" stroke="#000" stroke-width="0.76" stroke-linecap="butt"/>
<line x1="350.4" y1="558.5" x2="352.6" y2="558.5" stroke="#000" stroke-width="0.76" stroke-linecap="butt"/>
<line x1="350.4" y1="556.5" x2="352.6" y2="556.5" stroke="#000" stroke-width="0.76" stroke-linecap="butt"/>
<line x1="350.4" y1="555.5" x2="352.6" y2="555.5" stroke="#000" stroke-width="0.76" stroke-linecap="butt"/>
<line x1="350.4" y1="553.5" x2="352.6" y2="553.5" stroke="#000" stroke-width="0.76" stroke-linecap="butt"/>
<line x1="350.4" y1="552.5" x2="352.6" y2="552.5" stroke="#000" stroke-width="0.76" stroke-linecap="butt"/>
<line x1="350.4" y1="550.5" x2="352.6" y2="550.5" stroke="#000" stroke-width="0.76" stroke-linecap="butt"/>
<line x1="350.4" y1="549.5" x2="352.6" y2="549.5" stroke="#000" stroke-width="0.76" stroke-linecap="butt"/>
<line x1="348.8" y1="547.77" x2="352.6" y2="547.77" stroke="#000" stroke-width="1.25" stroke-linecap="butt"/>
<line x1="350.4" y1="546.5" x2="352.6" y2="546.5" stroke="#000" stroke-width="0.76" stroke-linecap="butt"/>
<line x1="350.4" y1="544.5" x2="352.6" y2="544.5" stroke="#000" stroke-width="0.76" stroke-linecap="butt"/>
<line x1="350.4" y1="543.5" x2="352.6" y2="543.5" stroke="#000" stroke-width="0.76" stroke-linecap="butt"/>
<line x1="350.4" y1="541.5" x2="352.6" y2="541.5" stroke="#000" stroke-width="0.76" stroke-linecap="butt"/>
<line x1="350.4" y1="540.5" x2="352.6" y2="540.5" stroke="#000" stroke-width="0.76" stroke-linecap="butt"/>
<line x1="350.4" y1="538.5" x2="352.6" y2="538.5" stroke="#000" stroke-width="0.76" stroke-linecap="butt"/>
<line x1="350.4" y1="537.5" x2="352.6" y2="537.5" stroke="#000" stroke-width="0.76" stroke-linecap="butt"/>
<line x1="350.4" y1="535.5" x2="352.6" y2="535.5" stroke="#000" stroke-width="0.76" stroke-linecap="butt"/>
<line x1="350.4" y1="534.5" x2="352.6" y2="534.5" stroke="#000" stroke-width="0.76" stroke-linecap="butt"/>
<line x1="348.8" y1="532.5" x2="352.6" y2="532.5" stroke="#000" stroke-width="1.25" stroke-linecap="butt"/>
<line x1="352.6" y1="654.7" x2="352.6" y2="658.3" stroke="#000" stroke-width="1.25" stroke-linecap="butt"/>
<line x1="359.5" y1="654.7" x2="359.5" y2="656.9" stroke="#000" stroke-width="1" stroke-linecap="butt"/>
<line x1="367.5" y1="654.7" x2="367.5" y2="656.9" stroke="#000" stroke-width="1" stroke-linecap="butt"/>
<line x1="374.5" y1="654.7" x2="374.5" y2="656.9" stroke="#000" stroke-width="1" stroke-linecap="butt"/>
<line x1="381.5" y1="654.7" x2="381.5" y2="656.9" stroke="#000" stroke-width="1" stroke-linecap="butt"/>
<line x1="389.12" y1="654.7" x2="389.12" y2="658.3" stroke="#000" stroke-width="1.25" stroke-linecap="butt"/>
<line x1="396.5" y1="654.7" x2="396.5" y2="656.9" stroke="#000" stroke-width="1" stroke-linecap="butt"/>
<line x1="403.5" y1="654.7" x2="403.5" y2="656.9" stroke="#000" stroke-width="1" stroke-linecap="butt"/>
<line x1="411.5" y1="654.7" x2="411.5" y2="656.9" stroke="#000" stroke-width="1" stroke-linecap="butt"/>
<line x1="418.5" y1="654.7" x2="418.5" y2="656.9" stroke="#000" stroke-width="1" stroke-linecap="butt"/>
<line x1="425.64" y1="654.7" x2="425.64" y2="658.3" stroke="#000" stroke-width="1.25" stroke-linecap="butt"/>
<line x1="432.5" y1="654.7" x2="432.5" y2="656.9" stroke="#000" stroke-width="1" stroke-linecap="butt"/>
<line x1="440.5" y1="654.7" x2="440.5" y2="656.9" stroke="#000" stroke-width="1" stroke-linecap="butt"/>
<line x1="447.5" y1="654.7" x2="447.5" y2="656.9" stroke="#000" stroke-width="1" stroke-linecap="butt"/>
<line x1="454.5" y1="654.7" x2="454.5" y2="656.9" stroke="#000" stroke-width="1" stroke-linecap="butt"/>
<line x1="462.16" y1="654.7" x2="462.16" y2="658.3" stroke="#000" stroke-width="1.25" stroke-linecap="butt"/>
<line x1="469.5" y1="654.7" x2="469.5" y2="656.9" stroke="#000" stroke-width="1" stroke-linecap="butt"/>
<line x1="476.5" y1="654.7" x2="476.5" y2="656.9" stroke="#000" stroke-width="1" stroke-linecap="butt"/>
<line x1="484.5" y1="654.7" x2="484.5" y2="656.9" stroke="#000" stroke-width="1" stroke-linecap="butt"/>
<line x1="491.5" y1="654.7" x2="491.5" y2="656.9" stroke="#000" stroke-width="1" stroke-linecap="butt"/>
<line x1="498.68" y1="654.7" x2="498.68" y2="658.3" stroke="#000" stroke-width="1.25" stroke-linecap="butt"/>
<line x1="505.5" y1="654.7" x2="505.5" y2="656.9" stroke="#000" stroke-width="1" stroke-linecap="butt"/>
<line x1="513.5" y1="654.7" x2="513.5" y2="656.9" stroke="#000" stroke-width="1" stroke-linecap="butt"/>
<line x1="520.5" y1="654.7" x2="520.5" y2="656.9" stroke="#000" stroke-width="1" stroke-linecap="butt"/>
<line x1="527.5" y1="654.7" x2="527.5" y2="656.9" stroke="#000" stroke-width="1" stroke-linecap="butt"/>
<line x1="535.2" y1="654.7" x2="535.2" y2="658.3" stroke="#000" stroke-width="1.25" stroke-linecap="butt"/>
<line x1="357.2" y1="580.4" x2="534.7" y2="580.4" stroke="#1f9f6c" stroke-width="1.5" stroke-linecap="butt" stroke-dasharray="1.5 3.95"/>
<line x1="357.2" y1="627.9" x2="534.7" y2="627.9" stroke="#1f9f6c" stroke-width="1.5" stroke-linecap="butt" stroke-dasharray="1.5 3.95"/>
<line x1="352.6" y1="593.5" x2="535.2" y2="593.5" stroke="#000" stroke-width="1.7" stroke-linecap="butt"/>
<line x1="353.1" y1="604.3" x2="534.7" y2="604.3" stroke="#0e9a62" stroke-width="1.5" stroke-linecap="butt" stroke-dasharray="5.2 3.85" stroke-dashoffset="1.2"/>
<rect x="396.7" y="626.8" width="6" height="6" fill="#0e9a62"/>
<rect x="404.6" y="601.7" width="6" height="6" fill="#0e9a62"/>
<rect x="413.8" y="609.2" width="6" height="6" fill="#0e9a62"/>
<rect x="427.3" y="603.6" width="6" height="6" fill="#0e9a62"/>
<rect x="434.9" y="596.7" width="6" height="6" fill="#0e9a62"/>
<rect x="443.5" y="590.6" width="6" height="6" fill="#0e9a62"/>
<rect x="470.8" y="592.5" width="6" height="6" fill="#0e9a62"/>
<rect x="470.6" y="602.9" width="6" height="6" fill="#0e9a62"/>
<rect x="479.4" y="585.1" width="6" height="6" fill="#0e9a62"/>
<rect x="352.6" y="532.5" width="182.6" height="122.2" fill="none" stroke="#000" stroke-width="1.5"/>
<text transform="translate(331.34,658.75) scale(1.12,1)" textLength="13.36" lengthAdjust="spacing" style="font-size:8.2px;font-weight:bold;font-style:normal;fill:#111">-40</text>
<text transform="translate(331.34,643.48) scale(1.12,1)" textLength="13.36" lengthAdjust="spacing" style="font-size:8.2px;font-weight:bold;font-style:normal;fill:#111">-30</text>
<text transform="translate(331.34,628.2) scale(1.12,1)" textLength="13.36" lengthAdjust="spacing" style="font-size:8.2px;font-weight:bold;font-style:normal;fill:#111">-20</text>
<text transform="translate(331.34,612.93) scale(1.12,1)" textLength="13.36" lengthAdjust="spacing" style="font-size:8.2px;font-weight:bold;font-style:normal;fill:#111">-10</text>
<text transform="translate(340.71,597.65) scale(1.12,1)" textLength="4.99" lengthAdjust="spacing" style="font-size:8.2px;font-weight:bold;font-style:normal;fill:#111">0</text>
<text transform="translate(334.66,582.38) scale(1.12,1)" textLength="10.39" lengthAdjust="spacing" style="font-size:8.2px;font-weight:bold;font-style:normal;fill:#111">10</text>
<text transform="translate(334.66,567.1) scale(1.12,1)" textLength="10.39" lengthAdjust="spacing" style="font-size:8.2px;font-weight:bold;font-style:normal;fill:#111">20</text>
<text transform="translate(334.66,551.83) scale(1.12,1)" textLength="10.39" lengthAdjust="spacing" style="font-size:8.2px;font-weight:bold;font-style:normal;fill:#111">30</text>
<text transform="translate(334.66,536.55) scale(1.12,1)" textLength="10.39" lengthAdjust="spacing" style="font-size:8.2px;font-weight:bold;font-style:normal;fill:#111">40</text>
<text transform="translate(346.78,670.55) scale(1.12,1)" textLength="10.39" lengthAdjust="spacing" style="font-size:8.2px;font-weight:bold;font-style:normal;fill:#111">45</text>
<text transform="translate(383.3,670.55) scale(1.12,1)" textLength="10.39" lengthAdjust="spacing" style="font-size:8.2px;font-weight:bold;font-style:normal;fill:#111">50</text>
<text transform="translate(419.82,670.55) scale(1.12,1)" textLength="10.39" lengthAdjust="spacing" style="font-size:8.2px;font-weight:bold;font-style:normal;fill:#111">55</text>
<text transform="translate(456.34,670.55) scale(1.12,1)" textLength="10.39" lengthAdjust="spacing" style="font-size:8.2px;font-weight:bold;font-style:normal;fill:#111">60</text>
<text transform="translate(492.86,670.55) scale(1.12,1)" textLength="10.39" lengthAdjust="spacing" style="font-size:8.2px;font-weight:bold;font-style:normal;fill:#111">65</text>
<text transform="translate(529.38,670.55) scale(1.12,1)" textLength="10.39" lengthAdjust="spacing" style="font-size:8.2px;font-weight:bold;font-style:normal;fill:#111">70</text>
<text transform="translate(421.5,514.4) scale(0.95,1)" textLength="48.11" lengthAdjust="spacing" style="font-size:8.2px;font-weight:bold;font-style:normal;fill:#111">EF (Ctrl)</text>
<text transform="translate(420.5,687) scale(0.98,1)" textLength="47.65" lengthAdjust="spacing" style="font-size:8.2px;font-weight:bold;font-style:normal;fill:#111">Average</text>
<text transform="translate(328.4,613.1) rotate(-90) scale(0.98,1)" textLength="49.29" lengthAdjust="spacing" style="font-size:8.2px;font-weight:bold;font-style:normal;fill:#111">Difference</text>
<text transform="translate(467.2,640) scale(1,1)" textLength="64.7" lengthAdjust="spacing" style="font-size:8.2px;font-weight:bold;font-style:normal;fill:#111">Bias = -6.86</text>
<text transform="translate(434.3,654) scale(1,1)" textLength="97.6" lengthAdjust="spacing" style="font-size:8.2px;font-weight:bold;font-style:normal;fill:#111">LOA = -22.5 to 8.7</text>
<line x1="582" y1="656.3" x2="585.8" y2="656.3" stroke="#000" stroke-width="1.25" stroke-linecap="butt"/>
<line x1="583.6" y1="654.5" x2="585.8" y2="654.5" stroke="#000" stroke-width="0.76" stroke-linecap="butt"/>
<line x1="583.6" y1="653.5" x2="585.8" y2="653.5" stroke="#000" stroke-width="0.76" stroke-linecap="butt"/>
<line x1="583.6" y1="651.5" x2="585.8" y2="651.5" stroke="#000" stroke-width="0.76" stroke-linecap="butt"/>
<line x1="583.6" y1="650.5" x2="585.8" y2="650.5" stroke="#000" stroke-width="0.76" stroke-linecap="butt"/>
<line x1="583.6" y1="648.5" x2="585.8" y2="648.5" stroke="#000" stroke-width="0.76" stroke-linecap="butt"/>
<line x1="583.6" y1="647.5" x2="585.8" y2="647.5" stroke="#000" stroke-width="0.76" stroke-linecap="butt"/>
<line x1="583.6" y1="645.5" x2="585.8" y2="645.5" stroke="#000" stroke-width="0.76" stroke-linecap="butt"/>
<line x1="583.6" y1="644.5" x2="585.8" y2="644.5" stroke="#000" stroke-width="0.76" stroke-linecap="butt"/>
<line x1="583.6" y1="642.5" x2="585.8" y2="642.5" stroke="#000" stroke-width="0.76" stroke-linecap="butt"/>
<line x1="582" y1="641.05" x2="585.8" y2="641.05" stroke="#000" stroke-width="1.25" stroke-linecap="butt"/>
<line x1="583.6" y1="639.5" x2="585.8" y2="639.5" stroke="#000" stroke-width="0.76" stroke-linecap="butt"/>
<line x1="583.6" y1="638.5" x2="585.8" y2="638.5" stroke="#000" stroke-width="0.76" stroke-linecap="butt"/>
<line x1="583.6" y1="636.5" x2="585.8" y2="636.5" stroke="#000" stroke-width="0.76" stroke-linecap="butt"/>
<line x1="583.6" y1="634.5" x2="585.8" y2="634.5" stroke="#000" stroke-width="0.76" stroke-linecap="butt"/>
<line x1="583.6" y1="633.5" x2="585.8" y2="633.5" stroke="#000" stroke-width="0.76" stroke-linecap="butt"/>
<line x1="583.6" y1="631.5" x2="585.8" y2="631.5" stroke="#000" stroke-width="0.76" stroke-linecap="butt"/>
<line x1="583.6" y1="630.5" x2="585.8" y2="630.5" stroke="#000" stroke-width="0.76" stroke-linecap="butt"/>
<line x1="583.6" y1="628.5" x2="585.8" y2="628.5" stroke="#000" stroke-width="0.76" stroke-linecap="butt"/>
<line x1="583.6" y1="627.5" x2="585.8" y2="627.5" stroke="#000" stroke-width="0.76" stroke-linecap="butt"/>
<line x1="582" y1="625.8" x2="585.8" y2="625.8" stroke="#000" stroke-width="1.25" stroke-linecap="butt"/>
<line x1="583.6" y1="624.5" x2="585.8" y2="624.5" stroke="#000" stroke-width="0.76" stroke-linecap="butt"/>
<line x1="583.6" y1="622.5" x2="585.8" y2="622.5" stroke="#000" stroke-width="0.76" stroke-linecap="butt"/>
<line x1="583.6" y1="621.5" x2="585.8" y2="621.5" stroke="#000" stroke-width="0.76" stroke-linecap="butt"/>
<line x1="583.6" y1="619.5" x2="585.8" y2="619.5" stroke="#000" stroke-width="0.76" stroke-linecap="butt"/>
<line x1="583.6" y1="618.5" x2="585.8" y2="618.5" stroke="#000" stroke-width="0.76" stroke-linecap="butt"/>
<line x1="583.6" y1="616.5" x2="585.8" y2="616.5" stroke="#000" stroke-width="0.76" stroke-linecap="butt"/>
<line x1="583.6" y1="615.5" x2="585.8" y2="615.5" stroke="#000" stroke-width="0.76" stroke-linecap="butt"/>
<line x1="583.6" y1="613.5" x2="585.8" y2="613.5" stroke="#000" stroke-width="0.76" stroke-linecap="butt"/>
<line x1="583.6" y1="612.5" x2="585.8" y2="612.5" stroke="#000" stroke-width="0.76" stroke-linecap="butt"/>
<line x1="582" y1="610.55" x2="585.8" y2="610.55" stroke="#000" stroke-width="1.25" stroke-linecap="butt"/>
<line x1="583.6" y1="609.5" x2="585.8" y2="609.5" stroke="#000" stroke-width="0.76" stroke-linecap="butt"/>
<line x1="583.6" y1="607.5" x2="585.8" y2="607.5" stroke="#000" stroke-width="0.76" stroke-linecap="butt"/>
<line x1="583.6" y1="605.5" x2="585.8" y2="605.5" stroke="#000" stroke-width="0.76" stroke-linecap="butt"/>
<line x1="583.6" y1="604.5" x2="585.8" y2="604.5" stroke="#000" stroke-width="0.76" stroke-linecap="butt"/>
<line x1="583.6" y1="602.5" x2="585.8" y2="602.5" stroke="#000" stroke-width="0.76" stroke-linecap="butt"/>
<line x1="583.6" y1="601.5" x2="585.8" y2="601.5" stroke="#000" stroke-width="0.76" stroke-linecap="butt"/>
<line x1="583.6" y1="599.5" x2="585.8" y2="599.5" stroke="#000" stroke-width="0.76" stroke-linecap="butt"/>
<line x1="583.6" y1="598.5" x2="585.8" y2="598.5" stroke="#000" stroke-width="0.76" stroke-linecap="butt"/>
<line x1="583.6" y1="596.5" x2="585.8" y2="596.5" stroke="#000" stroke-width="0.76" stroke-linecap="butt"/>
<line x1="582" y1="595.3" x2="585.8" y2="595.3" stroke="#000" stroke-width="1.25" stroke-linecap="butt"/>
<line x1="583.6" y1="593.5" x2="585.8" y2="593.5" stroke="#000" stroke-width="0.76" stroke-linecap="butt"/>
<line x1="583.6" y1="592.5" x2="585.8" y2="592.5" stroke="#000" stroke-width="0.76" stroke-linecap="butt"/>
<line x1="583.6" y1="590.5" x2="585.8" y2="590.5" stroke="#000" stroke-width="0.76" stroke-linecap="butt"/>
<line x1="583.6" y1="589.5" x2="585.8" y2="589.5" stroke="#000" stroke-width="0.76" stroke-linecap="butt"/>
<line x1="583.6" y1="587.5" x2="585.8" y2="587.5" stroke="#000" stroke-width="0.76" stroke-linecap="butt"/>
<line x1="583.6" y1="586.5" x2="585.8" y2="586.5" stroke="#000" stroke-width="0.76" stroke-linecap="butt"/>
<line x1="583.6" y1="584.5" x2="585.8" y2="584.5" stroke="#000" stroke-width="0.76" stroke-linecap="butt"/>
<line x1="583.6" y1="583.5" x2="585.8" y2="583.5" stroke="#000" stroke-width="0.76" stroke-linecap="butt"/>
<line x1="583.6" y1="581.5" x2="585.8" y2="581.5" stroke="#000" stroke-width="0.76" stroke-linecap="butt"/>
<line x1="582" y1="580.05" x2="585.8" y2="580.05" stroke="#000" stroke-width="1.25" stroke-linecap="butt"/>
<line x1="583.6" y1="578.5" x2="585.8" y2="578.5" stroke="#000" stroke-width="0.76" stroke-linecap="butt"/>
<line x1="583.6" y1="577.5" x2="585.8" y2="577.5" stroke="#000" stroke-width="0.76" stroke-linecap="butt"/>
<line x1="583.6" y1="575.5" x2="585.8" y2="575.5" stroke="#000" stroke-width="0.76" stroke-linecap="butt"/>
<line x1="583.6" y1="573.5" x2="585.8" y2="573.5" stroke="#000" stroke-width="0.76" stroke-linecap="butt"/>
<line x1="583.6" y1="572.5" x2="585.8" y2="572.5" stroke="#000" stroke-width="0.76" stroke-linecap="butt"/>
<line x1="583.6" y1="570.5" x2="585.8" y2="570.5" stroke="#000" stroke-width="0.76" stroke-linecap="butt"/>
<line x1="583.6" y1="569.5" x2="585.8" y2="569.5" stroke="#000" stroke-width="0.76" stroke-linecap="butt"/>
<line x1="583.6" y1="567.5" x2="585.8" y2="567.5" stroke="#000" stroke-width="0.76" stroke-linecap="butt"/>
<line x1="583.6" y1="566.5" x2="585.8" y2="566.5" stroke="#000" stroke-width="0.76" stroke-linecap="butt"/>
<line x1="582" y1="564.8" x2="585.8" y2="564.8" stroke="#000" stroke-width="1.25" stroke-linecap="butt"/>
<line x1="583.6" y1="563.5" x2="585.8" y2="563.5" stroke="#000" stroke-width="0.76" stroke-linecap="butt"/>
<line x1="583.6" y1="561.5" x2="585.8" y2="561.5" stroke="#000" stroke-width="0.76" stroke-linecap="butt"/>
<line x1="583.6" y1="560.5" x2="585.8" y2="560.5" stroke="#000" stroke-width="0.76" stroke-linecap="butt"/>
<line x1="583.6" y1="558.5" x2="585.8" y2="558.5" stroke="#000" stroke-width="0.76" stroke-linecap="butt"/>
<line x1="583.6" y1="557.5" x2="585.8" y2="557.5" stroke="#000" stroke-width="0.76" stroke-linecap="butt"/>
<line x1="583.6" y1="555.5" x2="585.8" y2="555.5" stroke="#000" stroke-width="0.76" stroke-linecap="butt"/>
<line x1="583.6" y1="554.5" x2="585.8" y2="554.5" stroke="#000" stroke-width="0.76" stroke-linecap="butt"/>
<line x1="583.6" y1="552.5" x2="585.8" y2="552.5" stroke="#000" stroke-width="0.76" stroke-linecap="butt"/>
<line x1="583.6" y1="551.5" x2="585.8" y2="551.5" stroke="#000" stroke-width="0.76" stroke-linecap="butt"/>
<line x1="582" y1="549.55" x2="585.8" y2="549.55" stroke="#000" stroke-width="1.25" stroke-linecap="butt"/>
<line x1="583.6" y1="548.5" x2="585.8" y2="548.5" stroke="#000" stroke-width="0.76" stroke-linecap="butt"/>
<line x1="583.6" y1="546.5" x2="585.8" y2="546.5" stroke="#000" stroke-width="0.76" stroke-linecap="butt"/>
<line x1="583.6" y1="544.5" x2="585.8" y2="544.5" stroke="#000" stroke-width="0.76" stroke-linecap="butt"/>
<line x1="583.6" y1="543.5" x2="585.8" y2="543.5" stroke="#000" stroke-width="0.76" stroke-linecap="butt"/>
<line x1="583.6" y1="541.5" x2="585.8" y2="541.5" stroke="#000" stroke-width="0.76" stroke-linecap="butt"/>
<line x1="583.6" y1="540.5" x2="585.8" y2="540.5" stroke="#000" stroke-width="0.76" stroke-linecap="butt"/>
<line x1="583.6" y1="538.5" x2="585.8" y2="538.5" stroke="#000" stroke-width="0.76" stroke-linecap="butt"/>
<line x1="583.6" y1="537.5" x2="585.8" y2="537.5" stroke="#000" stroke-width="0.76" stroke-linecap="butt"/>
<line x1="583.6" y1="535.5" x2="585.8" y2="535.5" stroke="#000" stroke-width="0.76" stroke-linecap="butt"/>
<line x1="582" y1="534.3" x2="585.8" y2="534.3" stroke="#000" stroke-width="1.25" stroke-linecap="butt"/>
<line x1="585.8" y1="656.3" x2="585.8" y2="659.9" stroke="#000" stroke-width="1.25" stroke-linecap="butt"/>
<line x1="594.5" y1="656.3" x2="594.5" y2="658.5" stroke="#000" stroke-width="1" stroke-linecap="butt"/>
<line x1="604.5" y1="656.3" x2="604.5" y2="658.5" stroke="#000" stroke-width="1" stroke-linecap="butt"/>
<line x1="613.5" y1="656.3" x2="613.5" y2="658.5" stroke="#000" stroke-width="1" stroke-linecap="butt"/>
<line x1="622.5" y1="656.3" x2="622.5" y2="658.5" stroke="#000" stroke-width="1" stroke-linecap="butt"/>
<line x1="631.7" y1="656.3" x2="631.7" y2="659.9" stroke="#000" stroke-width="1.25" stroke-linecap="butt"/>
<line x1="640.5" y1="656.3" x2="640.5" y2="658.5" stroke="#000" stroke-width="1" stroke-linecap="butt"/>
<line x1="650.5" y1="656.3" x2="650.5" y2="658.5" stroke="#000" stroke-width="1" stroke-linecap="butt"/>
<line x1="659.5" y1="656.3" x2="659.5" y2="658.5" stroke="#000" stroke-width="1" stroke-linecap="butt"/>
<line x1="668.5" y1="656.3" x2="668.5" y2="658.5" stroke="#000" stroke-width="1" stroke-linecap="butt"/>
<line x1="677.6" y1="656.3" x2="677.6" y2="659.9" stroke="#000" stroke-width="1.25" stroke-linecap="butt"/>
<line x1="686.5" y1="656.3" x2="686.5" y2="658.5" stroke="#000" stroke-width="1" stroke-linecap="butt"/>
<line x1="695.5" y1="656.3" x2="695.5" y2="658.5" stroke="#000" stroke-width="1" stroke-linecap="butt"/>
<line x1="705.5" y1="656.3" x2="705.5" y2="658.5" stroke="#000" stroke-width="1" stroke-linecap="butt"/>
<line x1="714.5" y1="656.3" x2="714.5" y2="658.5" stroke="#000" stroke-width="1" stroke-linecap="butt"/>
<line x1="723.5" y1="656.3" x2="723.5" y2="659.9" stroke="#000" stroke-width="1.25" stroke-linecap="butt"/>
<line x1="732.5" y1="656.3" x2="732.5" y2="658.5" stroke="#000" stroke-width="1" stroke-linecap="butt"/>
<line x1="741.5" y1="656.3" x2="741.5" y2="658.5" stroke="#000" stroke-width="1" stroke-linecap="butt"/>
<line x1="751.5" y1="656.3" x2="751.5" y2="658.5" stroke="#000" stroke-width="1" stroke-linecap="butt"/>
<line x1="760.5" y1="656.3" x2="760.5" y2="658.5" stroke="#000" stroke-width="1" stroke-linecap="butt"/>
<line x1="769.4" y1="656.3" x2="769.4" y2="659.9" stroke="#000" stroke-width="1.25" stroke-linecap="butt"/>
<line x1="590.4" y1="586.3" x2="768.9" y2="586.3" stroke="#1f9f6c" stroke-width="1.5" stroke-linecap="butt" stroke-dasharray="1.5 3.95"/>
<line x1="590.4" y1="601" x2="768.9" y2="601" stroke="#1f9f6c" stroke-width="1.5" stroke-linecap="butt" stroke-dasharray="1.5 3.95"/>
<line x1="585.8" y1="595" x2="769.4" y2="595" stroke="#000" stroke-width="1.7" stroke-linecap="butt"/>
<line x1="586.3" y1="593.6" x2="768.9" y2="593.6" stroke="#0e9a62" stroke-width="1.5" stroke-linecap="butt" stroke-dasharray="5.2 3.85" stroke-dashoffset="1.2"/>
<rect x="603" y="594.5" width="5.6" height="5.6" fill="#fff" stroke="#0e9a62" stroke-width="1.4"/>
<rect x="613.8" y="593.2" width="5.6" height="5.6" fill="#fff" stroke="#0e9a62" stroke-width="1.4"/>
<rect x="628.2" y="584.6" width="5.6" height="5.6" fill="#fff" stroke="#0e9a62" stroke-width="1.4"/>
<rect x="634.2" y="589.2" width="5.6" height="5.6" fill="#fff" stroke="#0e9a62" stroke-width="1.4"/>
<rect x="658.3" y="587.6" width="5.6" height="5.6" fill="#fff" stroke="#0e9a62" stroke-width="1.4"/>
<rect x="729.7" y="594.5" width="5.6" height="5.6" fill="#fff" stroke="#0e9a62" stroke-width="1.4"/>
<rect x="585.8" y="534.3" width="183.6" height="122" fill="none" stroke="#000" stroke-width="1.5"/>
<text transform="translate(564.54,660.35) scale(1.12,1)" textLength="13.36" lengthAdjust="spacing" style="font-size:8.2px;font-weight:bold;font-style:normal;fill:#111">-40</text>
<text transform="translate(564.54,645.1) scale(1.12,1)" textLength="13.36" lengthAdjust="spacing" style="font-size:8.2px;font-weight:bold;font-style:normal;fill:#111">-30</text>
<text transform="translate(564.54,629.85) scale(1.12,1)" textLength="13.36" lengthAdjust="spacing" style="font-size:8.2px;font-weight:bold;font-style:normal;fill:#111">-20</text>
<text transform="translate(564.54,614.6) scale(1.12,1)" textLength="13.36" lengthAdjust="spacing" style="font-size:8.2px;font-weight:bold;font-style:normal;fill:#111">-10</text>
<text transform="translate(573.91,599.35) scale(1.12,1)" textLength="4.99" lengthAdjust="spacing" style="font-size:8.2px;font-weight:bold;font-style:normal;fill:#111">0</text>
<text transform="translate(567.86,584.1) scale(1.12,1)" textLength="10.39" lengthAdjust="spacing" style="font-size:8.2px;font-weight:bold;font-style:normal;fill:#111">10</text>
<text transform="translate(567.86,568.85) scale(1.12,1)" textLength="10.39" lengthAdjust="spacing" style="font-size:8.2px;font-weight:bold;font-style:normal;fill:#111">20</text>
<text transform="translate(567.86,553.6) scale(1.12,1)" textLength="10.39" lengthAdjust="spacing" style="font-size:8.2px;font-weight:bold;font-style:normal;fill:#111">30</text>
<text transform="translate(567.86,538.35) scale(1.12,1)" textLength="10.39" lengthAdjust="spacing" style="font-size:8.2px;font-weight:bold;font-style:normal;fill:#111">40</text>
<text transform="translate(579.98,672.15) scale(1.12,1)" textLength="10.39" lengthAdjust="spacing" style="font-size:8.2px;font-weight:bold;font-style:normal;fill:#111">20</text>
<text transform="translate(625.88,672.15) scale(1.12,1)" textLength="10.39" lengthAdjust="spacing" style="font-size:8.2px;font-weight:bold;font-style:normal;fill:#111">25</text>
<text transform="translate(671.78,672.15) scale(1.12,1)" textLength="10.39" lengthAdjust="spacing" style="font-size:8.2px;font-weight:bold;font-style:normal;fill:#111">30</text>
<text transform="translate(717.68,672.15) scale(1.12,1)" textLength="10.39" lengthAdjust="spacing" style="font-size:8.2px;font-weight:bold;font-style:normal;fill:#111">35</text>
<text transform="translate(763.58,672.15) scale(1.12,1)" textLength="10.39" lengthAdjust="spacing" style="font-size:8.2px;font-weight:bold;font-style:normal;fill:#111">40</text>
<text transform="translate(634.1,514.8) scale(0.95,1)" textLength="92.53" lengthAdjust="spacing" style="font-size:8.2px;font-weight:bold;font-style:normal;fill:#111">EF (TetO/mRen)</text>
<text transform="translate(654.8,688.3) scale(0.98,1)" textLength="46.84" lengthAdjust="spacing" style="font-size:8.2px;font-weight:bold;font-style:normal;fill:#111">Average</text>
<text transform="translate(557.6,622.4) rotate(-90) scale(0.98,1)" textLength="57.14" lengthAdjust="spacing" style="font-size:8.2px;font-weight:bold;font-style:normal;fill:#111">Difference</text>
<text transform="translate(704.2,641) scale(1,1)" textLength="59.9" lengthAdjust="spacing" style="font-size:8.2px;font-weight:bold;font-style:normal;fill:#111">Bias = 0.76</text>
<text transform="translate(673.7,653.7) scale(1,1)" textLength="90.4" lengthAdjust="spacing" style="font-size:8.2px;font-weight:bold;font-style:normal;fill:#111">LOA = -4.1 to 5.6</text>
<line x1="352.9" y1="886.6" x2="356.7" y2="886.6" stroke="#000" stroke-width="1.25" stroke-linecap="butt"/>
<line x1="354.5" y1="885.5" x2="356.7" y2="885.5" stroke="#000" stroke-width="0.62" stroke-linecap="butt"/>
<line x1="354.5" y1="884.5" x2="356.7" y2="884.5" stroke="#000" stroke-width="0.62" stroke-linecap="butt"/>
<line x1="354.5" y1="882.5" x2="356.7" y2="882.5" stroke="#000" stroke-width="0.62" stroke-linecap="butt"/>
<line x1="354.5" y1="881.5" x2="356.7" y2="881.5" stroke="#000" stroke-width="0.62" stroke-linecap="butt"/>
<line x1="354.5" y1="880.5" x2="356.7" y2="880.5" stroke="#000" stroke-width="0.62" stroke-linecap="butt"/>
<line x1="354.5" y1="879.5" x2="356.7" y2="879.5" stroke="#000" stroke-width="0.62" stroke-linecap="butt"/>
<line x1="354.5" y1="877.5" x2="356.7" y2="877.5" stroke="#000" stroke-width="0.62" stroke-linecap="butt"/>
<line x1="354.5" y1="876.5" x2="356.7" y2="876.5" stroke="#000" stroke-width="0.62" stroke-linecap="butt"/>
<line x1="354.5" y1="875.5" x2="356.7" y2="875.5" stroke="#000" stroke-width="0.62" stroke-linecap="butt"/>
<line x1="352.9" y1="874.29" x2="356.7" y2="874.29" stroke="#000" stroke-width="1.25" stroke-linecap="butt"/>
<line x1="354.5" y1="873.5" x2="356.7" y2="873.5" stroke="#000" stroke-width="0.62" stroke-linecap="butt"/>
<line x1="354.5" y1="871.5" x2="356.7" y2="871.5" stroke="#000" stroke-width="0.62" stroke-linecap="butt"/>
<line x1="354.5" y1="870.5" x2="356.7" y2="870.5" stroke="#000" stroke-width="0.62" stroke-linecap="butt"/>
<line x1="354.5" y1="869.5" x2="356.7" y2="869.5" stroke="#000" stroke-width="0.62" stroke-linecap="butt"/>
<line x1="354.5" y1="868.5" x2="356.7" y2="868.5" stroke="#000" stroke-width="0.62" stroke-linecap="butt"/>
<line x1="354.5" y1="866.5" x2="356.7" y2="866.5" stroke="#000" stroke-width="0.62" stroke-linecap="butt"/>
<line x1="354.5" y1="865.5" x2="356.7" y2="865.5" stroke="#000" stroke-width="0.62" stroke-linecap="butt"/>
<line x1="354.5" y1="864.5" x2="356.7" y2="864.5" stroke="#000" stroke-width="0.62" stroke-linecap="butt"/>
<line x1="354.5" y1="863.5" x2="356.7" y2="863.5" stroke="#000" stroke-width="0.62" stroke-linecap="butt"/>
<line x1="352.9" y1="861.98" x2="356.7" y2="861.98" stroke="#000" stroke-width="1.25" stroke-linecap="butt"/>
<line x1="354.5" y1="860.5" x2="356.7" y2="860.5" stroke="#000" stroke-width="0.62" stroke-linecap="butt"/>
<line x1="354.5" y1="859.5" x2="356.7" y2="859.5" stroke="#000" stroke-width="0.62" stroke-linecap="butt"/>
<line x1="354.5" y1="858.5" x2="356.7" y2="858.5" stroke="#000" stroke-width="0.62" stroke-linecap="butt"/>
<line x1="354.5" y1="857.5" x2="356.7" y2="857.5" stroke="#000" stroke-width="0.62" stroke-linecap="butt"/>
<line x1="354.5" y1="855.5" x2="356.7" y2="855.5" stroke="#000" stroke-width="0.62" stroke-linecap="butt"/>
<line x1="354.5" y1="854.5" x2="356.7" y2="854.5" stroke="#000" stroke-width="0.62" stroke-linecap="butt"/>
<line x1="354.5" y1="853.5" x2="356.7" y2="853.5" stroke="#000" stroke-width="0.62" stroke-linecap="butt"/>
<line x1="354.5" y1="852.5" x2="356.7" y2="852.5" stroke="#000" stroke-width="0.62" stroke-linecap="butt"/>
<line x1="354.5" y1="850.5" x2="356.7" y2="850.5" stroke="#000" stroke-width="0.62" stroke-linecap="butt"/>
<line x1="352.9" y1="849.67" x2="356.7" y2="849.67" stroke="#000" stroke-width="1.25" stroke-linecap="butt"/>
<line x1="354.5" y1="848.5" x2="356.7" y2="848.5" stroke="#000" stroke-width="0.62" stroke-linecap="butt"/>
<line x1="354.5" y1="847.5" x2="356.7" y2="847.5" stroke="#000" stroke-width="0.62" stroke-linecap="butt"/>
<line x1="354.5" y1="845.5" x2="356.7" y2="845.5" stroke="#000" stroke-width="0.62" stroke-linecap="butt"/>
<line x1="354.5" y1="844.5" x2="356.7" y2="844.5" stroke="#000" stroke-width="0.62" stroke-linecap="butt"/>
<line x1="354.5" y1="843.5" x2="356.7" y2="843.5" stroke="#000" stroke-width="0.62" stroke-linecap="butt"/>
<line x1="354.5" y1="842.5" x2="356.7" y2="842.5" stroke="#000" stroke-width="0.62" stroke-linecap="butt"/>
<line x1="354.5" y1="841.5" x2="356.7" y2="841.5" stroke="#000" stroke-width="0.62" stroke-linecap="butt"/>
<line x1="354.5" y1="839.5" x2="356.7" y2="839.5" stroke="#000" stroke-width="0.62" stroke-linecap="butt"/>
<line x1="354.5" y1="838.5" x2="356.7" y2="838.5" stroke="#000" stroke-width="0.62" stroke-linecap="butt"/>
<line x1="352.9" y1="837.36" x2="356.7" y2="837.36" stroke="#000" stroke-width="1.25" stroke-linecap="butt"/>
<line x1="354.5" y1="836.5" x2="356.7" y2="836.5" stroke="#000" stroke-width="0.62" stroke-linecap="butt"/>
<line x1="354.5" y1="834.5" x2="356.7" y2="834.5" stroke="#000" stroke-width="0.62" stroke-linecap="butt"/>
<line x1="354.5" y1="833.5" x2="356.7" y2="833.5" stroke="#000" stroke-width="0.62" stroke-linecap="butt"/>
<line x1="354.5" y1="832.5" x2="356.7" y2="832.5" stroke="#000" stroke-width="0.62" stroke-linecap="butt"/>
<line x1="354.5" y1="831.5" x2="356.7" y2="831.5" stroke="#000" stroke-width="0.62" stroke-linecap="butt"/>
<line x1="354.5" y1="829.5" x2="356.7" y2="829.5" stroke="#000" stroke-width="0.62" stroke-linecap="butt"/>
<line x1="354.5" y1="828.5" x2="356.7" y2="828.5" stroke="#000" stroke-width="0.62" stroke-linecap="butt"/>
<line x1="354.5" y1="827.5" x2="356.7" y2="827.5" stroke="#000" stroke-width="0.62" stroke-linecap="butt"/>
<line x1="354.5" y1="826.5" x2="356.7" y2="826.5" stroke="#000" stroke-width="0.62" stroke-linecap="butt"/>
<line x1="352.9" y1="825.05" x2="356.7" y2="825.05" stroke="#000" stroke-width="1.25" stroke-linecap="butt"/>
<line x1="354.5" y1="823.5" x2="356.7" y2="823.5" stroke="#000" stroke-width="0.62" stroke-linecap="butt"/>
<line x1="354.5" y1="822.5" x2="356.7" y2="822.5" stroke="#000" stroke-width="0.62" stroke-linecap="butt"/>
<line x1="354.5" y1="821.5" x2="356.7" y2="821.5" stroke="#000" stroke-width="0.62" stroke-linecap="butt"/>
<line x1="354.5" y1="820.5" x2="356.7" y2="820.5" stroke="#000" stroke-width="0.62" stroke-linecap="butt"/>
<line x1="354.5" y1="818.5" x2="356.7" y2="818.5" stroke="#000" stroke-width="0.62" stroke-linecap="butt"/>
<line x1="354.5" y1="817.5" x2="356.7" y2="817.5" stroke="#000" stroke-width="0.62" stroke-linecap="butt"/>
<line x1="354.5" y1="816.5" x2="356.7" y2="816.5" stroke="#000" stroke-width="0.62" stroke-linecap="butt"/>
<line x1="354.5" y1="815.5" x2="356.7" y2="815.5" stroke="#000" stroke-width="0.62" stroke-linecap="butt"/>
<line x1="354.5" y1="813.5" x2="356.7" y2="813.5" stroke="#000" stroke-width="0.62" stroke-linecap="butt"/>
<line x1="352.9" y1="812.74" x2="356.7" y2="812.74" stroke="#000" stroke-width="1.25" stroke-linecap="butt"/>
<line x1="354.5" y1="811.5" x2="356.7" y2="811.5" stroke="#000" stroke-width="0.62" stroke-linecap="butt"/>
<line x1="354.5" y1="810.5" x2="356.7" y2="810.5" stroke="#000" stroke-width="0.62" stroke-linecap="butt"/>
<line x1="354.5" y1="809.5" x2="356.7" y2="809.5" stroke="#000" stroke-width="0.62" stroke-linecap="butt"/>
<line x1="354.5" y1="807.5" x2="356.7" y2="807.5" stroke="#000" stroke-width="0.62" stroke-linecap="butt"/>
<line x1="354.5" y1="806.5" x2="356.7" y2="806.5" stroke="#000" stroke-width="0.62" stroke-linecap="butt"/>
<line x1="354.5" y1="805.5" x2="356.7" y2="805.5" stroke="#000" stroke-width="0.62" stroke-linecap="butt"/>
<line x1="354.5" y1="804.5" x2="356.7" y2="804.5" stroke="#000" stroke-width="0.62" stroke-linecap="butt"/>
<line x1="354.5" y1="802.5" x2="356.7" y2="802.5" stroke="#000" stroke-width="0.62" stroke-linecap="butt"/>
<line x1="354.5" y1="801.5" x2="356.7" y2="801.5" stroke="#000" stroke-width="0.62" stroke-linecap="butt"/>
<line x1="352.9" y1="800.43" x2="356.7" y2="800.43" stroke="#000" stroke-width="1.25" stroke-linecap="butt"/>
<line x1="354.5" y1="799.5" x2="356.7" y2="799.5" stroke="#000" stroke-width="0.62" stroke-linecap="butt"/>
<line x1="354.5" y1="797.5" x2="356.7" y2="797.5" stroke="#000" stroke-width="0.62" stroke-linecap="butt"/>
<line x1="354.5" y1="796.5" x2="356.7" y2="796.5" stroke="#000" stroke-width="0.62" stroke-linecap="butt"/>
<line x1="354.5" y1="795.5" x2="356.7" y2="795.5" stroke="#000" stroke-width="0.62" stroke-linecap="butt"/>
<line x1="354.5" y1="794.5" x2="356.7" y2="794.5" stroke="#000" stroke-width="0.62" stroke-linecap="butt"/>
<line x1="354.5" y1="793.5" x2="356.7" y2="793.5" stroke="#000" stroke-width="0.62" stroke-linecap="butt"/>
<line x1="354.5" y1="791.5" x2="356.7" y2="791.5" stroke="#000" stroke-width="0.62" stroke-linecap="butt"/>
<line x1="354.5" y1="790.5" x2="356.7" y2="790.5" stroke="#000" stroke-width="0.62" stroke-linecap="butt"/>
<line x1="354.5" y1="789.5" x2="356.7" y2="789.5" stroke="#000" stroke-width="0.62" stroke-linecap="butt"/>
<line x1="352.9" y1="788.12" x2="356.7" y2="788.12" stroke="#000" stroke-width="1.25" stroke-linecap="butt"/>
<line x1="354.5" y1="786.5" x2="356.7" y2="786.5" stroke="#000" stroke-width="0.62" stroke-linecap="butt"/>
<line x1="354.5" y1="785.5" x2="356.7" y2="785.5" stroke="#000" stroke-width="0.62" stroke-linecap="butt"/>
<line x1="354.5" y1="784.5" x2="356.7" y2="784.5" stroke="#000" stroke-width="0.62" stroke-linecap="butt"/>
<line x1="354.5" y1="783.5" x2="356.7" y2="783.5" stroke="#000" stroke-width="0.62" stroke-linecap="butt"/>
<line x1="354.5" y1="781.5" x2="356.7" y2="781.5" stroke="#000" stroke-width="0.62" stroke-linecap="butt"/>
<line x1="354.5" y1="780.5" x2="356.7" y2="780.5" stroke="#000" stroke-width="0.62" stroke-linecap="butt"/>
<line x1="354.5" y1="779.5" x2="356.7" y2="779.5" stroke="#000" stroke-width="0.62" stroke-linecap="butt"/>
<line x1="354.5" y1="778.5" x2="356.7" y2="778.5" stroke="#000" stroke-width="0.62" stroke-linecap="butt"/>
<line x1="354.5" y1="777.5" x2="356.7" y2="777.5" stroke="#000" stroke-width="0.62" stroke-linecap="butt"/>
<line x1="352.9" y1="775.81" x2="356.7" y2="775.81" stroke="#000" stroke-width="1.25" stroke-linecap="butt"/>
<line x1="354.5" y1="774.5" x2="356.7" y2="774.5" stroke="#000" stroke-width="0.62" stroke-linecap="butt"/>
<line x1="354.5" y1="773.5" x2="356.7" y2="773.5" stroke="#000" stroke-width="0.62" stroke-linecap="butt"/>
<line x1="354.5" y1="772.5" x2="356.7" y2="772.5" stroke="#000" stroke-width="0.62" stroke-linecap="butt"/>
<line x1="354.5" y1="770.5" x2="356.7" y2="770.5" stroke="#000" stroke-width="0.62" stroke-linecap="butt"/>
<line x1="354.5" y1="769.5" x2="356.7" y2="769.5" stroke="#000" stroke-width="0.62" stroke-linecap="butt"/>
<line x1="354.5" y1="768.5" x2="356.7" y2="768.5" stroke="#000" stroke-width="0.62" stroke-linecap="butt"/>
<line x1="354.5" y1="767.5" x2="356.7" y2="767.5" stroke="#000" stroke-width="0.62" stroke-linecap="butt"/>
<line x1="354.5" y1="765.5" x2="356.7" y2="765.5" stroke="#000" stroke-width="0.62" stroke-linecap="butt"/>
<line x1="354.5" y1="764.5" x2="356.7" y2="764.5" stroke="#000" stroke-width="0.62" stroke-linecap="butt"/>
<line x1="352.9" y1="763.5" x2="356.7" y2="763.5" stroke="#000" stroke-width="1.25" stroke-linecap="butt"/>
<line x1="356.7" y1="886.6" x2="356.7" y2="890.2" stroke="#000" stroke-width="1.25" stroke-linecap="butt"/>
<line x1="365.5" y1="886.6" x2="365.5" y2="888.8" stroke="#000" stroke-width="1" stroke-linecap="butt"/>
<line x1="375.5" y1="886.6" x2="375.5" y2="888.8" stroke="#000" stroke-width="1" stroke-linecap="butt"/>
<line x1="384.5" y1="886.6" x2="384.5" y2="888.8" stroke="#000" stroke-width="1" stroke-linecap="butt"/>
<line x1="393.5" y1="886.6" x2="393.5" y2="888.8" stroke="#000" stroke-width="1" stroke-linecap="butt"/>
<line x1="402.77" y1="886.6" x2="402.77" y2="890.2" stroke="#000" stroke-width="1.25" stroke-linecap="butt"/>
<line x1="411.5" y1="886.6" x2="411.5" y2="888.8" stroke="#000" stroke-width="1" stroke-linecap="butt"/>
<line x1="421.5" y1="886.6" x2="421.5" y2="888.8" stroke="#000" stroke-width="1" stroke-linecap="butt"/>
<line x1="430.5" y1="886.6" x2="430.5" y2="888.8" stroke="#000" stroke-width="1" stroke-linecap="butt"/>
<line x1="439.5" y1="886.6" x2="439.5" y2="888.8" stroke="#000" stroke-width="1" stroke-linecap="butt"/>
<line x1="448.85" y1="886.6" x2="448.85" y2="890.2" stroke="#000" stroke-width="1.25" stroke-linecap="butt"/>
<line x1="458.5" y1="886.6" x2="458.5" y2="888.8" stroke="#000" stroke-width="1" stroke-linecap="butt"/>
<line x1="467.5" y1="886.6" x2="467.5" y2="888.8" stroke="#000" stroke-width="1" stroke-linecap="butt"/>
<line x1="476.5" y1="886.6" x2="476.5" y2="888.8" stroke="#000" stroke-width="1" stroke-linecap="butt"/>
<line x1="485.5" y1="886.6" x2="485.5" y2="888.8" stroke="#000" stroke-width="1" stroke-linecap="butt"/>
<line x1="494.93" y1="886.6" x2="494.93" y2="890.2" stroke="#000" stroke-width="1.25" stroke-linecap="butt"/>
<line x1="504.5" y1="886.6" x2="504.5" y2="888.8" stroke="#000" stroke-width="1" stroke-linecap="butt"/>
<line x1="513.5" y1="886.6" x2="513.5" y2="888.8" stroke="#000" stroke-width="1" stroke-linecap="butt"/>
<line x1="522.5" y1="886.6" x2="522.5" y2="888.8" stroke="#000" stroke-width="1" stroke-linecap="butt"/>
<line x1="531.5" y1="886.6" x2="531.5" y2="888.8" stroke="#000" stroke-width="1" stroke-linecap="butt"/>
<line x1="541" y1="886.6" x2="541" y2="890.2" stroke="#000" stroke-width="1.25" stroke-linecap="butt"/>
<line x1="361.3" y1="771.1" x2="540.5" y2="771.1" stroke="#1f9f6c" stroke-width="1.5" stroke-linecap="butt" stroke-dasharray="1.5 3.95"/>
<line x1="361.3" y1="863.1" x2="540.5" y2="863.1" stroke="#1f9f6c" stroke-width="1.5" stroke-linecap="butt" stroke-dasharray="1.5 3.95"/>
<line x1="356.7" y1="825.05" x2="541" y2="825.05" stroke="#000" stroke-width="1.7" stroke-linecap="butt"/>
<line x1="357.2" y1="816.8" x2="540.5" y2="816.8" stroke="#0e9a62" stroke-width="1.5" stroke-linecap="butt" stroke-dasharray="5.2 3.85" stroke-dashoffset="1.2"/>
<rect x="435.3" y="782.9" width="6" height="6" fill="#0e9a62"/>
<rect x="479.1" y="796.8" width="6" height="6" fill="#0e9a62"/>
<rect x="490.2" y="791.3" width="6" height="6" fill="#0e9a62"/>
<rect x="424.2" y="811.4" width="6" height="6" fill="#0e9a62"/>
<rect x="513.8" y="809.8" width="6" height="6" fill="#0e9a62"/>
<rect x="431.1" y="821.9" width="6" height="6" fill="#0e9a62"/>
<rect x="457.1" y="821.2" width="6" height="6" fill="#0e9a62"/>
<rect x="462.9" y="831.1" width="6" height="6" fill="#0e9a62"/>
<rect x="418.4" y="860.8" width="6" height="6" fill="#0e9a62"/>
<rect x="356.7" y="763.5" width="184.3" height="123.1" fill="none" stroke="#000" stroke-width="1.5"/>
<text transform="translate(335.44,890.65) scale(1.12,1)" textLength="13.36" lengthAdjust="spacing" style="font-size:8.2px;font-weight:bold;font-style:normal;fill:#111">-50</text>
<text transform="translate(335.44,878.34) scale(1.12,1)" textLength="13.36" lengthAdjust="spacing" style="font-size:8.2px;font-weight:bold;font-style:normal;fill:#111">-40</text>
<text transform="translate(335.44,866.03) scale(1.12,1)" textLength="13.36" lengthAdjust="spacing" style="font-size:8.2px;font-weight:bold;font-style:normal;fill:#111">-30</text>
<text transform="translate(335.44,853.72) scale(1.12,1)" textLength="13.36" lengthAdjust="spacing" style="font-size:8.2px;font-weight:bold;font-style:normal;fill:#111">-20</text>
<text transform="translate(335.44,841.41) scale(1.12,1)" textLength="13.36" lengthAdjust="spacing" style="font-size:8.2px;font-weight:bold;font-style:normal;fill:#111">-10</text>
<text transform="translate(344.81,829.1) scale(1.12,1)" textLength="4.99" lengthAdjust="spacing" style="font-size:8.2px;font-weight:bold;font-style:normal;fill:#111">0</text>
<text transform="translate(338.76,816.79) scale(1.12,1)" textLength="10.39" lengthAdjust="spacing" style="font-size:8.2px;font-weight:bold;font-style:normal;fill:#111">10</text>
<text transform="translate(338.76,804.48) scale(1.12,1)" textLength="10.39" lengthAdjust="spacing" style="font-size:8.2px;font-weight:bold;font-style:normal;fill:#111">20</text>
<text transform="translate(338.76,792.17) scale(1.12,1)" textLength="10.39" lengthAdjust="spacing" style="font-size:8.2px;font-weight:bold;font-style:normal;fill:#111">30</text>
<text transform="translate(338.76,779.86) scale(1.12,1)" textLength="10.39" lengthAdjust="spacing" style="font-size:8.2px;font-weight:bold;font-style:normal;fill:#111">40</text>
<text transform="translate(338.76,767.55) scale(1.12,1)" textLength="10.39" lengthAdjust="spacing" style="font-size:8.2px;font-weight:bold;font-style:normal;fill:#111">50</text>
<text transform="translate(350.88,902.45) scale(1.12,1)" textLength="10.39" lengthAdjust="spacing" style="font-size:8.2px;font-weight:bold;font-style:normal;fill:#111">70</text>
<text transform="translate(396.95,902.45) scale(1.12,1)" textLength="10.39" lengthAdjust="spacing" style="font-size:8.2px;font-weight:bold;font-style:normal;fill:#111">80</text>
<text transform="translate(443.03,902.45) scale(1.12,1)" textLength="10.39" lengthAdjust="spacing" style="font-size:8.2px;font-weight:bold;font-style:normal;fill:#111">90</text>
<text transform="translate(486.08,902.45) scale(1.12,1)" textLength="15.8" lengthAdjust="spacing" style="font-size:8.2px;font-weight:bold;font-style:normal;fill:#111">100</text>
<text transform="translate(532.15,902.45) scale(1.12,1)" textLength="15.8" lengthAdjust="spacing" style="font-size:8.2px;font-weight:bold;font-style:normal;fill:#111">110</text>
<text transform="translate(424.7,744.7) scale(0.95,1)" textLength="50.84" lengthAdjust="spacing" style="font-size:8.2px;font-weight:bold;font-style:normal;fill:#111">CO (Ctrl)</text>
<text transform="translate(426,919.5) scale(0.98,1)" textLength="46.33" lengthAdjust="spacing" style="font-size:8.2px;font-weight:bold;font-style:normal;fill:#111">Average</text>
<text transform="translate(328.4,853.3) rotate(-90) scale(0.98,1)" textLength="58.47" lengthAdjust="spacing" style="font-size:8.2px;font-weight:bold;font-style:normal;fill:#111">Difference</text>
<text transform="translate(476.2,871.3) scale(1,1)" textLength="60.2" lengthAdjust="spacing" style="font-size:8.2px;font-weight:bold;font-style:normal;fill:#111">Bias = 6.38</text>
<text transform="translate(432.4,885.3) scale(1,1)" textLength="104" lengthAdjust="spacing" style="font-size:8.2px;font-weight:bold;font-style:normal;fill:#111">LOA = -31.0 to 43.8</text>
<line x1="581" y1="886.7" x2="584.8" y2="886.7" stroke="#000" stroke-width="1.25" stroke-linecap="butt"/>
<line x1="582.6" y1="885.5" x2="584.8" y2="885.5" stroke="#000" stroke-width="0.77" stroke-linecap="butt"/>
<line x1="582.6" y1="883.5" x2="584.8" y2="883.5" stroke="#000" stroke-width="0.77" stroke-linecap="butt"/>
<line x1="582.6" y1="882.5" x2="584.8" y2="882.5" stroke="#000" stroke-width="0.77" stroke-linecap="butt"/>
<line x1="582.6" y1="880.5" x2="584.8" y2="880.5" stroke="#000" stroke-width="0.77" stroke-linecap="butt"/>
<line x1="582.6" y1="879.5" x2="584.8" y2="879.5" stroke="#000" stroke-width="0.77" stroke-linecap="butt"/>
<line x1="582.6" y1="877.5" x2="584.8" y2="877.5" stroke="#000" stroke-width="0.77" stroke-linecap="butt"/>
<line x1="582.6" y1="875.5" x2="584.8" y2="875.5" stroke="#000" stroke-width="0.77" stroke-linecap="butt"/>
<line x1="582.6" y1="874.5" x2="584.8" y2="874.5" stroke="#000" stroke-width="0.77" stroke-linecap="butt"/>
<line x1="582.6" y1="872.5" x2="584.8" y2="872.5" stroke="#000" stroke-width="0.77" stroke-linecap="butt"/>
<line x1="581" y1="871.3" x2="584.8" y2="871.3" stroke="#000" stroke-width="1.25" stroke-linecap="butt"/>
<line x1="582.6" y1="869.5" x2="584.8" y2="869.5" stroke="#000" stroke-width="0.77" stroke-linecap="butt"/>
<line x1="582.6" y1="868.5" x2="584.8" y2="868.5" stroke="#000" stroke-width="0.77" stroke-linecap="butt"/>
<line x1="582.6" y1="866.5" x2="584.8" y2="866.5" stroke="#000" stroke-width="0.77" stroke-linecap="butt"/>
<line x1="582.6" y1="865.5" x2="584.8" y2="865.5" stroke="#000" stroke-width="0.77" stroke-linecap="butt"/>
<line x1="582.6" y1="863.5" x2="584.8" y2="863.5" stroke="#000" stroke-width="0.77" stroke-linecap="butt"/>
<line x1="582.6" y1="862.5" x2="584.8" y2="862.5" stroke="#000" stroke-width="0.77" stroke-linecap="butt"/>
<line x1="582.6" y1="860.5" x2="584.8" y2="860.5" stroke="#000" stroke-width="0.77" stroke-linecap="butt"/>
<line x1="582.6" y1="858.5" x2="584.8" y2="858.5" stroke="#000" stroke-width="0.77" stroke-linecap="butt"/>
<line x1="582.6" y1="857.5" x2="584.8" y2="857.5" stroke="#000" stroke-width="0.77" stroke-linecap="butt"/>
<line x1="581" y1="855.9" x2="584.8" y2="855.9" stroke="#000" stroke-width="1.25" stroke-linecap="butt"/>
<line x1="582.6" y1="854.5" x2="584.8" y2="854.5" stroke="#000" stroke-width="0.77" stroke-linecap="butt"/>
<line x1="582.6" y1="852.5" x2="584.8" y2="852.5" stroke="#000" stroke-width="0.77" stroke-linecap="butt"/>
<line x1="582.6" y1="851.5" x2="584.8" y2="851.5" stroke="#000" stroke-width="0.77" stroke-linecap="butt"/>
<line x1="582.6" y1="849.5" x2="584.8" y2="849.5" stroke="#000" stroke-width="0.77" stroke-linecap="butt"/>
<line x1="582.6" y1="848.5" x2="584.8" y2="848.5" stroke="#000" stroke-width="0.77" stroke-linecap="butt"/>
<line x1="582.6" y1="846.5" x2="584.8" y2="846.5" stroke="#000" stroke-width="0.77" stroke-linecap="butt"/>
<line x1="582.6" y1="845.5" x2="584.8" y2="845.5" stroke="#000" stroke-width="0.77" stroke-linecap="butt"/>
<line x1="582.6" y1="843.5" x2="584.8" y2="843.5" stroke="#000" stroke-width="0.77" stroke-linecap="butt"/>
<line x1="582.6" y1="842.5" x2="584.8" y2="842.5" stroke="#000" stroke-width="0.77" stroke-linecap="butt"/>
<line x1="581" y1="840.5" x2="584.8" y2="840.5" stroke="#000" stroke-width="1.25" stroke-linecap="butt"/>
<line x1="582.6" y1="838.5" x2="584.8" y2="838.5" stroke="#000" stroke-width="0.77" stroke-linecap="butt"/>
<line x1="582.6" y1="837.5" x2="584.8" y2="837.5" stroke="#000" stroke-width="0.77" stroke-linecap="butt"/>
<line x1="582.6" y1="835.5" x2="584.8" y2="835.5" stroke="#000" stroke-width="0.77" stroke-linecap="butt"/>
<line x1="582.6" y1="834.5" x2="584.8" y2="834.5" stroke="#000" stroke-width="0.77" stroke-linecap="butt"/>
<line x1="582.6" y1="832.5" x2="584.8" y2="832.5" stroke="#000" stroke-width="0.77" stroke-linecap="butt"/>
<line x1="582.6" y1="831.5" x2="584.8" y2="831.5" stroke="#000" stroke-width="0.77" stroke-linecap="butt"/>
<line x1="582.6" y1="829.5" x2="584.8" y2="829.5" stroke="#000" stroke-width="0.77" stroke-linecap="butt"/>
<line x1="582.6" y1="828.5" x2="584.8" y2="828.5" stroke="#000" stroke-width="0.77" stroke-linecap="butt"/>
<line x1="582.6" y1="826.5" x2="584.8" y2="826.5" stroke="#000" stroke-width="0.77" stroke-linecap="butt"/>
<line x1="581" y1="825.1" x2="584.8" y2="825.1" stroke="#000" stroke-width="1.25" stroke-linecap="butt"/>
<line x1="582.6" y1="823.5" x2="584.8" y2="823.5" stroke="#000" stroke-width="0.77" stroke-linecap="butt"/>
<line x1="582.6" y1="822.5" x2="584.8" y2="822.5" stroke="#000" stroke-width="0.77" stroke-linecap="butt"/>
<line x1="582.6" y1="820.5" x2="584.8" y2="820.5" stroke="#000" stroke-width="0.77" stroke-linecap="butt"/>
<line x1="582.6" y1="818.5" x2="584.8" y2="818.5" stroke="#000" stroke-width="0.77" stroke-linecap="butt"/>
<line x1="582.6" y1="817.5" x2="584.8" y2="817.5" stroke="#000" stroke-width="0.77" stroke-linecap="butt"/>
<line x1="582.6" y1="815.5" x2="584.8" y2="815.5" stroke="#000" stroke-width="0.77" stroke-linecap="butt"/>
<line x1="582.6" y1="814.5" x2="584.8" y2="814.5" stroke="#000" stroke-width="0.77" stroke-linecap="butt"/>
<line x1="582.6" y1="812.5" x2="584.8" y2="812.5" stroke="#000" stroke-width="0.77" stroke-linecap="butt"/>
<line x1="582.6" y1="811.5" x2="584.8" y2="811.5" stroke="#000" stroke-width="0.77" stroke-linecap="butt"/>
<line x1="581" y1="809.7" x2="584.8" y2="809.7" stroke="#000" stroke-width="1.25" stroke-linecap="butt"/>
<line x1="582.6" y1="808.5" x2="584.8" y2="808.5" stroke="#000" stroke-width="0.77" stroke-linecap="butt"/>
<line x1="582.6" y1="806.5" x2="584.8" y2="806.5" stroke="#000" stroke-width="0.77" stroke-linecap="butt"/>
<line x1="582.6" y1="805.5" x2="584.8" y2="805.5" stroke="#000" stroke-width="0.77" stroke-linecap="butt"/>
<line x1="582.6" y1="803.5" x2="584.8" y2="803.5" stroke="#000" stroke-width="0.77" stroke-linecap="butt"/>
<line x1="582.6" y1="802.5" x2="584.8" y2="802.5" stroke="#000" stroke-width="0.77" stroke-linecap="butt"/>
<line x1="582.6" y1="800.5" x2="584.8" y2="800.5" stroke="#000" stroke-width="0.77" stroke-linecap="butt"/>
<line x1="582.6" y1="798.5" x2="584.8" y2="798.5" stroke="#000" stroke-width="0.77" stroke-linecap="butt"/>
<line x1="582.6" y1="797.5" x2="584.8" y2="797.5" stroke="#000" stroke-width="0.77" stroke-linecap="butt"/>
<line x1="582.6" y1="795.5" x2="584.8" y2="795.5" stroke="#000" stroke-width="0.77" stroke-linecap="butt"/>
<line x1="581" y1="794.3" x2="584.8" y2="794.3" stroke="#000" stroke-width="1.25" stroke-linecap="butt"/>
<line x1="582.6" y1="792.5" x2="584.8" y2="792.5" stroke="#000" stroke-width="0.77" stroke-linecap="butt"/>
<line x1="582.6" y1="791.5" x2="584.8" y2="791.5" stroke="#000" stroke-width="0.77" stroke-linecap="butt"/>
<line x1="582.6" y1="789.5" x2="584.8" y2="789.5" stroke="#000" stroke-width="0.77" stroke-linecap="butt"/>
<line x1="582.6" y1="788.5" x2="584.8" y2="788.5" stroke="#000" stroke-width="0.77" stroke-linecap="butt"/>
<line x1="582.6" y1="786.5" x2="584.8" y2="786.5" stroke="#000" stroke-width="0.77" stroke-linecap="butt"/>
<line x1="582.6" y1="785.5" x2="584.8" y2="785.5" stroke="#000" stroke-width="0.77" stroke-linecap="butt"/>
<line x1="582.6" y1="783.5" x2="584.8" y2="783.5" stroke="#000" stroke-width="0.77" stroke-linecap="butt"/>
<line x1="582.6" y1="781.5" x2="584.8" y2="781.5" stroke="#000" stroke-width="0.77" stroke-linecap="butt"/>
<line x1="582.6" y1="780.5" x2="584.8" y2="780.5" stroke="#000" stroke-width="0.77" stroke-linecap="butt"/>
<line x1="581" y1="778.9" x2="584.8" y2="778.9" stroke="#000" stroke-width="1.25" stroke-linecap="butt"/>
<line x1="582.6" y1="777.5" x2="584.8" y2="777.5" stroke="#000" stroke-width="0.77" stroke-linecap="butt"/>
<line x1="582.6" y1="775.5" x2="584.8" y2="775.5" stroke="#000" stroke-width="0.77" stroke-linecap="butt"/>
<line x1="582.6" y1="774.5" x2="584.8" y2="774.5" stroke="#000" stroke-width="0.77" stroke-linecap="butt"/>
<line x1="582.6" y1="772.5" x2="584.8" y2="772.5" stroke="#000" stroke-width="0.77" stroke-linecap="butt"/>
<line x1="582.6" y1="771.5" x2="584.8" y2="771.5" stroke="#000" stroke-width="0.77" stroke-linecap="butt"/>
<line x1="582.6" y1="769.5" x2="584.8" y2="769.5" stroke="#000" stroke-width="0.77" stroke-linecap="butt"/>
<line x1="582.6" y1="768.5" x2="584.8" y2="768.5" stroke="#000" stroke-width="0.77" stroke-linecap="butt"/>
<line x1="582.6" y1="766.5" x2="584.8" y2="766.5" stroke="#000" stroke-width="0.77" stroke-linecap="butt"/>
<line x1="582.6" y1="765.5" x2="584.8" y2="765.5" stroke="#000" stroke-width="0.77" stroke-linecap="butt"/>
<line x1="581" y1="763.5" x2="584.8" y2="763.5" stroke="#000" stroke-width="1.25" stroke-linecap="butt"/>
<line x1="584.8" y1="886.7" x2="584.8" y2="890.3" stroke="#000" stroke-width="1.25" stroke-linecap="butt"/>
<line x1="592.5" y1="886.7" x2="592.5" y2="888.9" stroke="#000" stroke-width="1" stroke-linecap="butt"/>
<line x1="599.5" y1="886.7" x2="599.5" y2="888.9" stroke="#000" stroke-width="1" stroke-linecap="butt"/>
<line x1="606.5" y1="886.7" x2="606.5" y2="888.9" stroke="#000" stroke-width="1" stroke-linecap="butt"/>
<line x1="614.5" y1="886.7" x2="614.5" y2="888.9" stroke="#000" stroke-width="1" stroke-linecap="butt"/>
<line x1="621.72" y1="886.7" x2="621.72" y2="890.3" stroke="#000" stroke-width="1.25" stroke-linecap="butt"/>
<line x1="629.5" y1="886.7" x2="629.5" y2="888.9" stroke="#000" stroke-width="1" stroke-linecap="butt"/>
<line x1="636.5" y1="886.7" x2="636.5" y2="888.9" stroke="#000" stroke-width="1" stroke-linecap="butt"/>
<line x1="643.5" y1="886.7" x2="643.5" y2="888.9" stroke="#000" stroke-width="1" stroke-linecap="butt"/>
<line x1="651.5" y1="886.7" x2="651.5" y2="888.9" stroke="#000" stroke-width="1" stroke-linecap="butt"/>
<line x1="658.64" y1="886.7" x2="658.64" y2="890.3" stroke="#000" stroke-width="1.25" stroke-linecap="butt"/>
<line x1="666.5" y1="886.7" x2="666.5" y2="888.9" stroke="#000" stroke-width="1" stroke-linecap="butt"/>
<line x1="673.5" y1="886.7" x2="673.5" y2="888.9" stroke="#000" stroke-width="1" stroke-linecap="butt"/>
<line x1="680.5" y1="886.7" x2="680.5" y2="888.9" stroke="#000" stroke-width="1" stroke-linecap="butt"/>
<line x1="688.5" y1="886.7" x2="688.5" y2="888.9" stroke="#000" stroke-width="1" stroke-linecap="butt"/>
<line x1="695.56" y1="886.7" x2="695.56" y2="890.3" stroke="#000" stroke-width="1.25" stroke-linecap="butt"/>
<line x1="702.5" y1="886.7" x2="702.5" y2="888.9" stroke="#000" stroke-width="1" stroke-linecap="butt"/>
<line x1="710.5" y1="886.7" x2="710.5" y2="888.9" stroke="#000" stroke-width="1" stroke-linecap="butt"/>
<line x1="717.5" y1="886.7" x2="717.5" y2="888.9" stroke="#000" stroke-width="1" stroke-linecap="butt"/>
<line x1="725.5" y1="886.7" x2="725.5" y2="888.9" stroke="#000" stroke-width="1" stroke-linecap="butt"/>
<line x1="732.48" y1="886.7" x2="732.48" y2="890.3" stroke="#000" stroke-width="1.25" stroke-linecap="butt"/>
<line x1="739.5" y1="886.7" x2="739.5" y2="888.9" stroke="#000" stroke-width="1" stroke-linecap="butt"/>
<line x1="747.5" y1="886.7" x2="747.5" y2="888.9" stroke="#000" stroke-width="1" stroke-linecap="butt"/>
<line x1="754.5" y1="886.7" x2="754.5" y2="888.9" stroke="#000" stroke-width="1" stroke-linecap="butt"/>
<line x1="762.5" y1="886.7" x2="762.5" y2="888.9" stroke="#000" stroke-width="1" stroke-linecap="butt"/>
<line x1="769.4" y1="886.7" x2="769.4" y2="890.3" stroke="#000" stroke-width="1.25" stroke-linecap="butt"/>
<line x1="589.4" y1="798.1" x2="768.9" y2="798.1" stroke="#1f9f6c" stroke-width="1.5" stroke-linecap="butt" stroke-dasharray="1.5 3.95"/>
<line x1="589.4" y1="844.4" x2="768.9" y2="844.4" stroke="#1f9f6c" stroke-width="1.5" stroke-linecap="butt" stroke-dasharray="1.5 3.95"/>
<line x1="584.8" y1="825.1" x2="769.4" y2="825.1" stroke="#000" stroke-width="1.7" stroke-linecap="butt"/>
<line x1="585.3" y1="820.8" x2="768.9" y2="820.8" stroke="#0e9a62" stroke-width="1.5" stroke-linecap="butt" stroke-dasharray="5.2 3.85" stroke-dashoffset="1.2"/>
<rect x="657.2" y="805.3" width="5.6" height="5.6" fill="#fff" stroke="#0e9a62" stroke-width="1.4"/>
<rect x="722.9" y="801.8" width="5.6" height="5.6" fill="#fff" stroke="#0e9a62" stroke-width="1.4"/>
<rect x="655.1" y="820.3" width="5.6" height="5.6" fill="#fff" stroke="#0e9a62" stroke-width="1.4"/>
<rect x="648.6" y="828.9" width="5.6" height="5.6" fill="#fff" stroke="#0e9a62" stroke-width="1.4"/>
<rect x="673.4" y="828.9" width="5.6" height="5.6" fill="#fff" stroke="#0e9a62" stroke-width="1.4"/>
<rect x="714.1" y="823.6" width="5.6" height="5.6" fill="#fff" stroke="#0e9a62" stroke-width="1.4"/>
<rect x="584.8" y="763.5" width="184.6" height="123.2" fill="none" stroke="#000" stroke-width="1.5"/>
<text transform="translate(563.54,890.75) scale(1.12,1)" textLength="13.36" lengthAdjust="spacing" style="font-size:8.2px;font-weight:bold;font-style:normal;fill:#111">-40</text>
<text transform="translate(563.54,875.35) scale(1.12,1)" textLength="13.36" lengthAdjust="spacing" style="font-size:8.2px;font-weight:bold;font-style:normal;fill:#111">-30</text>
<text transform="translate(563.54,859.95) scale(1.12,1)" textLength="13.36" lengthAdjust="spacing" style="font-size:8.2px;font-weight:bold;font-style:normal;fill:#111">-20</text>
<text transform="translate(563.54,844.55) scale(1.12,1)" textLength="13.36" lengthAdjust="spacing" style="font-size:8.2px;font-weight:bold;font-style:normal;fill:#111">-10</text>
<text transform="translate(572.91,829.15) scale(1.12,1)" textLength="4.99" lengthAdjust="spacing" style="font-size:8.2px;font-weight:bold;font-style:normal;fill:#111">0</text>
<text transform="translate(566.86,813.75) scale(1.12,1)" textLength="10.39" lengthAdjust="spacing" style="font-size:8.2px;font-weight:bold;font-style:normal;fill:#111">10</text>
<text transform="translate(566.86,798.35) scale(1.12,1)" textLength="10.39" lengthAdjust="spacing" style="font-size:8.2px;font-weight:bold;font-style:normal;fill:#111">20</text>
<text transform="translate(566.86,782.95) scale(1.12,1)" textLength="10.39" lengthAdjust="spacing" style="font-size:8.2px;font-weight:bold;font-style:normal;fill:#111">30</text>
<text transform="translate(566.86,767.55) scale(1.12,1)" textLength="10.39" lengthAdjust="spacing" style="font-size:8.2px;font-weight:bold;font-style:normal;fill:#111">40</text>
<text transform="translate(582.01,902.55) scale(1.12,1)" textLength="4.99" lengthAdjust="spacing" style="font-size:8.2px;font-weight:bold;font-style:normal;fill:#111">0</text>
<text transform="translate(615.9,902.55) scale(1.12,1)" textLength="10.39" lengthAdjust="spacing" style="font-size:8.2px;font-weight:bold;font-style:normal;fill:#111">20</text>
<text transform="translate(652.82,902.55) scale(1.12,1)" textLength="10.39" lengthAdjust="spacing" style="font-size:8.2px;font-weight:bold;font-style:normal;fill:#111">40</text>
<text transform="translate(689.74,902.55) scale(1.12,1)" textLength="10.39" lengthAdjust="spacing" style="font-size:8.2px;font-weight:bold;font-style:normal;fill:#111">60</text>
<text transform="translate(726.66,902.55) scale(1.12,1)" textLength="10.39" lengthAdjust="spacing" style="font-size:8.2px;font-weight:bold;font-style:normal;fill:#111">80</text>
<text transform="translate(760.55,902.55) scale(1.12,1)" textLength="15.8" lengthAdjust="spacing" style="font-size:8.2px;font-weight:bold;font-style:normal;fill:#111">100</text>
<text transform="translate(631,744.3) scale(0.95,1)" textLength="96.74" lengthAdjust="spacing" style="font-size:8.2px;font-weight:bold;font-style:normal;fill:#111">CO (TetO/mRen)</text>
<text transform="translate(653.3,919.3) scale(0.98,1)" textLength="47.35" lengthAdjust="spacing" style="font-size:8.2px;font-weight:bold;font-style:normal;fill:#111">Average</text>
<text transform="translate(555.8,853) rotate(-90) scale(0.98,1)" textLength="58.57" lengthAdjust="spacing" style="font-size:8.2px;font-weight:bold;font-style:normal;fill:#111">Difference</text>
<text transform="translate(702.1,870.2) scale(1,1)" textLength="61.1" lengthAdjust="spacing" style="font-size:8.2px;font-weight:bold;font-style:normal;fill:#111">Bias = 2.47</text>
<text transform="translate(658.5,884.4) scale(1,1)" textLength="104.7" lengthAdjust="spacing" style="font-size:8.2px;font-weight:bold;font-style:normal;fill:#111">LOA = -12.5 to 17.5</text>
</svg></body></html>
